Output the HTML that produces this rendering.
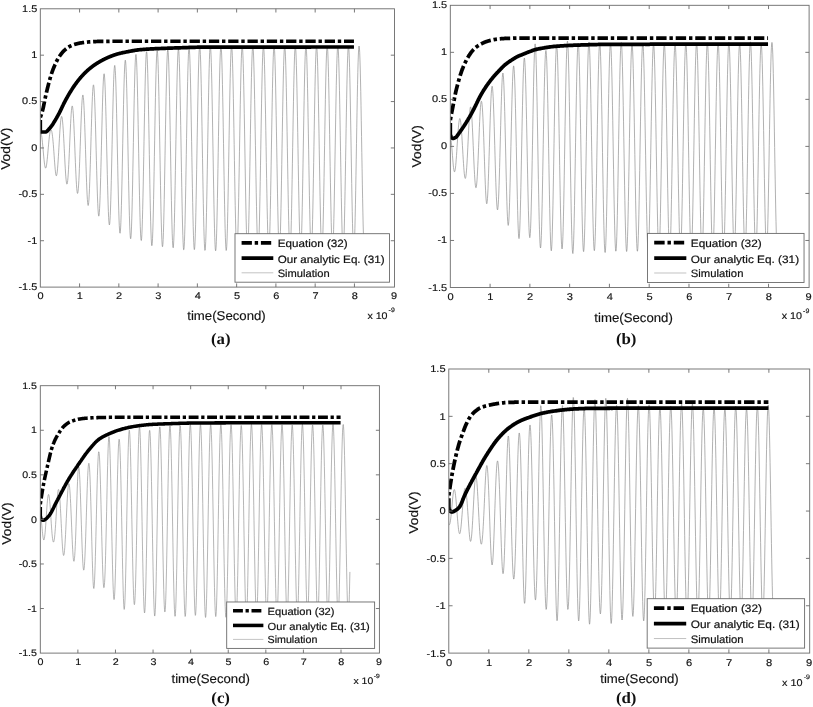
<!DOCTYPE html>
<html><head><meta charset="utf-8"><title>Vod startup figure</title>
<style>
html,body{margin:0;padding:0;background:#fff}
svg{display:block;font-family:"Liberation Sans",sans-serif;text-rendering:geometricPrecision}
</style></head><body>
<svg width="813" height="707" viewBox="0 0 813 707">
<rect width="813" height="707" fill="#fff"/>
<g>
<clipPath id="clip411"><rect x="40.30" y="8.80" width="354.20" height="278.30"/></clipPath>
<g clip-path="url(#clip411)">
<path d="M40.30,132.18 L40.57,132.00 L40.83,132.24 L41.10,132.92 L41.36,134.03 L41.63,135.55 L41.90,137.47 L42.16,139.73 L42.43,142.27 L42.69,145.05 L42.96,147.98 L43.23,150.99 L43.49,153.98 L43.76,156.88 L44.02,159.59 L44.29,162.05 L44.55,164.17 L44.82,165.89 L45.09,167.15 L45.35,167.92 L45.62,168.17 L45.88,167.90 L46.15,167.11 L46.42,165.83 L46.68,164.10 L46.95,161.97 L47.21,159.52 L47.48,156.80 L47.75,153.90 L48.01,150.89 L48.28,147.85 L48.54,144.86 L48.81,142.00 L49.08,139.31 L49.34,136.88 L49.61,134.74 L49.87,132.94 L50.14,131.51 L50.41,130.48 L50.67,129.87 L50.94,129.68 L51.20,129.86 L51.47,130.39 L51.74,131.29 L52.00,132.57 L52.27,134.24 L52.53,136.30 L52.80,138.76 L53.06,141.57 L53.33,144.72 L53.60,148.14 L53.86,151.75 L54.13,155.48 L54.39,159.21 L54.66,162.84 L54.93,166.23 L55.19,169.28 L55.46,171.85 L55.72,173.86 L55.99,175.19 L56.26,175.80 L56.52,175.66 L56.79,174.82 L57.05,173.27 L57.32,171.05 L57.59,168.22 L57.85,164.83 L58.12,160.98 L58.38,156.75 L58.65,152.25 L58.92,147.60 L59.18,142.90 L59.45,138.28 L59.71,133.85 L59.98,129.73 L60.25,126.01 L60.51,122.79 L60.78,120.16 L61.04,118.19 L61.31,116.92 L61.57,116.39 L61.84,116.65 L62.11,117.68 L62.37,119.48 L62.64,122.00 L62.90,125.21 L63.17,129.03 L63.44,133.37 L63.70,138.13 L63.97,143.20 L64.23,148.46 L64.50,153.78 L64.77,159.03 L65.03,164.07 L65.30,168.79 L65.56,173.05 L65.83,176.75 L66.10,179.79 L66.36,182.07 L66.63,183.54 L66.89,184.15 L67.16,183.87 L67.43,182.71 L67.69,180.66 L67.96,177.77 L68.22,174.10 L68.49,169.72 L68.75,164.72 L69.02,159.21 L69.29,153.34 L69.55,147.23 L69.82,141.04 L70.08,134.92 L70.35,129.03 L70.62,123.53 L70.88,118.56 L71.15,114.27 L71.41,110.76 L71.68,108.15 L71.95,106.52 L72.21,105.91 L72.48,106.35 L72.74,107.85 L73.01,110.37 L73.28,113.85 L73.54,118.21 L73.81,123.34 L74.07,129.13 L74.34,135.42 L74.61,142.07 L74.87,148.90 L75.14,155.76 L75.40,162.47 L75.67,168.87 L75.94,174.80 L76.20,180.11 L76.47,184.67 L76.73,188.37 L77.00,191.10 L77.26,192.81 L77.53,193.43 L77.80,192.96 L78.06,191.39 L78.33,188.75 L78.59,185.07 L78.86,180.43 L79.13,174.91 L79.39,168.63 L79.66,161.73 L79.92,154.37 L80.19,146.71 L80.46,138.95 L80.72,131.28 L80.99,123.90 L81.25,116.99 L81.52,110.76 L81.79,105.36 L82.05,100.97 L82.32,97.70 L82.58,95.67 L82.85,94.95 L83.12,95.56 L83.38,97.48 L83.65,100.69 L83.91,105.11 L84.18,110.64 L84.44,117.15 L84.71,124.48 L84.98,132.45 L85.24,140.87 L85.51,149.53 L85.77,158.21 L86.04,166.71 L86.31,174.80 L86.57,182.29 L86.84,188.99 L87.10,194.72 L87.37,199.34 L87.64,202.74 L87.90,204.80 L88.17,205.49 L88.43,204.76 L88.70,202.61 L88.97,199.10 L89.23,194.29 L89.50,188.28 L89.76,181.22 L90.03,173.27 L90.30,164.61 L90.56,155.46 L90.83,146.03 L91.09,136.56 L91.36,127.28 L91.63,118.42 L91.89,110.22 L92.16,102.88 L92.42,96.59 L92.69,91.52 L92.95,87.81 L93.22,85.56 L93.49,84.85 L93.75,85.70 L94.02,88.11 L94.28,92.02 L94.55,97.35 L94.82,103.99 L95.08,111.77 L95.35,120.50 L95.61,129.98 L95.88,139.99 L96.15,150.26 L96.41,160.56 L96.68,170.62 L96.94,180.19 L97.21,189.04 L97.48,196.94 L97.74,203.69 L98.01,209.11 L98.27,213.06 L98.54,215.43 L98.81,216.15 L99.07,215.20 L99.34,212.58 L99.60,208.35 L99.87,202.58 L100.14,195.41 L100.40,187.00 L100.67,177.54 L100.93,167.25 L101.20,156.38 L101.46,145.19 L101.73,133.98 L102.00,123.00 L102.26,112.55 L102.53,102.90 L102.79,94.29 L103.06,86.96 L103.33,81.09 L103.59,76.87 L103.86,74.39 L104.12,73.75 L104.39,74.96 L104.66,77.99 L104.92,82.77 L105.19,89.20 L105.45,97.11 L105.72,106.31 L105.99,116.57 L106.25,127.65 L106.52,139.26 L106.78,151.12 L107.05,162.94 L107.32,174.42 L107.58,185.29 L107.85,195.27 L108.11,204.12 L108.38,211.62 L108.64,217.58 L108.91,221.85 L109.18,224.32 L109.44,224.93 L109.71,223.65 L109.97,220.52 L110.24,215.59 L110.51,208.97 L110.77,200.80 L111.04,191.27 L111.30,180.59 L111.57,169.02 L111.84,156.84 L112.10,144.34 L112.37,131.82 L112.63,119.61 L112.90,108.00 L113.17,97.30 L113.43,87.78 L113.70,79.70 L113.96,73.27 L114.23,68.67 L114.50,66.03 L114.76,65.42 L115.03,66.87 L115.29,70.34 L115.56,75.75 L115.83,82.97 L116.09,91.83 L116.36,102.12 L116.62,113.57 L116.89,125.91 L117.15,138.84 L117.42,152.04 L117.69,165.17 L117.95,177.92 L118.22,189.96 L118.48,201.01 L118.75,210.77 L119.02,219.01 L119.28,225.51 L119.55,230.12 L119.81,232.72 L120.08,233.23 L120.35,231.63 L120.61,227.96 L120.88,222.30 L121.14,214.78 L121.41,205.59 L121.68,194.94 L121.94,183.11 L122.21,170.37 L122.47,157.04 L122.74,143.45 L123.01,129.94 L123.27,116.83 L123.54,104.45 L123.80,93.11 L124.07,83.10 L124.33,74.65 L124.60,67.99 L124.87,63.29 L125.13,60.66 L125.40,60.18 L125.66,61.86 L125.93,65.68 L126.20,71.53 L126.46,79.30 L126.73,88.78 L126.99,99.76 L127.26,111.97 L127.53,125.11 L127.79,138.87 L128.06,152.89 L128.32,166.85 L128.59,180.38 L128.86,193.16 L129.12,204.87 L129.39,215.22 L129.65,223.93 L129.92,230.79 L130.19,235.63 L130.45,238.31 L130.72,238.77 L130.98,236.99 L131.25,233.01 L131.52,226.92 L131.78,218.86 L132.05,209.02 L132.31,197.63 L132.58,184.96 L132.84,171.33 L133.11,157.06 L133.38,142.51 L133.64,128.05 L133.91,114.03 L134.17,100.80 L134.44,88.72 L134.71,78.07 L134.97,69.14 L135.24,62.15 L135.50,57.30 L135.77,54.70 L136.04,54.43 L136.30,56.48 L136.57,60.79 L136.83,67.27 L137.10,75.74 L137.37,85.98 L137.63,97.75 L137.90,110.74 L138.16,124.63 L138.43,139.08 L138.70,153.73 L138.96,168.21 L139.23,182.17 L139.49,195.27 L139.76,207.18 L140.03,217.63 L140.29,226.35 L140.56,233.14 L140.82,237.83 L141.09,240.31 L141.35,240.53 L141.62,238.50 L141.89,234.27 L142.15,227.94 L142.42,219.63 L142.68,209.55 L142.95,197.91 L143.22,185.00 L143.48,171.12 L143.75,156.59 L144.01,141.78 L144.28,127.04 L144.55,112.74 L144.81,99.23 L145.08,86.86 L145.34,75.96 L145.61,66.79 L145.88,59.61 L146.14,54.61 L146.41,51.93 L146.67,51.64 L146.94,53.74 L147.21,58.17 L147.47,64.83 L147.74,73.55 L148.00,84.14 L148.27,96.32 L148.53,109.81 L148.80,124.26 L149.07,139.33 L149.33,154.65 L149.60,169.82 L149.86,184.47 L150.13,198.24 L150.40,210.78 L150.66,221.78 L150.93,230.96 L151.19,238.09 L151.46,242.99 L151.73,245.54 L151.99,245.67 L152.26,243.38 L152.52,238.72 L152.79,231.83 L153.06,222.86 L153.32,212.05 L153.59,199.66 L153.85,186.00 L154.12,171.42 L154.39,156.26 L154.65,140.92 L154.92,125.76 L155.18,111.16 L155.45,97.48 L155.72,85.05 L155.98,74.19 L156.25,65.14 L156.51,58.14 L156.78,53.35 L157.04,50.88 L157.31,50.81 L157.58,53.11 L157.84,57.73 L158.11,64.57 L158.37,73.47 L158.64,84.21 L158.91,96.54 L159.17,110.16 L159.44,124.74 L159.70,139.93 L159.97,155.35 L160.24,170.63 L160.50,185.38 L160.77,199.24 L161.03,211.86 L161.30,222.91 L161.57,232.13 L161.83,239.26 L162.10,244.13 L162.36,246.61 L162.63,246.64 L162.90,244.22 L163.16,239.41 L163.43,232.35 L163.69,223.20 L163.96,212.20 L164.22,199.62 L164.49,185.78 L164.76,171.01 L165.02,155.69 L165.29,140.19 L165.55,124.90 L165.82,110.19 L166.09,96.43 L166.35,83.94 L166.62,73.05 L166.88,64.00 L167.15,57.02 L167.42,52.29 L167.68,49.91 L167.95,49.93 L168.21,52.36 L168.48,57.12 L168.75,64.12 L169.01,73.18 L169.28,84.09 L169.54,96.60 L169.81,110.40 L170.08,125.16 L170.34,140.51 L170.61,156.09 L170.87,171.51 L171.14,186.38 L171.41,200.33 L171.67,213.02 L171.94,224.12 L172.20,233.34 L172.47,240.46 L172.73,245.28 L173.00,247.68 L173.27,247.60 L173.53,245.05 L173.80,240.09 L174.06,232.86 L174.33,223.53 L174.60,212.34 L174.86,199.57 L175.13,185.54 L175.39,170.59 L175.66,155.10 L175.93,139.45 L176.19,124.02 L176.46,109.21 L176.72,95.36 L176.99,82.83 L177.26,71.90 L177.52,62.86 L177.79,55.91 L178.05,51.23 L178.32,48.93 L178.59,49.06 L178.85,51.59 L179.12,56.47 L179.38,63.60 L179.65,72.80 L179.92,83.86 L180.18,96.54 L180.45,110.53 L180.71,125.49 L180.98,141.07 L181.24,156.89 L181.51,172.55 L181.78,187.66 L182.04,201.84 L182.31,214.74 L182.57,226.01 L182.84,235.37 L183.11,242.56 L183.37,247.40 L183.64,249.76 L183.90,249.57 L184.17,246.85 L184.44,241.66 L184.70,234.15 L184.97,224.52 L185.23,213.00 L185.50,199.89 L185.77,185.54 L186.03,170.29 L186.30,154.53 L186.56,138.65 L186.83,123.04 L187.10,108.09 L187.36,94.16 L187.63,81.58 L187.89,70.66 L188.16,61.65 L188.42,54.76 L188.69,50.17 L188.96,47.96 L189.22,48.20 L189.49,50.88 L189.75,55.93 L190.02,63.25 L190.29,72.66 L190.55,83.93 L190.82,96.80 L191.08,110.95 L191.35,126.05 L191.62,141.72 L191.88,157.59 L192.15,173.25 L192.41,188.33 L192.68,202.44 L192.95,215.23 L193.21,226.38 L193.48,235.60 L193.74,242.66 L194.01,247.37 L194.28,249.62 L194.54,249.34 L194.81,246.55 L195.07,241.33 L195.34,233.80 L195.61,224.15 L195.87,212.62 L196.14,199.49 L196.40,185.09 L196.67,169.76 L196.93,153.90 L197.20,137.88 L197.47,122.12 L197.73,106.99 L198.00,92.86 L198.26,80.10 L198.53,69.01 L198.80,59.86 L199.06,52.88 L199.33,48.25 L199.59,46.08 L199.86,46.41 L200.13,49.25 L200.39,54.52 L200.66,62.10 L200.92,71.79 L201.19,83.37 L201.46,96.56 L201.72,111.02 L201.99,126.40 L202.25,142.32 L202.52,158.40 L202.79,174.23 L203.05,189.42 L203.32,203.60 L203.58,216.41 L203.85,227.53 L204.11,236.70 L204.38,243.67 L204.65,248.28 L204.91,250.40 L205.18,249.99 L205.44,247.06 L205.71,241.68 L205.98,233.97 L206.24,224.15 L206.51,212.45 L206.77,199.16 L207.04,184.62 L207.31,169.18 L207.57,153.23 L207.84,137.17 L208.10,121.38 L208.37,106.26 L208.64,92.18 L208.90,79.49 L209.17,68.49 L209.43,59.45 L209.70,52.59 L209.97,48.08 L210.23,46.03 L210.50,46.49 L210.76,49.44 L211.03,54.81 L211.30,62.47 L211.56,72.24 L211.83,83.89 L212.09,97.12 L212.36,111.63 L212.62,127.05 L212.89,143.00 L213.16,159.10 L213.42,174.95 L213.69,190.14 L213.95,204.32 L214.22,217.12 L214.49,228.21 L214.75,237.33 L215.02,244.25 L215.28,248.78 L215.55,250.81 L215.82,250.29 L216.08,247.23 L216.35,241.71 L216.61,233.88 L216.88,223.92 L217.15,212.10 L217.41,198.70 L217.68,184.06 L217.94,168.55 L218.21,152.56 L218.48,136.47 L218.74,120.69 L219.01,105.59 L219.27,91.56 L219.54,78.94 L219.81,68.03 L220.07,59.09 L220.34,52.34 L220.60,47.94 L220.87,46.00 L221.13,46.57 L221.40,49.63 L221.67,55.10 L221.93,62.87 L222.20,72.74 L222.46,84.47 L222.73,97.76 L223.00,112.31 L223.26,127.75 L223.53,143.69 L223.79,159.76 L224.06,175.55 L224.33,190.66 L224.59,204.74 L224.86,217.42 L225.12,228.39 L225.39,237.38 L225.66,244.15 L225.92,248.56 L226.19,250.47 L226.45,249.84 L226.72,246.70 L226.99,241.11 L227.25,233.22 L227.52,223.22 L227.78,211.37 L228.05,197.96 L228.31,183.33 L228.58,167.84 L228.85,151.86 L229.11,135.81 L229.38,120.06 L229.64,105.02 L229.91,91.04 L230.18,78.48 L230.44,67.64 L230.71,58.77 L230.97,52.11 L231.24,47.81 L231.51,45.97 L231.77,46.64 L232.04,49.80 L232.30,55.37 L232.57,63.22 L232.84,73.16 L233.10,84.96 L233.37,98.31 L233.63,112.91 L233.90,128.39 L234.17,144.37 L234.43,160.47 L234.70,176.27 L234.96,191.40 L235.23,205.47 L235.50,218.13 L235.76,229.07 L236.03,238.01 L236.29,244.73 L236.56,249.05 L236.82,250.86 L237.09,250.13 L237.36,246.85 L237.62,241.13 L237.89,233.11 L238.15,222.98 L238.42,211.01 L238.69,197.49 L238.95,182.77 L239.22,167.20 L239.48,151.18 L239.75,135.11 L240.02,119.37 L240.28,104.35 L240.55,90.43 L240.81,77.94 L241.08,67.18 L241.35,58.42 L241.61,51.87 L241.88,47.68 L242.14,45.95 L242.41,46.73 L242.68,49.99 L242.94,55.66 L243.21,63.61 L243.47,73.63 L243.74,85.50 L244.01,98.91 L244.27,113.55 L244.54,129.06 L244.80,145.06 L245.07,161.15 L245.33,176.93 L245.60,192.02 L245.87,206.04 L246.13,218.64 L246.40,229.50 L246.66,238.35 L246.93,244.96 L247.20,249.18 L247.46,250.88 L247.73,250.04 L247.99,246.66 L248.26,240.84 L248.53,232.72 L248.79,222.51 L249.06,210.46 L249.32,196.89 L249.59,182.12 L249.86,166.53 L250.12,150.50 L250.39,134.43 L250.65,118.71 L250.92,103.73 L251.19,89.87 L251.45,77.44 L251.72,66.77 L251.98,58.10 L252.25,51.64 L252.51,47.55 L252.78,45.93 L253.05,46.82 L253.31,50.18 L253.58,55.96 L253.84,63.99 L254.11,74.10 L254.38,86.04 L254.64,99.51 L254.91,114.20 L255.17,129.74 L255.44,145.75 L255.71,161.83 L255.97,177.59 L256.24,192.64 L256.50,206.61 L256.77,219.14 L257.04,229.92 L257.30,238.67 L257.57,245.19 L257.83,249.30 L258.10,250.90 L258.37,249.95 L258.63,246.46 L258.90,240.54 L259.16,232.32 L259.43,222.03 L259.70,209.92 L259.96,196.28 L260.23,181.47 L260.49,165.85 L260.76,149.81 L261.02,133.75 L261.29,118.05 L261.56,103.12 L261.82,89.30 L262.09,76.95 L262.35,66.35 L262.62,57.77 L262.89,51.42 L263.15,47.43 L263.42,45.92 L263.68,46.91 L263.95,50.38 L264.22,56.25 L264.48,64.38 L264.75,74.57 L265.01,86.58 L265.28,100.12 L265.55,114.85 L265.81,130.41 L266.08,146.43 L266.34,162.51 L266.61,178.25 L266.88,193.26 L267.14,207.17 L267.41,219.63 L267.67,230.33 L267.94,239.00 L268.20,245.42 L268.47,249.42 L268.74,250.91 L269.00,249.85 L269.27,246.26 L269.53,240.23 L269.80,231.93 L270.07,221.55 L270.33,209.36 L270.60,195.67 L270.86,180.82 L271.13,165.17 L271.40,149.12 L271.66,133.07 L271.93,117.40 L272.19,102.50 L272.46,88.74 L272.73,76.46 L272.99,65.95 L273.26,57.46 L273.52,51.20 L273.79,47.32 L274.06,45.91 L274.32,47.01 L274.59,50.58 L274.85,56.55 L275.12,64.78 L275.39,75.05 L275.65,87.13 L275.92,100.72 L276.18,115.50 L276.45,131.09 L276.71,147.12 L276.98,163.19 L277.25,178.91 L277.51,193.88 L277.78,207.74 L278.04,220.13 L278.31,230.75 L278.58,239.32 L278.84,245.64 L279.11,249.54 L279.37,250.92 L279.64,249.75 L279.91,246.05 L280.17,239.92 L280.44,231.52 L280.70,221.06 L280.97,208.81 L281.24,195.06 L281.50,180.16 L281.77,164.49 L282.03,148.44 L282.30,132.39 L282.57,116.74 L282.83,101.89 L283.10,88.19 L283.36,75.97 L283.63,65.54 L283.90,57.14 L284.16,50.98 L284.43,47.21 L284.69,45.91 L284.96,47.11 L285.22,50.79 L285.49,56.86 L285.76,65.17 L286.02,75.53 L286.29,87.68 L286.55,101.33 L286.82,116.15 L287.09,131.77 L287.35,147.81 L287.62,163.87 L287.88,179.57 L288.15,194.50 L288.42,208.30 L288.68,220.62 L288.95,231.15 L289.21,239.64 L289.48,245.86 L289.75,249.65 L290.01,250.92 L290.28,249.64 L290.54,245.84 L290.81,239.61 L291.08,231.12 L291.34,220.58 L291.61,208.25 L291.87,194.45 L292.14,179.51 L292.40,163.81 L292.67,147.75 L292.94,131.71 L293.20,116.09 L293.47,101.28 L293.73,87.64 L294.00,75.49 L294.27,65.14 L294.53,56.83 L294.80,50.77 L295.06,47.10 L295.33,45.91 L295.60,47.22 L295.86,51.00 L296.13,57.17 L296.39,65.58 L296.66,76.02 L296.93,88.24 L297.19,101.94 L297.46,116.80 L297.72,132.45 L297.99,148.49 L298.26,164.55 L298.52,180.22 L298.79,195.11 L299.05,208.85 L299.32,221.11 L299.59,231.56 L299.85,239.95 L300.12,246.07 L300.38,249.75 L300.65,250.92 L300.91,249.53 L301.18,245.62 L301.45,239.29 L301.71,230.71 L301.98,220.09 L302.24,207.69 L302.51,193.83 L302.78,178.85 L303.04,163.13 L303.31,147.06 L303.57,131.03 L303.84,115.44 L304.11,100.67 L304.37,87.09 L304.64,75.01 L304.90,64.74 L305.17,56.53 L305.44,50.57 L305.70,47.00 L305.97,45.91 L306.23,47.33 L306.50,51.22 L306.77,57.48 L307.03,65.98 L307.30,76.50 L307.56,88.79 L307.83,102.56 L308.09,117.45 L308.36,133.12 L308.63,149.18 L308.89,165.23 L309.16,180.87 L309.42,195.72 L309.69,209.41 L309.96,221.59 L310.22,231.96 L310.49,240.26 L310.75,246.27 L311.02,249.86 L311.29,250.91 L311.55,249.41 L311.82,245.40 L312.08,238.97 L312.35,230.30 L312.62,219.59 L312.88,207.13 L313.15,193.21 L313.41,178.20 L313.68,162.45 L313.95,146.37 L314.21,130.36 L314.48,114.79 L314.74,100.07 L315.01,86.54 L315.28,74.53 L315.54,64.35 L315.81,56.23 L316.07,50.37 L316.34,46.90 L316.60,45.92 L316.87,47.44 L317.14,51.44 L317.40,57.80 L317.67,66.39 L317.93,76.99 L318.20,89.35 L318.47,103.17 L318.73,118.11 L319.00,133.80 L319.26,149.87 L319.53,165.91 L319.80,181.53 L320.06,196.33 L320.33,209.96 L320.59,222.07 L320.86,232.36 L321.13,240.56 L321.39,246.48 L321.66,249.95 L321.92,250.90 L322.19,249.29 L322.46,245.17 L322.72,238.65 L322.99,229.88 L323.25,219.09 L323.52,206.56 L323.79,192.59 L324.05,177.54 L324.32,161.77 L324.58,145.69 L324.85,129.68 L325.11,114.15 L325.38,99.46 L325.65,85.99 L325.91,74.06 L326.18,63.96 L326.44,55.93 L326.71,50.17 L326.98,46.81 L327.24,45.94 L327.51,47.56 L327.77,51.66 L328.04,58.12 L328.31,66.80 L328.57,77.48 L328.84,89.91 L329.10,103.79 L329.37,118.77 L329.64,134.48 L329.90,150.56 L330.17,166.59 L330.43,182.18 L330.70,196.94 L330.97,210.51 L331.23,222.55 L331.50,232.75 L331.76,240.86 L332.03,246.68 L332.29,250.05 L332.56,250.88 L332.83,249.17 L333.09,244.94 L333.36,238.32 L333.62,229.46 L333.89,218.59 L334.16,205.99 L334.42,191.97 L334.69,176.88 L334.95,161.09 L335.22,145.00 L335.49,129.01 L335.75,113.50 L336.02,98.86 L336.28,85.45 L336.55,73.59 L336.82,63.57 L337.08,55.64 L337.35,49.97 L337.61,46.72 L337.88,45.95 L338.15,47.69 L338.41,51.89 L338.68,58.45 L338.94,67.22 L339.21,77.98 L339.48,90.48 L339.74,104.40 L340.01,119.42 L340.27,135.16 L340.54,151.24 L340.80,167.26 L341.07,182.83 L341.34,197.55 L341.60,211.06 L341.87,223.02 L342.13,233.14 L342.40,241.16 L342.67,246.87 L342.93,250.13 L343.20,250.86 L343.46,249.04 L343.73,244.71 L344.00,237.98 L344.26,229.04 L344.53,218.09 L344.79,205.42 L345.06,191.34 L345.33,176.21 L345.59,160.41 L345.86,144.31 L346.12,128.33 L346.39,112.86 L346.66,98.26 L346.92,84.91 L347.19,73.12 L347.45,63.19 L347.72,55.35 L347.98,49.79 L348.25,46.64 L348.52,45.98 L348.78,47.82 L349.05,52.12 L349.31,58.78 L349.58,67.64 L349.85,78.48 L350.11,91.04 L350.38,105.03 L350.64,120.08 L350.91,135.85 L351.18,151.93 L351.44,167.94 L351.71,183.47 L351.97,198.15 L352.24,211.60 L352.51,223.49 L352.77,233.53 L353.04,241.45 L353.30,247.06 L353.57,250.22 L353.84,250.84 L354.10,248.90 L354.37,244.47 L354.63,237.65 L354.90,228.61 L355.17,217.58 L355.43,204.85 L355.70,190.72 L355.96,175.55 L356.23,159.72 L356.49,143.63 L356.76,127.66 L357.03,112.21 L357.29,97.67 L357.56,84.37 L357.82,72.66 L358.09,62.81 L358.36,55.06 L358.62,49.60 L358.89,46.56 L359.15,46.00 L359.42,47.95 L359.69,52.36 L359.95,59.11 L360.22,68.06 L360.48,78.98 L360.75,91.61 L361.02,105.65 L361.28,120.74 L361.55,136.53 L361.81,152.62 L362.08,168.61 L362.35,184.12 L362.61,198.75 L362.88,212.14 L363.14,223.96 L363.41,233.91" fill="none" stroke="#8e8e8e" stroke-width="0.68" stroke-linejoin="round"/>
<path d="M40.30,120.12 L40.30,131.99 L40.63,131.99 L40.96,131.99 L41.09,131.99 L41.29,131.99 L41.62,131.99 L41.87,131.99 L41.95,131.99 L42.28,131.99 L42.61,131.99 L42.66,131.99 L42.93,131.99 L43.26,131.99 L43.44,131.99 L43.59,131.99 L43.92,131.99 L44.23,131.99 L44.25,131.99 L44.58,131.99 L44.91,131.99 L45.02,131.99 L45.24,131.99 L45.57,131.99 L45.80,131.94 L45.90,131.92 L46.23,131.78 L46.56,131.58 L46.59,131.56 L46.89,131.34 L47.22,131.05 L47.38,130.89 L47.55,130.72 L47.87,130.37 L48.16,130.04 L48.20,129.99 L48.53,129.60 L48.86,129.21 L48.95,129.11 L49.19,128.82 L49.52,128.44 L49.73,128.20 L49.85,128.07 L50.18,127.70 L50.51,127.31 L50.52,127.30 L50.84,126.90 L51.17,126.48 L51.31,126.29 L51.50,126.04 L51.83,125.58 L52.09,125.21 L52.16,125.11 L52.49,124.63 L52.81,124.14 L52.88,124.05 L53.14,123.64 L53.47,123.12 L53.66,122.82 L53.80,122.60 L54.13,122.06 L54.45,121.54 L54.46,121.52 L54.79,120.97 L55.12,120.41 L55.24,120.21 L55.45,119.85 L55.78,119.28 L56.02,118.85 L56.11,118.70 L56.44,118.12 L56.77,117.54 L56.81,117.47 L57.10,116.96 L57.43,116.37 L57.59,116.07 L57.75,115.78 L58.08,115.19 L58.38,114.66 L58.41,114.61 L58.74,114.01 L59.07,113.39 L59.17,113.21 L59.40,112.76 L59.73,112.11 L59.95,111.66 L60.06,111.44 L60.39,110.76 L60.72,110.08 L60.74,110.03 L61.05,109.38 L61.38,108.68 L61.53,108.37 L61.71,107.98 L62.04,107.28 L62.31,106.69 L62.37,106.58 L62.69,105.88 L63.02,105.19 L63.10,105.03 L63.35,104.50 L63.68,103.83 L63.88,103.43 L64.01,103.17 L64.34,102.53 L64.67,101.90 L64.67,101.90 L65.00,101.28 L65.33,100.67 L65.46,100.43 L65.66,100.05 L65.99,99.44 L66.24,98.98 L66.32,98.84 L66.65,98.24 L66.98,97.64 L67.03,97.55 L67.31,97.05 L67.63,96.46 L67.81,96.15 L67.96,95.88 L68.29,95.31 L68.60,94.77 L68.62,94.74 L68.95,94.17 L69.28,93.61 L69.39,93.43 L69.61,93.06 L69.94,92.51 L70.17,92.13 L70.27,91.97 L70.60,91.44 L70.93,90.91 L70.96,90.86 L71.26,90.39 L71.59,89.87 L71.74,89.62 L71.92,89.36 L72.25,88.85 L72.53,88.41 L72.57,88.34 L72.90,87.84 L73.23,87.35 L73.32,87.22 L73.56,86.85 L73.89,86.37 L74.10,86.06 L74.22,85.89 L74.55,85.41 L74.88,84.94 L74.89,84.93 L75.21,84.48 L75.54,84.02 L75.68,83.83 L75.87,83.57 L76.20,83.12 L76.46,82.76 L76.53,82.67 L76.86,82.24 L77.19,81.81 L77.25,81.72 L77.51,81.38 L77.84,80.95 L78.03,80.71 L78.17,80.53 L78.50,80.12 L78.82,79.72 L78.83,79.71 L79.16,79.30 L79.49,78.90 L79.61,78.76 L79.82,78.50 L80.15,78.10 L80.39,77.82 L80.48,77.71 L80.81,77.33 L81.14,76.95 L81.18,76.90 L81.47,76.57 L81.80,76.20 L81.96,76.02 L82.13,75.84 L82.45,75.48 L82.75,75.16 L82.78,75.12 L83.11,74.77 L83.44,74.43 L83.54,74.33 L83.77,74.08 L84.10,73.74 L84.32,73.52 L84.43,73.41 L84.76,73.08 L85.09,72.75 L85.11,72.73 L85.42,72.43 L85.75,72.11 L85.90,71.96 L86.08,71.79 L86.41,71.48 L86.68,71.22 L86.74,71.17 L87.07,70.86 L87.39,70.56 L87.47,70.50 L87.72,70.27 L88.05,69.97 L88.25,69.80 L88.38,69.69 L88.71,69.40 L89.04,69.12 L89.04,69.12 L89.37,68.85 L89.70,68.57 L89.83,68.47 L90.03,68.30 L90.36,68.04 L90.61,67.83 L90.69,67.77 L91.02,67.51 L91.35,67.26 L91.40,67.22 L91.68,67.00 L92.01,66.75 L92.18,66.62 L92.33,66.51 L92.66,66.26 L92.97,66.04 L92.99,66.02 L93.32,65.78 L93.65,65.55 L93.76,65.47 L93.98,65.31 L94.31,65.08 L94.54,64.92 L94.64,64.85 L94.97,64.63 L95.30,64.41 L95.33,64.39 L95.63,64.19 L95.96,63.97 L96.11,63.87 L96.29,63.76 L96.62,63.54 L96.90,63.36 L96.95,63.33 L97.27,63.13 L97.60,62.92 L97.69,62.87 L97.93,62.72 L98.26,62.52 L98.47,62.39 L98.59,62.32 L98.92,62.12 L99.25,61.93 L99.26,61.92 L99.58,61.74 L99.91,61.55 L100.05,61.47 L100.24,61.36 L100.57,61.17 L100.83,61.02 L100.90,60.99 L101.23,60.81 L101.56,60.62 L101.62,60.59 L101.89,60.45 L102.22,60.27 L102.40,60.17 L102.54,60.09 L102.87,59.92 L103.19,59.75 L103.20,59.74 L103.53,59.57 L103.86,59.40 L103.98,59.34 L104.19,59.23 L104.52,59.07 L104.76,58.95 L104.85,58.90 L105.18,58.74 L105.51,58.58 L105.55,58.56 L105.84,58.42 L106.17,58.27 L106.33,58.19 L106.50,58.11 L106.83,57.96 L107.12,57.83 L107.16,57.81 L107.48,57.66 L107.81,57.52 L107.91,57.48 L108.14,57.37 L108.47,57.23 L108.69,57.14 L108.80,57.09 L109.13,56.95 L109.46,56.82 L109.48,56.81 L109.79,56.68 L110.12,56.55 L110.27,56.49 L110.45,56.42 L110.78,56.29 L111.05,56.18 L111.11,56.16 L111.44,56.03 L111.77,55.91 L111.84,55.88 L112.10,55.78 L112.42,55.66 L112.62,55.59 L112.75,55.54 L113.08,55.42 L113.41,55.31 L113.41,55.31 L113.74,55.20 L114.07,55.08 L114.20,55.04 L114.40,54.97 L114.73,54.86 L114.98,54.78 L115.06,54.75 L115.39,54.65 L115.72,54.54 L115.77,54.53 L116.05,54.44 L116.38,54.33 L116.55,54.28 L116.71,54.23 L117.04,54.13 L117.34,54.04 L117.36,54.04 L117.69,53.94 L118.02,53.84 L118.13,53.81 L118.35,53.75 L118.68,53.66 L118.91,53.60 L119.01,53.57 L119.70,53.39 L120.48,53.20 L121.27,53.02 L122.06,52.85 L122.84,52.68 L123.63,52.52 L124.42,52.37 L125.20,52.21 L125.99,52.05 L126.77,51.89 L127.56,51.73 L128.35,51.57 L129.13,51.41 L129.92,51.25 L130.70,51.10 L131.49,50.95 L132.28,50.82 L133.06,50.68 L133.85,50.55 L134.63,50.42 L135.42,50.29 L136.21,50.17 L136.99,50.06 L137.78,49.96 L138.57,49.87 L139.35,49.78 L140.14,49.70 L140.92,49.62 L141.71,49.55 L142.50,49.48 L143.28,49.41 L144.07,49.35 L144.85,49.29 L145.64,49.24 L146.43,49.19 L147.21,49.14 L148.00,49.09 L148.79,49.05 L149.57,49.00 L150.36,48.96 L151.14,48.92 L151.93,48.88 L152.72,48.83 L153.50,48.80 L154.29,48.76 L155.07,48.72 L155.86,48.68 L156.65,48.65 L157.43,48.61 L158.22,48.58 L159.00,48.54 L159.79,48.51 L160.58,48.48 L161.36,48.44 L162.15,48.41 L162.94,48.38 L163.72,48.35 L164.51,48.32 L165.29,48.29 L166.08,48.26 L166.87,48.23 L167.65,48.20 L168.44,48.18 L169.22,48.15 L170.01,48.12 L170.80,48.09 L171.58,48.07 L172.37,48.04 L173.16,48.02 L173.94,47.99 L174.73,47.96 L175.51,47.94 L176.30,47.91 L177.09,47.89 L177.87,47.86 L178.66,47.83 L179.44,47.81 L180.23,47.78 L181.02,47.75 L181.80,47.73 L182.59,47.70 L183.37,47.67 L184.16,47.64 L184.95,47.61 L185.73,47.59 L186.52,47.56 L187.31,47.53 L188.09,47.50 L188.88,47.47 L189.66,47.45 L190.45,47.42 L191.24,47.40 L192.02,47.37 L192.81,47.35 L193.59,47.32 L194.38,47.30 L195.17,47.28 L195.95,47.26 L196.74,47.24 L197.52,47.22 L198.31,47.20 L199.10,47.18 L199.88,47.17 L200.67,47.16 L201.46,47.15 L202.24,47.14 L203.03,47.13 L203.81,47.12 L204.60,47.12 L205.39,47.11 L206.17,47.11 L206.96,47.11 L207.74,47.11 L208.53,47.11 L209.32,47.11 L210.10,47.11 L210.89,47.10 L211.68,47.10 L212.46,47.10 L213.25,47.10 L214.03,47.10 L214.82,47.10 L215.61,47.10 L216.39,47.10 L217.18,47.10 L217.96,47.09 L218.75,47.09 L219.54,47.09 L220.32,47.09 L221.11,47.09 L221.89,47.09 L222.68,47.09 L223.47,47.09 L224.25,47.09 L225.04,47.09 L225.83,47.08 L226.61,47.08 L227.40,47.08 L228.18,47.08 L228.97,47.08 L229.76,47.08 L230.54,47.08 L231.33,47.08 L232.11,47.08 L232.90,47.08 L233.69,47.08 L234.47,47.07 L235.26,47.07 L236.05,47.07 L236.83,47.07 L237.62,47.07 L238.40,47.07 L239.19,47.07 L239.98,47.07 L240.76,47.07 L241.55,47.07 L242.33,47.07 L243.12,47.07 L243.91,47.06 L244.69,47.06 L245.48,47.06 L246.26,47.06 L247.05,47.06 L247.84,47.06 L248.62,47.06 L249.41,47.06 L250.20,47.06 L250.98,47.06 L251.77,47.06 L252.55,47.06 L253.34,47.06 L254.13,47.06 L254.91,47.05 L255.70,47.05 L256.48,47.05 L257.27,47.05 L258.06,47.05 L258.84,47.05 L259.63,47.05 L260.41,47.05 L261.20,47.05 L261.99,47.05 L262.77,47.05 L263.56,47.05 L264.35,47.05 L265.13,47.05 L265.92,47.05 L266.70,47.05 L267.49,47.05 L268.28,47.04 L269.06,47.04 L269.85,47.04 L270.63,47.04 L271.42,47.04 L272.21,47.04 L272.99,47.04 L273.78,47.04 L274.57,47.04 L275.35,47.04 L276.14,47.04 L276.92,47.04 L277.71,47.04 L278.50,47.04 L279.28,47.04 L280.07,47.04 L280.85,47.04 L281.64,47.04 L282.43,47.04 L283.21,47.04 L284.00,47.04 L284.78,47.03 L285.57,47.03 L286.36,47.03 L287.14,47.03 L287.93,47.03 L288.72,47.03 L289.50,47.03 L290.29,47.03 L291.07,47.03 L291.86,47.03 L292.65,47.03 L293.43,47.03 L294.22,47.03 L295.00,47.03 L295.79,47.03 L296.58,47.03 L297.36,47.03 L298.15,47.03 L298.94,47.03 L299.72,47.03 L300.51,47.03 L301.29,47.03 L302.08,47.03 L302.87,47.03 L303.65,47.03 L304.44,47.03 L305.22,47.03 L306.01,47.03 L306.80,47.03 L307.58,47.03 L308.37,47.03 L309.15,47.03 L309.94,47.03 L310.73,47.03 L311.51,47.02 L312.30,47.02 L313.09,47.02 L313.87,47.02 L314.66,47.02 L315.44,47.02 L316.23,47.02 L317.02,47.02 L317.80,47.02 L318.59,47.02 L319.37,47.02 L320.16,47.02 L320.95,47.02 L321.73,47.02 L322.52,47.02 L323.30,47.02 L324.09,47.02 L324.88,47.02 L325.66,47.02 L326.45,47.02 L327.24,47.02 L328.02,47.02 L328.81,47.02 L329.59,47.02 L330.38,47.02 L331.17,47.02 L331.95,47.02 L332.74,47.02 L333.52,47.02 L334.31,47.02 L335.10,47.02 L335.88,47.02 L336.67,47.02 L337.46,47.02 L338.24,47.02 L339.03,47.02 L339.81,47.02 L340.60,47.02 L341.39,47.02 L342.17,47.02 L342.96,47.02 L343.74,47.02 L344.53,47.02 L345.32,47.02 L346.10,47.02 L346.89,47.02 L347.67,47.02 L348.46,47.02 L349.25,47.02 L350.03,47.02 L350.82,47.02 L351.61,47.02 L352.39,47.02 L353.18,47.02 L353.96,47.02" fill="none" stroke="#000" stroke-width="3.70" stroke-linejoin="round"/>
<path d="M40.30,117.34 L40.63,116.52 L40.96,115.63 L41.09,115.28 L41.29,114.69 L41.62,113.69 L41.87,112.87 L41.95,112.63 L42.28,111.51 L42.61,110.33 L42.66,110.12 L42.93,109.02 L43.26,107.59 L43.44,106.76 L43.59,106.06 L43.92,104.46 L44.23,102.93 L44.25,102.82 L44.58,101.16 L44.91,99.51 L45.02,98.98 L45.24,97.88 L45.57,96.30 L45.80,95.24 L45.90,94.81 L46.23,93.42 L46.56,92.07 L46.59,91.94 L46.89,90.72 L47.22,89.38 L47.38,88.74 L47.55,88.05 L47.87,86.74 L48.16,85.60 L48.20,85.44 L48.53,84.15 L48.86,82.89 L48.95,82.57 L49.19,81.65 L49.52,80.43 L49.73,79.66 L49.85,79.23 L50.18,78.07 L50.51,76.94 L50.52,76.90 L50.84,75.84 L51.17,74.78 L51.31,74.34 L51.50,73.75 L51.83,72.77 L52.09,72.00 L52.16,71.82 L52.49,70.92 L52.81,70.04 L52.88,69.87 L53.14,69.18 L53.47,68.33 L53.66,67.85 L53.80,67.51 L54.13,66.70 L54.45,65.94 L54.46,65.91 L54.79,65.14 L55.12,64.39 L55.24,64.13 L55.45,63.66 L55.78,62.95 L56.02,62.44 L56.11,62.26 L56.44,61.59 L56.77,60.94 L56.81,60.86 L57.10,60.31 L57.43,59.70 L57.59,59.40 L57.75,59.12 L58.08,58.56 L58.38,58.07 L58.41,58.01 L58.74,57.49 L59.07,56.98 L59.17,56.83 L59.40,56.48 L59.73,55.98 L59.95,55.66 L60.06,55.51 L60.39,55.04 L60.72,54.58 L60.74,54.56 L61.05,54.14 L61.38,53.71 L61.53,53.52 L61.71,53.29 L62.04,52.89 L62.31,52.56 L62.37,52.49 L62.69,52.11 L63.02,51.75 L63.10,51.67 L63.35,51.39 L63.68,51.05 L63.88,50.85 L64.01,50.72 L64.34,50.41 L64.67,50.11 L64.67,50.11 L65.00,49.82 L65.33,49.54 L65.46,49.43 L65.66,49.26 L65.99,48.99 L66.24,48.79 L66.32,48.73 L66.65,48.47 L66.98,48.22 L67.03,48.18 L67.31,47.98 L67.63,47.74 L67.81,47.62 L67.96,47.51 L68.29,47.29 L68.60,47.09 L68.62,47.08 L68.95,46.88 L69.28,46.68 L69.39,46.62 L69.61,46.49 L69.94,46.31 L70.17,46.19 L70.27,46.14 L70.60,45.98 L70.93,45.83 L70.96,45.82 L71.26,45.68 L71.59,45.54 L71.74,45.47 L71.92,45.40 L72.25,45.27 L72.53,45.15 L72.57,45.14 L72.90,45.01 L73.23,44.89 L73.32,44.86 L73.56,44.77 L73.89,44.66 L74.10,44.59 L74.22,44.55 L74.55,44.44 L74.88,44.34 L74.89,44.33 L75.21,44.24 L75.54,44.14 L75.68,44.10 L75.87,44.05 L76.20,43.96 L76.46,43.89 L76.53,43.87 L76.86,43.78 L77.19,43.70 L77.25,43.69 L77.51,43.62 L77.84,43.54 L78.03,43.50 L78.17,43.47 L78.50,43.39 L78.82,43.32 L78.83,43.32 L79.16,43.25 L79.49,43.18 L79.61,43.16 L79.82,43.11 L80.15,43.05 L80.39,43.00 L80.48,42.98 L80.81,42.92 L81.14,42.87 L81.18,42.86 L81.47,42.81 L81.80,42.75 L81.96,42.73 L82.13,42.70 L82.45,42.65 L82.75,42.61 L82.78,42.60 L83.11,42.56 L83.44,42.51 L83.54,42.50 L83.77,42.47 L84.10,42.43 L84.32,42.40 L84.43,42.38 L84.76,42.34 L85.09,42.30 L85.11,42.30 L85.42,42.26 L85.75,42.23 L85.90,42.21 L86.08,42.19 L86.41,42.16 L86.68,42.13 L86.74,42.12 L87.07,42.09 L87.39,42.06 L87.47,42.05 L87.72,42.03 L88.05,42.00 L88.25,41.99 L88.38,41.98 L88.71,41.95 L89.04,41.93 L89.04,41.93 L89.37,41.91 L89.70,41.88 L89.83,41.88 L90.03,41.86 L90.36,41.84 L90.61,41.82 L90.69,41.82 L91.02,41.80 L91.35,41.78 L91.40,41.78 L91.68,41.76 L92.01,41.74 L92.18,41.73 L92.33,41.72 L92.66,41.70 L92.97,41.68 L92.99,41.68 L93.32,41.66 L93.65,41.64 L93.76,41.64 L93.98,41.63 L94.31,41.61 L94.54,41.60 L94.64,41.59 L94.97,41.57 L95.30,41.56 L95.33,41.56 L95.63,41.54 L95.96,41.53 L96.11,41.52 L96.29,41.51 L96.62,41.50 L96.90,41.49 L96.95,41.48 L97.27,41.47 L97.60,41.46 L97.69,41.46 L97.93,41.45 L98.26,41.44 L98.47,41.43 L98.59,41.43 L98.92,41.42 L99.25,41.41 L99.26,41.41 L99.58,41.40 L99.91,41.39 L100.05,41.39 L100.24,41.38 L100.57,41.38 L100.83,41.37 L100.90,41.37 L101.23,41.36 L101.56,41.36 L101.62,41.36 L101.89,41.36 L102.22,41.35 L102.40,41.35 L102.54,41.35 L102.87,41.35 L103.19,41.34 L103.20,41.34 L103.53,41.34 L103.86,41.33 L103.98,41.33 L104.19,41.33 L104.52,41.33 L104.76,41.32 L104.85,41.32 L105.18,41.32 L105.51,41.32 L105.55,41.32 L105.84,41.31 L106.17,41.31 L106.33,41.31 L106.50,41.31 L106.83,41.31 L107.12,41.30 L107.16,41.30 L107.48,41.30 L107.81,41.30 L107.91,41.30 L108.14,41.30 L108.47,41.29 L108.69,41.29 L108.80,41.29 L109.13,41.29 L109.46,41.29 L109.48,41.29 L109.79,41.28 L110.12,41.28 L110.27,41.28 L110.45,41.28 L110.78,41.28 L111.05,41.28 L111.11,41.28 L111.44,41.28 L111.77,41.27 L111.84,41.27 L112.10,41.27 L112.42,41.27 L112.62,41.27 L112.75,41.27 L113.08,41.27 L113.41,41.27 L113.41,41.27 L113.74,41.27 L114.07,41.27 L114.20,41.27 L114.40,41.27 L114.73,41.27 L114.98,41.27 L115.06,41.27 L115.39,41.27 L115.72,41.27 L115.77,41.27 L116.05,41.27 L116.38,41.27 L116.55,41.27 L116.71,41.27 L117.04,41.27 L117.34,41.27 L117.36,41.27 L117.69,41.27 L118.02,41.27 L118.13,41.27 L118.35,41.27 L118.68,41.27 L118.91,41.27 L119.01,41.27 L119.70,41.27 L120.48,41.27 L121.27,41.27 L122.06,41.27 L122.84,41.27 L123.63,41.27 L124.42,41.27 L125.20,41.27 L125.99,41.27 L126.77,41.27 L127.56,41.27 L128.35,41.27 L129.13,41.27 L129.92,41.27 L130.70,41.27 L131.49,41.27 L132.28,41.27 L133.06,41.27 L133.85,41.27 L134.63,41.27 L135.42,41.27 L136.21,41.27 L136.99,41.27 L137.78,41.27 L138.57,41.27 L139.35,41.27 L140.14,41.27 L140.92,41.27 L141.71,41.27 L142.50,41.27 L143.28,41.27 L144.07,41.27 L144.85,41.27 L145.64,41.27 L146.43,41.27 L147.21,41.27 L148.00,41.27 L148.79,41.27 L149.57,41.27 L150.36,41.27 L151.14,41.27 L151.93,41.27 L152.72,41.27 L153.50,41.27 L154.29,41.27 L155.07,41.27 L155.86,41.27 L156.65,41.27 L157.43,41.27 L158.22,41.27 L159.00,41.27 L159.79,41.27 L160.58,41.27 L161.36,41.27 L162.15,41.27 L162.94,41.27 L163.72,41.27 L164.51,41.27 L165.29,41.27 L166.08,41.27 L166.87,41.27 L167.65,41.27 L168.44,41.27 L169.22,41.27 L170.01,41.27 L170.80,41.27 L171.58,41.27 L172.37,41.27 L173.16,41.27 L173.94,41.27 L174.73,41.27 L175.51,41.27 L176.30,41.27 L177.09,41.27 L177.87,41.27 L178.66,41.27 L179.44,41.27 L180.23,41.27 L181.02,41.27 L181.80,41.27 L182.59,41.27 L183.37,41.27 L184.16,41.27 L184.95,41.27 L185.73,41.27 L186.52,41.27 L187.31,41.27 L188.09,41.27 L188.88,41.27 L189.66,41.27 L190.45,41.27 L191.24,41.27 L192.02,41.27 L192.81,41.27 L193.59,41.27 L194.38,41.27 L195.17,41.27 L195.95,41.27 L196.74,41.27 L197.52,41.27 L198.31,41.27 L199.10,41.27 L199.88,41.27 L200.67,41.27 L201.46,41.27 L202.24,41.27 L203.03,41.27 L203.81,41.27 L204.60,41.27 L205.39,41.27 L206.17,41.27 L206.96,41.27 L207.74,41.27 L208.53,41.27 L209.32,41.27 L210.10,41.27 L210.89,41.27 L211.68,41.27 L212.46,41.27 L213.25,41.27 L214.03,41.27 L214.82,41.27 L215.61,41.27 L216.39,41.27 L217.18,41.27 L217.96,41.27 L218.75,41.27 L219.54,41.27 L220.32,41.27 L221.11,41.27 L221.89,41.27 L222.68,41.27 L223.47,41.27 L224.25,41.27 L225.04,41.27 L225.83,41.27 L226.61,41.27 L227.40,41.27 L228.18,41.27 L228.97,41.27 L229.76,41.27 L230.54,41.27 L231.33,41.27 L232.11,41.27 L232.90,41.27 L233.69,41.27 L234.47,41.27 L235.26,41.27 L236.05,41.27 L236.83,41.27 L237.62,41.27 L238.40,41.27 L239.19,41.27 L239.98,41.27 L240.76,41.27 L241.55,41.27 L242.33,41.27 L243.12,41.27 L243.91,41.27 L244.69,41.27 L245.48,41.27 L246.26,41.27 L247.05,41.27 L247.84,41.27 L248.62,41.27 L249.41,41.27 L250.20,41.27 L250.98,41.27 L251.77,41.27 L252.55,41.27 L253.34,41.27 L254.13,41.27 L254.91,41.27 L255.70,41.27 L256.48,41.27 L257.27,41.27 L258.06,41.27 L258.84,41.27 L259.63,41.27 L260.41,41.27 L261.20,41.27 L261.99,41.27 L262.77,41.27 L263.56,41.27 L264.35,41.27 L265.13,41.27 L265.92,41.27 L266.70,41.27 L267.49,41.27 L268.28,41.27 L269.06,41.27 L269.85,41.27 L270.63,41.27 L271.42,41.27 L272.21,41.27 L272.99,41.27 L273.78,41.27 L274.57,41.27 L275.35,41.27 L276.14,41.27 L276.92,41.27 L277.71,41.27 L278.50,41.27 L279.28,41.27 L280.07,41.27 L280.85,41.27 L281.64,41.27 L282.43,41.27 L283.21,41.27 L284.00,41.27 L284.78,41.27 L285.57,41.27 L286.36,41.27 L287.14,41.27 L287.93,41.27 L288.72,41.27 L289.50,41.27 L290.29,41.27 L291.07,41.27 L291.86,41.27 L292.65,41.27 L293.43,41.27 L294.22,41.27 L295.00,41.27 L295.79,41.27 L296.58,41.27 L297.36,41.27 L298.15,41.27 L298.94,41.27 L299.72,41.27 L300.51,41.27 L301.29,41.27 L302.08,41.27 L302.87,41.27 L303.65,41.27 L304.44,41.27 L305.22,41.27 L306.01,41.27 L306.80,41.27 L307.58,41.27 L308.37,41.27 L309.15,41.27 L309.94,41.27 L310.73,41.27 L311.51,41.27 L312.30,41.27 L313.09,41.27 L313.87,41.27 L314.66,41.27 L315.44,41.27 L316.23,41.27 L317.02,41.27 L317.80,41.27 L318.59,41.27 L319.37,41.27 L320.16,41.27 L320.95,41.27 L321.73,41.27 L322.52,41.27 L323.30,41.27 L324.09,41.27 L324.88,41.27 L325.66,41.27 L326.45,41.27 L327.24,41.27 L328.02,41.27 L328.81,41.27 L329.59,41.27 L330.38,41.27 L331.17,41.27 L331.95,41.27 L332.74,41.27 L333.52,41.27 L334.31,41.27 L335.10,41.27 L335.88,41.27 L336.67,41.27 L337.46,41.27 L338.24,41.27 L339.03,41.27 L339.81,41.27 L340.60,41.27 L341.39,41.27 L342.17,41.27 L342.96,41.27 L343.74,41.27 L344.53,41.27 L345.32,41.27 L346.10,41.27 L346.89,41.27 L347.67,41.27 L348.46,41.27 L349.25,41.27 L350.03,41.27 L350.82,41.27 L351.61,41.27 L352.39,41.27 L353.18,41.27 L353.96,41.27" fill="none" stroke="#000" stroke-width="3.70" stroke-dasharray="10.30 2.80 3.40 2.80" stroke-dashoffset="13.10" stroke-linejoin="round"/>
</g>
<rect x="40.30" y="8.80" width="354.20" height="278.30" fill="none" stroke="#6a6a6a" stroke-width="0.9"/>
<path d="M79.57 287.10v-3.70M79.57 8.80v3.70M118.83 287.10v-3.70M118.83 8.80v3.70M158.10 287.10v-3.70M158.10 8.80v3.70M197.37 287.10v-3.70M197.37 8.80v3.70M236.63 287.10v-3.70M236.63 8.80v3.70M275.90 287.10v-3.70M275.90 8.80v3.70M315.17 287.10v-3.70M315.17 8.80v3.70M354.43 287.10v-3.70M354.43 8.80v3.70M40.30 55.18h3.70M394.50 55.18h-3.70M40.30 101.57h3.70M394.50 101.57h-3.70M40.30 147.95h3.70M394.50 147.95h-3.70M40.30 194.33h3.70M394.50 194.33h-3.70M40.30 240.72h3.70M394.50 240.72h-3.70" fill="none" stroke="#6a6a6a" stroke-width="0.9"/>
<rect x="235.00" y="233.70" width="154.50" height="48.50" fill="#fff" stroke="#6a6a6a" stroke-width="0.9"/>
<path d="M241.60 242.90H273.30" stroke="#000" stroke-width="3.70" stroke-dasharray="10.30 2.80 3.40 2.80"/>
<path d="M241.60 258.20H273.30" stroke="#000" stroke-width="3.70"/>
<path d="M241.60 272.80H273.30" stroke="#b4b4b4" stroke-width="0.80"/>
<g fill="#111" stroke="#111" stroke-width="0.15">
<text transform="translate(40.60 298.80) scale(1.130 1)" font-size="9.70" text-anchor="middle">0</text>
<text transform="translate(79.87 298.80) scale(1.130 1)" font-size="9.70" text-anchor="middle">1</text>
<text transform="translate(119.13 298.80) scale(1.130 1)" font-size="9.70" text-anchor="middle">2</text>
<text transform="translate(158.40 298.80) scale(1.130 1)" font-size="9.70" text-anchor="middle">3</text>
<text transform="translate(197.67 298.80) scale(1.130 1)" font-size="9.70" text-anchor="middle">4</text>
<text transform="translate(236.93 298.80) scale(1.130 1)" font-size="9.70" text-anchor="middle">5</text>
<text transform="translate(276.20 298.80) scale(1.130 1)" font-size="9.70" text-anchor="middle">6</text>
<text transform="translate(315.47 298.80) scale(1.130 1)" font-size="9.70" text-anchor="middle">7</text>
<text transform="translate(354.73 298.80) scale(1.130 1)" font-size="9.70" text-anchor="middle">8</text>
<text transform="translate(394.00 298.80) scale(1.130 1)" font-size="9.70" text-anchor="middle">9</text>
<text transform="translate(37.20 11.70) scale(1.120 1)" font-size="9.70" text-anchor="end">1.5</text>
<text transform="translate(37.20 58.08) scale(1.120 1)" font-size="9.70" text-anchor="end">1</text>
<text transform="translate(37.20 104.47) scale(1.120 1)" font-size="9.70" text-anchor="end">0.5</text>
<text transform="translate(37.20 150.85) scale(1.120 1)" font-size="9.70" text-anchor="end">0</text>
<text transform="translate(37.20 197.23) scale(1.120 1)" font-size="9.70" text-anchor="end">-0.5</text>
<text transform="translate(37.20 243.62) scale(1.120 1)" font-size="9.70" text-anchor="end">-1</text>
<text transform="translate(37.20 290.00) scale(1.120 1)" font-size="9.70" text-anchor="end">-1.5</text>
<text transform="translate(367.40 319.20) scale(1.100 1)" font-size="9.70" text-anchor="start">x 10</text>
<text transform="translate(388.60 312.40) scale(1.100 1)" font-size="6.30" text-anchor="start">-9</text>
<text transform="translate(226.50 320.30) scale(1.040 1)" font-size="12.70" text-anchor="middle">time(Second)</text>
<text transform="translate(10.10 148.70) rotate(-90) scale(1.090 1)" font-size="12.70" text-anchor="middle">Vod(V)</text>
</g>
<g fill="#111" stroke="#111" stroke-width="0.2">
<text transform="translate(277.70 247.00) scale(1.100 1)" font-size="10.60" text-anchor="start">Equation (32)</text>
<text transform="translate(277.70 262.50) scale(1.100 1)" font-size="10.60" text-anchor="start">Our analytic Eq. (31)</text>
<text transform="translate(277.70 276.90) scale(1.050 1)" font-size="10.60" text-anchor="start">Simulation</text>
</g>
</g>
<g>
<clipPath id="clip4508"><rect x="450.30" y="5.30" width="358.80" height="282.20"/></clipPath>
<g clip-path="url(#clip4508)">
<path d="M450.30,136.09 L450.57,137.02 L450.84,138.47 L451.11,140.42 L451.38,142.83 L451.65,145.64 L451.92,148.75 L452.19,152.08 L452.46,155.50 L452.72,158.88 L452.99,162.11 L453.26,165.04 L453.53,167.57 L453.80,169.58 L454.07,170.99 L454.34,171.73 L454.61,171.77 L454.88,171.17 L455.15,169.91 L455.42,168.05 L455.69,165.61 L455.96,162.66 L456.23,159.27 L456.50,155.53 L456.77,151.53 L457.03,147.37 L457.30,143.16 L457.57,139.01 L457.84,135.01 L458.11,131.26 L458.38,127.86 L458.65,124.89 L458.92,122.42 L459.19,120.53 L459.46,119.24 L459.73,118.61 L460.00,118.64 L460.27,119.37 L460.54,120.77 L460.81,122.82 L461.08,125.48 L461.35,128.69 L461.61,132.38 L461.88,136.46 L462.15,140.84 L462.42,145.43 L462.69,150.09 L462.96,154.74 L463.23,159.24 L463.50,163.49 L463.77,167.39 L464.04,170.82 L464.31,173.70 L464.58,175.95 L464.85,177.51 L465.12,178.31 L465.39,178.36 L465.66,177.63 L465.92,176.15 L466.19,173.90 L466.46,170.93 L466.73,167.28 L467.00,163.01 L467.27,158.21 L467.54,152.99 L467.81,147.46 L468.08,141.76 L468.35,136.04 L468.62,130.44 L468.89,125.13 L469.16,120.25 L469.43,115.95 L469.70,112.36 L469.97,109.61 L470.24,107.78 L470.50,106.93 L470.77,107.10 L471.04,108.26 L471.31,110.39 L471.58,113.42 L471.85,117.30 L472.12,121.92 L472.39,127.17 L472.66,132.92 L472.93,139.03 L473.20,145.35 L473.47,151.71 L473.74,157.96 L474.01,163.95 L474.28,169.53 L474.55,174.56 L474.82,178.92 L475.08,182.50 L475.35,185.21 L475.62,186.97 L475.89,187.76 L476.16,187.53 L476.43,186.29 L476.70,184.05 L476.97,180.87 L477.24,176.81 L477.51,171.98 L477.78,166.49 L478.05,160.46 L478.32,154.03 L478.59,147.37 L478.86,140.62 L479.13,133.96 L479.39,127.55 L479.66,121.54 L479.93,116.08 L480.20,111.31 L480.47,107.35 L480.74,104.31 L481.01,102.27 L481.28,101.30 L481.55,101.38 L481.82,102.50 L482.09,104.67 L482.36,107.88 L482.63,112.10 L482.90,117.27 L483.17,123.31 L483.44,130.11 L483.71,137.53 L483.97,145.42 L484.24,153.57 L484.51,161.79 L484.78,169.85 L485.05,177.53 L485.32,184.59 L485.59,190.81 L485.86,196.00 L486.13,199.98 L486.40,202.59 L486.67,203.75 L486.94,203.42 L487.21,201.65 L487.48,198.49 L487.75,194.01 L488.02,188.31 L488.28,181.53 L488.55,173.84 L488.82,165.44 L489.09,156.53 L489.36,147.32 L489.63,138.06 L489.90,128.97 L490.17,120.28 L490.44,112.20 L490.71,104.93 L490.98,98.66 L491.25,93.54 L491.52,89.70 L491.79,87.23 L492.06,86.22 L492.33,86.68 L492.60,88.63 L492.86,92.02 L493.13,96.77 L493.40,102.78 L493.67,109.89 L493.94,117.94 L494.21,126.72 L494.48,136.04 L494.75,145.65 L495.02,155.32 L495.29,164.83 L495.56,173.93 L495.83,182.40 L496.10,190.03 L496.37,196.63 L496.64,202.04 L496.91,206.12 L497.17,208.75 L497.44,209.88 L497.71,209.47 L497.98,207.54 L498.25,204.13 L498.52,199.27 L498.79,193.06 L499.06,185.62 L499.33,177.09 L499.60,167.67 L499.87,157.56 L500.14,147.00 L500.41,136.23 L500.68,125.54 L500.95,115.18 L501.22,105.44 L501.49,96.58 L501.75,88.83 L502.02,82.44 L502.29,77.58 L502.56,74.41 L502.83,73.05 L503.10,73.51 L503.37,75.80 L503.64,79.86 L503.91,85.62 L504.18,92.94 L504.45,101.67 L504.72,111.58 L504.99,122.46 L505.26,134.02 L505.53,145.99 L505.80,158.07 L506.06,169.94 L506.33,181.32 L506.60,191.89 L506.87,201.40 L507.14,209.59 L507.41,216.24 L507.68,221.18 L507.95,224.26 L508.22,225.41 L508.49,224.59 L508.76,221.83 L509.03,217.18 L509.30,210.76 L509.57,202.74 L509.84,193.30 L510.11,182.70 L510.38,171.17 L510.64,159.02 L510.91,146.55 L511.18,134.05 L511.45,121.84 L511.72,110.22 L511.99,99.48 L512.26,89.87 L512.53,81.64 L512.80,74.98 L513.07,70.06 L513.34,67.00 L513.61,65.88 L513.88,66.67 L514.15,69.31 L514.42,73.78 L514.69,80.03 L514.96,87.95 L515.22,97.42 L515.49,108.25 L515.76,120.23 L516.03,133.09 L516.30,146.54 L516.57,160.25 L516.84,173.86 L517.11,187.03 L517.38,199.38 L517.65,210.55 L517.92,220.22 L518.19,228.08 L518.46,233.88 L518.73,237.42 L519.00,238.58 L519.27,237.37 L519.53,233.87 L519.80,228.17 L520.07,220.44 L520.34,210.89 L520.61,199.78 L520.88,187.40 L521.15,174.07 L521.42,160.13 L521.69,145.94 L521.96,131.85 L522.23,118.21 L522.50,105.34 L522.77,93.54 L523.04,83.09 L523.31,74.24 L523.58,67.17 L523.85,62.03 L524.11,58.95 L524.38,57.98 L524.65,59.15 L524.92,62.46 L525.19,67.83 L525.46,75.13 L525.73,84.19 L526.00,94.80 L526.27,106.69 L526.54,119.59 L526.81,133.19 L527.08,147.16 L527.35,161.16 L527.62,174.85 L527.89,187.89 L528.16,199.96 L528.42,210.76 L528.69,220.03 L528.96,227.52 L529.23,233.04 L529.50,236.45 L529.77,237.65 L530.04,236.67 L530.31,233.55 L530.58,228.32 L530.85,221.07 L531.12,211.91 L531.39,201.02 L531.66,188.62 L531.93,174.98 L532.20,160.40 L532.47,145.23 L532.74,129.84 L533.00,114.63 L533.27,100.00 L533.54,86.34 L533.81,74.05 L534.08,63.48 L534.35,54.95 L534.62,48.71 L534.89,44.98 L535.16,43.88 L535.43,45.37 L535.70,49.35 L535.97,55.74 L536.24,64.36 L536.51,75.01 L536.78,87.42 L537.05,101.28 L537.31,116.24 L537.58,131.94 L537.85,147.98 L538.12,163.96 L538.39,179.50 L538.66,194.19 L538.93,207.69 L539.20,219.66 L539.47,229.81 L539.74,237.88 L540.01,243.68 L540.28,247.07 L540.55,247.97 L540.82,246.32 L541.09,242.16 L541.36,235.61 L541.63,226.85 L541.89,216.13 L542.16,203.75 L542.43,190.03 L542.70,175.34 L542.97,160.04 L543.24,144.54 L543.51,129.21 L543.78,114.42 L544.05,100.52 L544.32,87.84 L544.59,76.67 L544.86,67.25 L545.13,59.79 L545.40,54.44 L545.67,51.32 L545.94,50.47 L546.20,51.89 L546.47,55.54 L546.74,61.36 L547.01,69.25 L547.28,79.07 L547.55,90.61 L547.82,103.65 L548.09,117.88 L548.36,133.00 L548.63,148.64 L548.90,164.43 L549.17,179.95 L549.44,194.83 L549.71,208.64 L549.98,221.02 L550.25,231.61 L550.52,240.10 L550.78,246.25 L551.05,249.85 L551.32,250.78 L551.59,249.08 L551.86,244.80 L552.13,238.07 L552.40,229.08 L552.67,218.05 L552.94,205.27 L553.21,191.08 L553.48,175.84 L553.75,159.92 L554.02,143.74 L554.29,127.69 L554.56,112.17 L554.83,97.55 L555.10,84.18 L555.36,72.37 L555.63,62.41 L555.90,54.53 L556.17,48.90 L556.44,45.65 L556.71,44.85 L556.98,46.53 L557.25,50.68 L557.52,57.18 L557.79,65.88 L558.06,76.57 L558.33,88.99 L558.60,102.83 L558.87,117.76 L559.14,133.40 L559.41,149.38 L559.67,165.31 L559.94,180.78 L560.21,195.43 L560.48,208.88 L560.75,220.81 L561.02,230.92 L561.29,238.96 L561.56,244.72 L561.83,248.06 L562.10,248.90 L562.37,247.22 L562.64,243.06 L562.91,236.51 L563.18,227.74 L563.45,216.94 L563.72,204.38 L563.99,190.35 L564.25,175.19 L564.52,159.28 L564.79,143.00 L565.06,126.75 L565.33,110.94 L565.60,95.95 L565.87,82.16 L566.14,69.92 L566.41,59.54 L566.68,51.28 L566.95,45.36 L567.22,41.93 L567.49,41.08 L567.76,42.84 L568.03,47.15 L568.30,53.92 L568.56,62.99 L568.83,74.14 L569.10,87.11 L569.37,101.57 L569.64,117.17 L569.91,133.54 L570.18,150.26 L570.45,166.91 L570.72,183.09 L570.99,198.40 L571.26,212.44 L571.53,224.86 L571.80,235.35 L572.07,243.65 L572.34,249.54 L572.61,252.87 L572.88,253.56 L573.14,251.56 L573.41,246.92 L573.68,239.78 L573.95,230.32 L574.22,218.80 L574.49,205.52 L574.76,190.84 L575.03,175.13 L575.30,158.79 L575.57,142.23 L575.84,125.86 L576.11,110.08 L576.38,95.27 L576.65,81.79 L576.92,69.94 L577.19,60.00 L577.45,52.19 L577.72,46.69 L577.99,43.61 L578.26,43.01 L578.53,44.94 L578.80,49.35 L579.07,56.14 L579.34,65.15 L579.61,76.17 L579.88,88.94 L580.15,103.16 L580.42,118.47 L580.69,134.52 L580.96,150.90 L581.23,167.21 L581.50,183.06 L581.77,198.03 L582.03,211.76 L582.30,223.90 L582.57,234.14 L582.84,242.21 L583.11,247.91 L583.38,251.08 L583.65,251.65 L583.92,249.60 L584.19,244.99 L584.46,237.95 L584.73,228.64 L585.00,217.31 L585.27,204.23 L585.54,189.74 L585.81,174.20 L586.08,157.99 L586.35,141.52 L586.61,125.19 L586.88,109.41 L587.15,94.55 L587.42,80.99 L587.69,69.06 L587.96,59.03 L588.23,51.17 L588.50,45.65 L588.77,42.60 L589.04,42.11 L589.31,44.18 L589.58,48.78 L589.85,55.79 L590.12,65.03 L590.39,76.28 L590.66,89.26 L590.92,103.66 L591.19,119.10 L591.46,135.22 L591.73,151.62 L592.00,167.89 L592.27,183.62 L592.54,198.44 L592.81,211.97 L593.08,223.89 L593.35,233.89 L593.62,241.74 L593.89,247.23 L594.16,250.23 L594.43,250.67 L594.70,248.53 L594.97,243.86 L595.24,236.77 L595.50,227.45 L595.77,216.14 L596.04,203.11 L596.31,188.70 L596.58,173.26 L596.85,157.17 L597.12,140.85 L597.39,124.68 L597.66,109.07 L597.93,94.40 L598.20,81.02 L598.47,69.27 L598.74,59.43 L599.01,51.73 L599.28,46.37 L599.55,43.46 L599.81,43.08 L600.08,45.22 L600.35,49.82 L600.62,56.78 L600.89,65.95 L601.16,77.11 L601.43,90.01 L601.70,104.35 L601.97,119.77 L602.24,135.91 L602.51,152.37 L602.78,168.75 L603.05,184.64 L603.32,199.65 L603.59,213.38 L603.86,225.49 L604.13,235.66 L604.39,243.63 L604.66,249.18 L604.93,252.17 L605.20,252.51 L605.47,250.19 L605.74,245.27 L606.01,237.89 L606.28,228.25 L606.55,216.60 L606.82,203.24 L607.09,188.53 L607.36,172.83 L607.63,156.55 L607.90,140.08 L608.17,123.85 L608.44,108.24 L608.70,93.62 L608.97,80.36 L609.24,68.76 L609.51,59.09 L609.78,51.57 L610.05,46.38 L610.32,43.62 L610.59,43.36 L610.86,45.61 L611.13,50.33 L611.40,57.40 L611.67,66.67 L611.94,77.92 L612.21,90.87 L612.48,105.22 L612.75,120.62 L613.02,136.69 L613.28,153.05 L613.55,169.28 L613.82,184.99 L614.09,199.78 L614.36,213.29 L614.63,225.16 L614.90,235.10 L615.17,242.85 L615.44,248.20 L615.71,251.03 L615.98,251.25 L616.25,248.86 L616.52,243.94 L616.79,236.60 L617.06,227.04 L617.33,215.49 L617.59,202.24 L617.86,187.63 L618.13,172.02 L618.40,155.80 L618.67,139.37 L618.94,123.14 L619.21,107.50 L619.48,92.84 L619.75,79.52 L620.02,67.85 L620.29,58.14 L620.56,50.59 L620.83,45.41 L621.10,42.71 L621.37,42.55 L621.64,44.94 L621.91,49.82 L622.17,57.07 L622.44,66.53 L622.71,77.96 L622.98,91.10 L623.25,105.61 L623.52,121.16 L623.79,137.36 L624.06,153.80 L624.33,170.10 L624.60,185.84 L624.87,200.63 L625.14,214.10 L625.41,225.91 L625.68,235.77 L625.95,243.42 L626.22,248.66 L626.49,251.37 L626.75,251.47 L627.02,248.94 L627.29,243.84 L627.56,236.31 L627.83,226.56 L628.10,214.84 L628.37,201.47 L628.64,186.79 L628.91,171.17 L629.18,155.02 L629.45,138.72 L629.72,122.69 L629.99,107.32 L630.26,92.98 L630.53,80.00 L630.80,68.70 L631.06,59.32 L631.33,52.10 L631.60,47.18 L631.87,44.67 L632.14,44.63 L632.41,47.05 L632.68,51.90 L632.95,59.06 L633.22,68.37 L633.49,79.62 L633.76,92.54 L634.03,106.84 L634.30,122.18 L634.57,138.17 L634.84,154.44 L635.11,170.58 L635.38,186.19 L635.64,200.88 L635.91,214.26 L636.18,226.00 L636.45,235.79 L636.72,243.37 L636.99,248.53 L637.26,251.15 L637.53,251.14 L637.80,248.51 L638.07,243.34 L638.34,235.76 L638.61,225.98 L638.88,214.24 L639.15,200.85 L639.42,186.15 L639.69,170.51 L639.95,154.32 L640.22,137.98 L640.49,121.90 L640.76,106.48 L641.03,92.08 L641.30,79.05 L641.57,67.70 L641.84,58.31 L642.11,51.09 L642.38,46.20 L642.65,43.77 L642.92,43.83 L643.19,46.41 L643.46,51.44 L643.73,58.80 L644.00,68.32 L644.27,79.77 L644.53,92.89 L644.80,107.35 L645.07,122.80 L645.34,138.87 L645.61,155.16 L645.88,171.28 L646.15,186.81 L646.42,201.38 L646.69,214.61 L646.96,226.18 L647.23,235.78 L647.50,243.17 L647.77,248.17 L648.04,250.64 L648.31,250.51 L648.58,247.79 L648.84,242.54 L649.11,234.91 L649.38,225.09 L649.65,213.34 L649.92,199.95 L650.19,185.28 L650.46,169.69 L650.73,153.56 L651.00,137.31 L651.27,121.33 L651.54,106.01 L651.81,91.72 L652.08,78.82 L652.35,67.60 L652.62,58.33 L652.89,51.23 L653.16,46.47 L653.42,44.15 L653.69,44.33 L653.96,46.97 L654.23,52.03 L654.50,59.39 L654.77,68.90 L655.04,80.34 L655.31,93.45 L655.58,107.92 L655.85,123.41 L656.12,139.55 L656.39,155.95 L656.66,172.19 L656.93,187.88 L657.20,202.62 L657.47,216.02 L657.73,227.74 L658.00,237.47 L658.27,244.95 L658.54,249.96 L658.81,252.38 L659.08,252.13 L659.35,249.22 L659.62,243.73 L659.89,235.82 L660.16,225.70 L660.43,213.64 L660.70,199.96 L660.97,185.02 L661.24,169.20 L661.51,152.90 L661.78,136.53 L662.05,120.50 L662.31,105.19 L662.58,90.97 L662.85,78.17 L663.12,67.09 L663.39,57.98 L663.66,51.05 L663.93,46.44 L664.20,44.26 L664.47,44.54 L664.74,47.28 L665.01,52.42 L665.28,59.85 L665.55,69.42 L665.82,80.90 L666.09,94.05 L666.36,108.56 L666.63,124.09 L666.89,140.26 L667.16,156.68 L667.43,172.96 L667.70,188.67 L667.97,203.42 L668.24,216.82 L668.51,228.52 L668.78,238.22 L669.05,245.64 L669.32,250.58 L669.59,252.90 L669.86,252.53 L670.13,249.49 L670.40,243.86 L670.67,235.80 L670.94,225.54 L671.20,213.34 L671.47,199.54 L671.74,184.48 L672.01,168.57 L672.28,152.20 L672.55,135.78 L672.82,119.72 L673.09,104.41 L673.36,90.20 L673.63,77.44 L673.90,66.42 L674.17,57.39 L674.44,50.54 L674.71,46.03 L674.98,43.96 L675.25,44.35 L675.52,47.24 L675.78,52.55 L676.05,60.16 L676.32,69.90 L676.59,81.54 L676.86,94.81 L677.13,109.38 L677.40,124.91 L677.67,141.02 L677.94,157.31 L678.21,173.39 L678.48,188.85 L678.75,203.30 L679.02,216.38 L679.29,227.75 L679.56,237.13 L679.83,244.25 L680.09,248.95 L680.36,251.09 L680.63,250.62 L680.90,247.55 L681.17,241.97 L681.44,234.02 L681.71,223.91 L681.98,211.89 L682.25,198.28 L682.52,183.41 L682.79,167.67 L683.06,151.44 L683.33,135.13 L683.60,119.14 L683.87,103.86 L684.14,89.66 L684.41,76.88 L684.67,65.84 L684.94,56.79 L685.21,49.95 L685.48,45.48 L685.75,43.47 L686.02,43.98 L686.29,46.98 L686.56,52.40 L686.83,60.12 L687.10,69.98 L687.37,81.73 L687.64,95.12 L687.91,109.81 L688.18,125.47 L688.45,141.70 L688.72,158.11 L688.98,174.31 L689.25,189.87 L689.52,204.42 L689.79,217.57 L690.06,228.99 L690.33,238.38 L690.60,245.49 L690.87,250.14 L691.14,252.20 L691.41,251.60 L691.68,248.37 L691.95,242.60 L692.22,234.44 L692.49,224.11 L692.76,211.87 L693.03,198.05 L693.30,183.00 L693.56,167.10 L693.83,150.75 L694.10,134.35 L694.37,118.32 L694.64,103.03 L694.91,88.86 L695.18,76.16 L695.45,65.20 L695.72,56.26 L695.99,49.54 L696.26,45.19 L696.53,43.30 L696.80,43.92 L697.07,47.02 L697.34,52.54 L697.61,60.36 L697.87,70.31 L698.14,82.16 L698.41,95.62 L698.68,110.39 L698.95,126.11 L699.22,142.41 L699.49,158.88 L699.76,175.11 L700.03,190.71 L700.30,205.27 L700.57,218.42 L700.84,229.82 L701.11,239.17 L701.38,246.23 L701.65,250.79 L701.92,252.75 L702.19,252.03 L702.45,248.67 L702.72,242.76 L702.99,234.45 L703.26,223.98 L703.53,211.60 L703.80,197.65 L704.07,182.48 L704.34,166.48 L704.61,150.04 L704.88,133.58 L705.15,117.50 L705.42,102.20 L705.69,88.03 L705.96,75.35 L706.23,64.44 L706.50,55.56 L706.77,48.92 L707.03,44.66 L707.30,42.87 L707.57,43.60 L707.84,46.83 L708.11,52.49 L708.38,60.45 L708.65,70.54 L708.92,82.51 L709.19,96.10 L709.46,110.97 L709.73,126.77 L710.00,143.12 L710.27,159.62 L710.54,175.86 L710.81,191.44 L711.08,205.95 L711.34,219.03 L711.61,230.35 L711.88,239.60 L712.15,246.54 L712.42,250.99 L712.69,252.82 L712.96,251.99 L713.23,248.50 L713.50,242.47 L713.77,234.05 L714.04,223.47 L714.31,211.00 L714.58,196.98 L714.85,181.77 L715.12,165.74 L715.39,149.31 L715.66,132.89 L715.92,116.87 L716.19,101.64 L716.46,87.58 L716.73,75.02 L717.00,64.24 L717.27,55.49 L717.54,48.98 L717.81,44.85 L718.08,43.19 L718.35,44.04 L718.62,47.40 L718.89,53.20 L719.16,61.29 L719.43,71.48 L719.70,83.53 L719.97,97.14 L720.23,111.98 L720.50,127.69 L720.77,143.88 L721.04,160.16 L721.31,176.11 L721.58,191.36 L721.85,205.51 L722.12,218.22 L722.39,229.16 L722.66,238.06 L722.93,244.69 L723.20,248.89 L723.47,250.56 L723.74,249.64 L724.01,246.17 L724.28,240.24 L724.55,231.99 L724.81,221.63 L725.08,209.42 L725.35,195.65 L725.62,180.67 L725.89,164.84 L726.16,148.57 L726.43,132.25 L726.70,116.28 L726.97,101.06 L727.24,86.96 L727.51,74.33 L727.78,63.48 L728.05,54.67 L728.32,48.13 L728.59,44.02 L728.86,42.42 L729.12,43.39 L729.39,46.91 L729.66,52.87 L729.93,61.15 L730.20,71.53 L730.47,83.75 L730.74,97.53 L731.01,112.51 L731.28,128.33 L731.55,144.59 L731.82,160.90 L732.09,176.86 L732.36,192.06 L732.63,206.14 L732.90,218.74 L733.17,229.56 L733.44,238.33 L733.70,244.83 L733.97,248.90 L734.24,250.44 L734.51,249.40 L734.78,245.81 L735.05,239.75 L735.32,231.37 L735.59,220.91 L735.86,208.61 L736.13,194.79 L736.40,179.81 L736.67,164.03 L736.94,147.84 L737.21,131.65 L737.48,115.86 L737.75,100.85 L738.01,86.99 L738.28,74.62 L738.55,64.03 L738.82,55.47 L739.09,49.15 L739.36,45.22 L739.63,43.77 L739.90,44.83 L740.17,48.37 L740.44,54.32 L740.71,62.53 L740.98,72.82 L741.25,84.93 L741.52,98.58 L741.79,113.44 L742.06,129.14 L742.33,145.32 L742.59,161.55 L742.86,177.46 L743.13,192.64 L743.40,206.70 L743.67,219.30 L743.94,230.12 L744.21,238.88 L744.48,245.35 L744.75,249.36 L745.02,250.82 L745.29,249.68 L745.56,246.00 L745.83,239.85 L746.10,231.40 L746.37,220.85 L746.64,208.45 L746.91,194.53 L747.17,179.42 L747.44,163.49 L747.71,147.13 L747.98,130.76 L748.25,114.78 L748.52,99.57 L748.79,85.52 L749.06,72.96 L749.33,62.22 L749.60,53.56 L749.87,47.18 L750.14,43.25 L750.41,41.86 L750.68,43.04 L750.95,46.75 L751.22,52.91 L751.48,61.36 L751.75,71.92 L752.02,84.34 L752.29,98.30 L752.56,113.49 L752.83,129.53 L753.10,146.02 L753.37,162.57 L753.64,178.76 L753.91,194.19 L754.18,208.47 L754.45,221.25 L754.72,232.18 L754.99,241.01 L755.26,247.49 L755.53,251.46 L755.80,252.82 L756.06,251.51 L756.33,247.55 L756.60,241.06 L756.87,232.21 L757.14,221.25 L757.41,208.48 L757.68,194.23 L757.95,178.87 L758.22,162.79 L758.49,146.41 L758.76,130.13 L759.03,114.35 L759.30,99.45 L759.57,85.77 L759.84,73.65 L760.11,63.35 L760.37,55.11 L760.64,49.11 L760.91,45.46 L761.18,44.26 L761.45,45.53 L761.72,49.27 L761.99,55.38 L762.26,63.73 L762.53,74.12 L762.80,86.32 L763.07,100.02 L763.34,114.90 L763.61,130.61 L763.88,146.74 L764.15,162.92 L764.42,178.74 L764.69,193.81 L764.95,207.74 L765.22,220.18 L765.49,230.81 L765.76,239.37 L766.03,245.62 L766.30,249.40 L766.57,250.62 L766.84,249.25 L767.11,245.34 L767.38,238.98 L767.65,230.34 L767.92,219.63 L768.19,207.11 L768.46,193.10 L768.73,177.94 L769.00,162.00 L769.26,145.69 L769.53,129.40 L769.80,113.54 L770.07,98.50 L770.34,84.64 L770.61,72.30 L770.88,61.80 L771.15,53.39 L771.42,47.27 L771.69,43.59 L771.96,42.45 L772.23,43.86 L772.50,47.79 L772.77,54.14 L773.04,62.76 L773.31,73.45 L773.58,85.95 L773.84,99.96 L774.11,115.13 L774.38,131.10 L774.65,147.47 L774.92,163.85 L775.19,179.82 L775.46,194.98 L775.73,208.97 L776.00,221.43 L776.27,232.05 L776.54,240.55 L776.81,246.73" fill="none" stroke="#8e8e8e" stroke-width="0.69" stroke-linejoin="round"/>
<path d="M450.30,122.88 L450.30,134.17 L450.63,135.62 L450.97,136.75 L451.10,136.99 L451.30,137.25 L451.63,137.62 L451.89,137.86 L451.97,137.93 L452.30,138.16 L452.64,138.32 L452.69,138.34 L452.97,138.40 L453.30,138.39 L453.49,138.37 L453.64,138.33 L453.97,138.23 L454.28,138.11 L454.30,138.10 L454.64,137.93 L454.97,137.75 L455.08,137.69 L455.30,137.57 L455.64,137.37 L455.87,137.20 L455.97,137.12 L456.31,136.82 L456.64,136.47 L456.67,136.43 L456.97,136.08 L457.31,135.66 L457.47,135.44 L457.64,135.20 L457.97,134.73 L458.26,134.31 L458.31,134.25 L458.64,133.76 L458.97,133.26 L459.06,133.14 L459.31,132.78 L459.64,132.30 L459.86,132.01 L459.97,131.85 L460.31,131.39 L460.64,130.92 L460.65,130.91 L460.98,130.45 L461.31,129.98 L461.45,129.78 L461.64,129.50 L461.98,129.01 L462.25,128.62 L462.31,128.52 L462.64,128.03 L462.98,127.53 L463.04,127.43 L463.31,127.03 L463.64,126.52 L463.84,126.23 L463.98,126.01 L464.31,125.50 L464.63,125.00 L464.65,124.98 L464.98,124.46 L465.31,123.93 L465.43,123.74 L465.65,123.40 L465.98,122.87 L466.23,122.47 L466.31,122.33 L466.65,121.79 L466.98,121.24 L467.02,121.17 L467.31,120.70 L467.65,120.15 L467.82,119.86 L467.98,119.59 L468.32,119.04 L468.62,118.53 L468.65,118.48 L468.98,117.92 L469.32,117.35 L469.41,117.19 L469.65,116.79 L469.98,116.21 L470.21,115.82 L470.32,115.63 L470.65,115.04 L470.98,114.44 L471.00,114.40 L471.32,113.83 L471.65,113.21 L471.80,112.94 L471.98,112.59 L472.32,111.97 L472.60,111.44 L472.65,111.34 L472.99,110.70 L473.32,110.07 L473.39,109.93 L473.65,109.43 L473.99,108.78 L474.19,108.38 L474.32,108.12 L474.65,107.45 L474.99,106.77 L474.99,106.77 L475.32,106.08 L475.65,105.40 L475.78,105.13 L475.99,104.70 L476.32,104.01 L476.58,103.47 L476.66,103.31 L476.99,102.61 L477.32,101.92 L477.38,101.81 L477.66,101.23 L477.99,100.54 L478.17,100.17 L478.32,99.86 L478.66,99.18 L478.97,98.56 L478.99,98.52 L479.32,97.86 L479.66,97.22 L479.76,97.01 L479.99,96.58 L480.33,95.96 L480.56,95.53 L480.66,95.36 L480.99,94.77 L481.33,94.18 L481.36,94.13 L481.66,93.61 L481.99,93.03 L482.15,92.76 L482.33,92.47 L482.66,91.91 L482.95,91.43 L482.99,91.36 L483.33,90.81 L483.66,90.27 L483.75,90.14 L483.99,89.74 L484.33,89.21 L484.54,88.88 L484.66,88.69 L485.00,88.18 L485.33,87.67 L485.34,87.65 L485.66,87.16 L486.00,86.67 L486.14,86.46 L486.33,86.17 L486.66,85.69 L486.93,85.30 L487.00,85.21 L487.33,84.73 L487.66,84.26 L487.73,84.18 L488.00,83.80 L488.33,83.34 L488.52,83.08 L488.67,82.89 L489.00,82.44 L489.32,82.01 L489.33,82.00 L489.67,81.56 L490.00,81.12 L490.12,80.97 L490.33,80.69 L490.67,80.27 L490.91,79.96 L491.00,79.84 L491.33,79.43 L491.67,79.01 L491.71,78.96 L492.00,78.60 L492.34,78.20 L492.51,77.99 L492.67,77.80 L493.00,77.40 L493.30,77.04 L493.34,77.00 L493.67,76.61 L494.00,76.22 L494.10,76.12 L494.34,75.84 L494.67,75.46 L494.89,75.21 L495.00,75.09 L495.34,74.72 L495.67,74.35 L495.69,74.33 L496.00,73.99 L496.34,73.63 L496.49,73.47 L496.67,73.27 L497.01,72.91 L497.28,72.61 L497.34,72.55 L497.67,72.20 L498.01,71.85 L498.08,71.77 L498.34,71.50 L498.67,71.15 L498.88,70.94 L499.01,70.80 L499.34,70.45 L499.67,70.10 L499.67,70.10 L500.01,69.75 L500.34,69.40 L500.47,69.26 L500.68,69.04 L501.01,68.69 L501.27,68.42 L501.34,68.34 L501.68,67.99 L502.01,67.64 L502.06,67.59 L502.34,67.30 L502.68,66.96 L502.86,66.78 L503.01,66.62 L503.34,66.30 L503.65,65.99 L503.68,65.97 L504.01,65.66 L504.35,65.35 L504.45,65.25 L504.68,65.05 L505.01,64.76 L505.25,64.56 L505.35,64.48 L505.68,64.20 L506.01,63.94 L506.04,63.91 L506.35,63.68 L506.68,63.42 L506.84,63.30 L507.01,63.17 L507.35,62.93 L507.64,62.72 L507.68,62.69 L508.01,62.45 L508.35,62.22 L508.43,62.16 L508.68,61.99 L509.02,61.76 L509.23,61.62 L509.35,61.54 L509.68,61.32 L510.02,61.10 L510.03,61.09 L510.35,60.88 L510.68,60.66 L510.82,60.58 L511.02,60.45 L511.35,60.23 L511.62,60.06 L511.68,60.02 L512.02,59.80 L512.35,59.59 L512.41,59.55 L512.69,59.38 L513.02,59.16 L513.21,59.04 L513.35,58.95 L513.69,58.74 L514.01,58.54 L514.02,58.53 L514.35,58.33 L514.69,58.12 L514.80,58.05 L515.02,57.92 L515.35,57.73 L515.60,57.58 L515.69,57.53 L516.02,57.34 L516.36,57.16 L516.40,57.14 L516.69,56.98 L517.02,56.80 L517.19,56.71 L517.36,56.63 L517.69,56.46 L517.99,56.32 L518.02,56.31 L518.36,56.15 L518.69,56.00 L518.78,55.96 L519.02,55.85 L519.36,55.71 L519.58,55.61 L519.69,55.57 L520.02,55.43 L520.36,55.29 L520.38,55.29 L520.69,55.16 L521.03,55.03 L521.17,54.97 L521.36,54.90 L521.69,54.77 L521.97,54.66 L522.03,54.64 L522.36,54.51 L522.69,54.38 L522.77,54.35 L523.03,54.25 L523.36,54.11 L523.56,54.03 L523.69,53.98 L524.03,53.85 L524.36,53.71 L524.36,53.71 L524.70,53.57 L525.03,53.44 L525.16,53.38 L525.36,53.30 L525.70,53.16 L525.95,53.06 L526.03,53.03 L526.36,52.89 L526.70,52.75 L526.75,52.73 L527.03,52.62 L527.36,52.48 L527.54,52.41 L527.70,52.35 L528.03,52.22 L528.34,52.10 L528.37,52.09 L528.70,51.96 L529.03,51.83 L529.14,51.79 L529.37,51.70 L529.70,51.58 L529.93,51.49 L530.03,51.46 L530.73,51.20 L531.53,50.91 L532.32,50.61 L533.12,50.33 L533.92,50.06 L534.71,49.80 L535.51,49.57 L536.30,49.37 L537.10,49.18 L537.90,49.01 L538.69,48.85 L539.49,48.70 L540.29,48.55 L541.08,48.41 L541.88,48.27 L542.67,48.12 L543.47,47.97 L544.27,47.83 L545.06,47.69 L545.86,47.55 L546.66,47.42 L547.45,47.29 L548.25,47.18 L549.05,47.07 L549.84,46.96 L550.64,46.86 L551.43,46.76 L552.23,46.66 L553.03,46.57 L553.82,46.49 L554.62,46.41 L555.42,46.33 L556.21,46.26 L557.01,46.20 L557.81,46.14 L558.60,46.08 L559.40,46.02 L560.19,45.97 L560.99,45.92 L561.79,45.86 L562.58,45.81 L563.38,45.76 L564.18,45.72 L564.97,45.67 L565.77,45.63 L566.56,45.58 L567.36,45.54 L568.16,45.50 L568.95,45.46 L569.75,45.42 L570.55,45.38 L571.34,45.35 L572.14,45.31 L572.94,45.28 L573.73,45.24 L574.53,45.21 L575.32,45.18 L576.12,45.15 L576.92,45.12 L577.71,45.10 L578.51,45.07 L579.31,45.04 L580.10,45.02 L580.90,44.99 L581.70,44.96 L582.49,44.94 L583.29,44.91 L584.08,44.88 L584.88,44.86 L585.68,44.83 L586.47,44.81 L587.27,44.78 L588.07,44.76 L588.86,44.73 L589.66,44.71 L590.45,44.68 L591.25,44.66 L592.05,44.64 L592.84,44.62 L593.64,44.60 L594.44,44.58 L595.23,44.55 L596.03,44.54 L596.83,44.52 L597.62,44.50 L598.42,44.48 L599.21,44.47 L600.01,44.45 L600.81,44.43 L601.60,44.42 L602.40,44.41 L603.20,44.40 L603.99,44.38 L604.79,44.37 L605.59,44.37 L606.38,44.36 L607.18,44.35 L607.97,44.35 L608.77,44.34 L609.57,44.34 L610.36,44.34 L611.16,44.33 L611.96,44.33 L612.75,44.33 L613.55,44.33 L614.34,44.33 L615.14,44.32 L615.94,44.32 L616.73,44.32 L617.53,44.32 L618.33,44.31 L619.12,44.31 L619.92,44.31 L620.72,44.31 L621.51,44.31 L622.31,44.30 L623.10,44.30 L623.90,44.30 L624.70,44.30 L625.49,44.30 L626.29,44.29 L627.09,44.29 L627.88,44.29 L628.68,44.29 L629.48,44.29 L630.27,44.29 L631.07,44.28 L631.86,44.28 L632.66,44.28 L633.46,44.28 L634.25,44.28 L635.05,44.27 L635.85,44.27 L636.64,44.27 L637.44,44.27 L638.23,44.27 L639.03,44.27 L639.83,44.26 L640.62,44.26 L641.42,44.26 L642.22,44.26 L643.01,44.26 L643.81,44.26 L644.61,44.25 L645.40,44.25 L646.20,44.25 L646.99,44.25 L647.79,44.25 L648.59,44.25 L649.38,44.25 L650.18,44.24 L650.98,44.24 L651.77,44.24 L652.57,44.24 L653.37,44.24 L654.16,44.24 L654.96,44.24 L655.75,44.23 L656.55,44.23 L657.35,44.23 L658.14,44.23 L658.94,44.23 L659.74,44.23 L660.53,44.23 L661.33,44.22 L662.12,44.22 L662.92,44.22 L663.72,44.22 L664.51,44.22 L665.31,44.22 L666.11,44.22 L666.90,44.22 L667.70,44.22 L668.50,44.21 L669.29,44.21 L670.09,44.21 L670.88,44.21 L671.68,44.21 L672.48,44.21 L673.27,44.21 L674.07,44.21 L674.87,44.21 L675.66,44.20 L676.46,44.20 L677.26,44.20 L678.05,44.20 L678.85,44.20 L679.64,44.20 L680.44,44.20 L681.24,44.20 L682.03,44.20 L682.83,44.20 L683.63,44.19 L684.42,44.19 L685.22,44.19 L686.01,44.19 L686.81,44.19 L687.61,44.19 L688.40,44.19 L689.20,44.19 L690.00,44.19 L690.79,44.19 L691.59,44.19 L692.39,44.18 L693.18,44.18 L693.98,44.18 L694.77,44.18 L695.57,44.18 L696.37,44.18 L697.16,44.18 L697.96,44.18 L698.76,44.18 L699.55,44.18 L700.35,44.18 L701.15,44.18 L701.94,44.18 L702.74,44.17 L703.53,44.17 L704.33,44.17 L705.13,44.17 L705.92,44.17 L706.72,44.17 L707.52,44.17 L708.31,44.17 L709.11,44.17 L709.90,44.17 L710.70,44.17 L711.50,44.17 L712.29,44.17 L713.09,44.17 L713.89,44.17 L714.68,44.17 L715.48,44.17 L716.28,44.16 L717.07,44.16 L717.87,44.16 L718.66,44.16 L719.46,44.16 L720.26,44.16 L721.05,44.16 L721.85,44.16 L722.65,44.16 L723.44,44.16 L724.24,44.16 L725.04,44.16 L725.83,44.16 L726.63,44.16 L727.42,44.16 L728.22,44.16 L729.02,44.16 L729.81,44.16 L730.61,44.16 L731.41,44.16 L732.20,44.16 L733.00,44.16 L733.79,44.16 L734.59,44.16 L735.39,44.16 L736.18,44.16 L736.98,44.15 L737.78,44.15 L738.57,44.15 L739.37,44.15 L740.17,44.15 L740.96,44.15 L741.76,44.15 L742.55,44.15 L743.35,44.15 L744.15,44.15 L744.94,44.15 L745.74,44.15 L746.54,44.15 L747.33,44.15 L748.13,44.15 L748.93,44.15 L749.72,44.15 L750.52,44.15 L751.31,44.15 L752.11,44.15 L752.91,44.15 L753.70,44.15 L754.50,44.15 L755.30,44.15 L756.09,44.15 L756.89,44.15 L757.68,44.15 L758.48,44.15 L759.28,44.15 L760.07,44.15 L760.87,44.15 L761.67,44.15 L762.46,44.15 L763.26,44.15 L764.06,44.15 L764.85,44.15 L765.65,44.15 L766.44,44.15 L767.24,44.15 L768.04,44.15" fill="none" stroke="#000" stroke-width="3.75" stroke-linejoin="round"/>
<path d="M450.30,120.06 L450.63,118.29 L450.97,116.52 L451.10,115.84 L451.30,114.76 L451.63,113.01 L451.89,111.67 L451.97,111.27 L452.30,109.55 L452.64,107.83 L452.69,107.55 L452.97,106.09 L453.30,104.33 L453.49,103.36 L453.64,102.56 L453.97,100.80 L454.28,99.17 L454.30,99.05 L454.64,97.34 L454.97,95.67 L455.08,95.14 L455.30,94.05 L455.64,92.50 L455.87,91.45 L455.97,91.03 L456.31,89.65 L456.64,88.30 L456.67,88.17 L456.97,86.97 L457.31,85.67 L457.47,85.05 L457.64,84.39 L457.97,83.13 L458.26,82.06 L458.31,81.90 L458.64,80.70 L458.97,79.52 L459.06,79.22 L459.31,78.37 L459.64,77.25 L459.86,76.54 L459.97,76.16 L460.31,75.09 L460.64,74.05 L460.65,74.02 L460.98,73.05 L461.31,72.07 L461.45,71.67 L461.64,71.13 L461.98,70.21 L462.25,69.50 L462.31,69.33 L462.64,68.48 L462.98,67.64 L463.04,67.48 L463.31,66.82 L463.64,66.01 L463.84,65.56 L463.98,65.23 L464.31,64.46 L464.63,63.74 L464.65,63.72 L464.98,62.98 L465.31,62.27 L465.43,62.03 L465.65,61.58 L465.98,60.90 L466.23,60.41 L466.31,60.24 L466.65,59.60 L466.98,58.98 L467.02,58.90 L467.31,58.38 L467.65,57.79 L467.82,57.50 L467.98,57.22 L468.32,56.67 L468.62,56.19 L468.65,56.14 L468.98,55.61 L469.32,55.10 L469.41,54.95 L469.65,54.59 L469.98,54.10 L470.21,53.77 L470.32,53.61 L470.65,53.14 L470.98,52.67 L471.00,52.65 L471.32,52.22 L471.65,51.78 L471.80,51.59 L471.98,51.36 L472.32,50.94 L472.60,50.61 L472.65,50.54 L472.99,50.15 L473.32,49.78 L473.39,49.70 L473.65,49.42 L473.99,49.08 L474.19,48.88 L474.32,48.76 L474.65,48.44 L474.99,48.15 L474.99,48.15 L475.32,47.86 L475.65,47.57 L475.78,47.47 L475.99,47.30 L476.32,47.04 L476.58,46.84 L476.66,46.78 L476.99,46.53 L477.32,46.29 L477.38,46.25 L477.66,46.05 L477.99,45.83 L478.17,45.70 L478.32,45.60 L478.66,45.39 L478.97,45.19 L478.99,45.18 L479.32,44.97 L479.66,44.77 L479.76,44.71 L479.99,44.58 L480.33,44.39 L480.56,44.26 L480.66,44.20 L480.99,44.02 L481.33,43.84 L481.36,43.83 L481.66,43.67 L481.99,43.50 L482.15,43.42 L482.33,43.33 L482.66,43.17 L482.95,43.03 L482.99,43.01 L483.33,42.85 L483.66,42.69 L483.75,42.66 L483.99,42.54 L484.33,42.40 L484.54,42.31 L484.66,42.26 L485.00,42.12 L485.33,41.99 L485.34,41.98 L485.66,41.86 L486.00,41.73 L486.14,41.68 L486.33,41.61 L486.66,41.50 L486.93,41.41 L487.00,41.39 L487.33,41.28 L487.66,41.18 L487.73,41.16 L488.00,41.07 L488.33,40.97 L488.52,40.92 L488.67,40.88 L489.00,40.78 L489.32,40.69 L489.33,40.69 L489.67,40.60 L490.00,40.51 L490.12,40.48 L490.33,40.42 L490.67,40.34 L490.91,40.28 L491.00,40.26 L491.33,40.18 L491.67,40.11 L491.71,40.10 L492.00,40.03 L492.34,39.96 L492.51,39.93 L492.67,39.89 L493.00,39.83 L493.30,39.77 L493.34,39.77 L493.67,39.70 L494.00,39.64 L494.10,39.62 L494.34,39.58 L494.67,39.52 L494.89,39.48 L495.00,39.46 L495.34,39.41 L495.67,39.35 L495.69,39.35 L496.00,39.30 L496.34,39.24 L496.49,39.22 L496.67,39.19 L497.01,39.15 L497.28,39.11 L497.34,39.10 L497.67,39.06 L498.01,39.01 L498.08,39.00 L498.34,38.97 L498.67,38.94 L498.88,38.92 L499.01,38.90 L499.34,38.87 L499.67,38.84 L499.67,38.84 L500.01,38.81 L500.34,38.78 L500.47,38.77 L500.68,38.75 L501.01,38.72 L501.27,38.70 L501.34,38.69 L501.68,38.67 L502.01,38.64 L502.06,38.64 L502.34,38.62 L502.68,38.59 L502.86,38.58 L503.01,38.57 L503.34,38.55 L503.65,38.53 L503.68,38.53 L504.01,38.51 L504.35,38.49 L504.45,38.48 L504.68,38.47 L505.01,38.46 L505.25,38.45 L505.35,38.44 L505.68,38.43 L506.01,38.42 L506.04,38.41 L506.35,38.40 L506.68,38.39 L506.84,38.39 L507.01,38.38 L507.35,38.37 L507.64,38.36 L507.68,38.36 L508.01,38.35 L508.35,38.34 L508.43,38.33 L508.68,38.32 L509.02,38.31 L509.23,38.31 L509.35,38.30 L509.68,38.29 L510.02,38.28 L510.03,38.28 L510.35,38.27 L510.68,38.26 L510.82,38.26 L511.02,38.25 L511.35,38.24 L511.62,38.23 L511.68,38.23 L512.02,38.22 L512.35,38.21 L512.41,38.21 L512.69,38.21 L513.02,38.20 L513.21,38.19 L513.35,38.19 L513.69,38.18 L514.01,38.17 L514.02,38.17 L514.35,38.16 L514.69,38.15 L514.80,38.15 L515.02,38.15 L515.35,38.14 L515.60,38.13 L515.69,38.13 L516.02,38.12 L516.36,38.12 L516.40,38.12 L516.69,38.11 L517.02,38.10 L517.19,38.10 L517.36,38.10 L517.69,38.09 L517.99,38.09 L518.02,38.09 L518.36,38.08 L518.69,38.08 L518.78,38.08 L519.02,38.07 L519.36,38.07 L519.58,38.06 L519.69,38.06 L520.02,38.06 L520.36,38.06 L520.38,38.06 L520.69,38.05 L521.03,38.05 L521.17,38.05 L521.36,38.05 L521.69,38.04 L521.97,38.04 L522.03,38.04 L522.36,38.04 L522.69,38.04 L522.77,38.04 L523.03,38.04 L523.36,38.04 L523.56,38.04 L523.69,38.04 L524.03,38.04 L524.36,38.04 L524.36,38.04 L524.70,38.04 L525.03,38.04 L525.16,38.04 L525.36,38.04 L525.70,38.04 L525.95,38.04 L526.03,38.04 L526.36,38.04 L526.70,38.04 L526.75,38.04 L527.03,38.04 L527.36,38.04 L527.54,38.04 L527.70,38.04 L528.03,38.04 L528.34,38.04 L528.37,38.04 L528.70,38.04 L529.03,38.04 L529.14,38.04 L529.37,38.04 L529.70,38.04 L529.93,38.04 L530.03,38.04 L530.73,38.04 L531.53,38.04 L532.32,38.04 L533.12,38.04 L533.92,38.04 L534.71,38.04 L535.51,38.04 L536.30,38.04 L537.10,38.04 L537.90,38.04 L538.69,38.04 L539.49,38.04 L540.29,38.04 L541.08,38.04 L541.88,38.04 L542.67,38.04 L543.47,38.04 L544.27,38.04 L545.06,38.04 L545.86,38.04 L546.66,38.04 L547.45,38.04 L548.25,38.04 L549.05,38.04 L549.84,38.04 L550.64,38.04 L551.43,38.04 L552.23,38.04 L553.03,38.04 L553.82,38.04 L554.62,38.04 L555.42,38.04 L556.21,38.04 L557.01,38.04 L557.81,38.04 L558.60,38.04 L559.40,38.04 L560.19,38.04 L560.99,38.04 L561.79,38.04 L562.58,38.04 L563.38,38.04 L564.18,38.04 L564.97,38.04 L565.77,38.04 L566.56,38.04 L567.36,38.04 L568.16,38.04 L568.95,38.04 L569.75,38.04 L570.55,38.04 L571.34,38.04 L572.14,38.04 L572.94,38.04 L573.73,38.04 L574.53,38.04 L575.32,38.04 L576.12,38.04 L576.92,38.04 L577.71,38.04 L578.51,38.04 L579.31,38.04 L580.10,38.04 L580.90,38.04 L581.70,38.04 L582.49,38.04 L583.29,38.04 L584.08,38.04 L584.88,38.04 L585.68,38.04 L586.47,38.04 L587.27,38.04 L588.07,38.04 L588.86,38.04 L589.66,38.04 L590.45,38.04 L591.25,38.04 L592.05,38.04 L592.84,38.04 L593.64,38.04 L594.44,38.04 L595.23,38.04 L596.03,38.04 L596.83,38.04 L597.62,38.04 L598.42,38.04 L599.21,38.04 L600.01,38.04 L600.81,38.04 L601.60,38.04 L602.40,38.04 L603.20,38.04 L603.99,38.04 L604.79,38.04 L605.59,38.04 L606.38,38.04 L607.18,38.04 L607.97,38.04 L608.77,38.04 L609.57,38.04 L610.36,38.04 L611.16,38.04 L611.96,38.04 L612.75,38.04 L613.55,38.04 L614.34,38.04 L615.14,38.04 L615.94,38.04 L616.73,38.04 L617.53,38.04 L618.33,38.04 L619.12,38.04 L619.92,38.04 L620.72,38.04 L621.51,38.04 L622.31,38.04 L623.10,38.04 L623.90,38.04 L624.70,38.04 L625.49,38.04 L626.29,38.04 L627.09,38.04 L627.88,38.04 L628.68,38.04 L629.48,38.04 L630.27,38.04 L631.07,38.04 L631.86,38.04 L632.66,38.04 L633.46,38.04 L634.25,38.04 L635.05,38.04 L635.85,38.04 L636.64,38.04 L637.44,38.04 L638.23,38.04 L639.03,38.04 L639.83,38.04 L640.62,38.04 L641.42,38.04 L642.22,38.04 L643.01,38.04 L643.81,38.04 L644.61,38.04 L645.40,38.04 L646.20,38.04 L646.99,38.04 L647.79,38.04 L648.59,38.04 L649.38,38.04 L650.18,38.04 L650.98,38.04 L651.77,38.04 L652.57,38.04 L653.37,38.04 L654.16,38.04 L654.96,38.04 L655.75,38.04 L656.55,38.04 L657.35,38.04 L658.14,38.04 L658.94,38.04 L659.74,38.04 L660.53,38.04 L661.33,38.04 L662.12,38.04 L662.92,38.04 L663.72,38.04 L664.51,38.04 L665.31,38.04 L666.11,38.04 L666.90,38.04 L667.70,38.04 L668.50,38.04 L669.29,38.04 L670.09,38.04 L670.88,38.04 L671.68,38.04 L672.48,38.04 L673.27,38.04 L674.07,38.04 L674.87,38.04 L675.66,38.04 L676.46,38.04 L677.26,38.04 L678.05,38.04 L678.85,38.04 L679.64,38.04 L680.44,38.04 L681.24,38.04 L682.03,38.04 L682.83,38.04 L683.63,38.04 L684.42,38.04 L685.22,38.04 L686.01,38.04 L686.81,38.04 L687.61,38.04 L688.40,38.04 L689.20,38.04 L690.00,38.04 L690.79,38.04 L691.59,38.04 L692.39,38.04 L693.18,38.04 L693.98,38.04 L694.77,38.04 L695.57,38.04 L696.37,38.04 L697.16,38.04 L697.96,38.04 L698.76,38.04 L699.55,38.04 L700.35,38.04 L701.15,38.04 L701.94,38.04 L702.74,38.04 L703.53,38.04 L704.33,38.04 L705.13,38.04 L705.92,38.04 L706.72,38.04 L707.52,38.04 L708.31,38.04 L709.11,38.04 L709.90,38.04 L710.70,38.04 L711.50,38.04 L712.29,38.04 L713.09,38.04 L713.89,38.04 L714.68,38.04 L715.48,38.04 L716.28,38.04 L717.07,38.04 L717.87,38.04 L718.66,38.04 L719.46,38.04 L720.26,38.04 L721.05,38.04 L721.85,38.04 L722.65,38.04 L723.44,38.04 L724.24,38.04 L725.04,38.04 L725.83,38.04 L726.63,38.04 L727.42,38.04 L728.22,38.04 L729.02,38.04 L729.81,38.04 L730.61,38.04 L731.41,38.04 L732.20,38.04 L733.00,38.04 L733.79,38.04 L734.59,38.04 L735.39,38.04 L736.18,38.04 L736.98,38.04 L737.78,38.04 L738.57,38.04 L739.37,38.04 L740.17,38.04 L740.96,38.04 L741.76,38.04 L742.55,38.04 L743.35,38.04 L744.15,38.04 L744.94,38.04 L745.74,38.04 L746.54,38.04 L747.33,38.04 L748.13,38.04 L748.93,38.04 L749.72,38.04 L750.52,38.04 L751.31,38.04 L752.11,38.04 L752.91,38.04 L753.70,38.04 L754.50,38.04 L755.30,38.04 L756.09,38.04 L756.89,38.04 L757.68,38.04 L758.48,38.04 L759.28,38.04 L760.07,38.04 L760.87,38.04 L761.67,38.04 L762.46,38.04 L763.26,38.04 L764.06,38.04 L764.85,38.04 L765.65,38.04 L766.44,38.04 L767.24,38.04 L768.04,38.04" fill="none" stroke="#000" stroke-width="3.75" stroke-dasharray="10.43 2.84 3.44 2.84" stroke-dashoffset="13.27" stroke-linejoin="round"/>
</g>
<rect x="450.30" y="5.30" width="358.80" height="282.20" fill="none" stroke="#6a6a6a" stroke-width="0.9"/>
<path d="M490.08 287.50v-3.75M490.08 5.30v3.75M529.86 287.50v-3.75M529.86 5.30v3.75M569.63 287.50v-3.75M569.63 5.30v3.75M609.41 287.50v-3.75M609.41 5.30v3.75M649.19 287.50v-3.75M649.19 5.30v3.75M688.97 287.50v-3.75M688.97 5.30v3.75M728.74 287.50v-3.75M728.74 5.30v3.75M768.52 287.50v-3.75M768.52 5.30v3.75M450.30 52.33h3.75M809.10 52.33h-3.75M450.30 99.37h3.75M809.10 99.37h-3.75M450.30 146.40h3.75M809.10 146.40h-3.75M450.30 193.43h3.75M809.10 193.43h-3.75M450.30 240.47h3.75M809.10 240.47h-3.75" fill="none" stroke="#6a6a6a" stroke-width="0.9"/>
<rect x="647.53" y="233.41" width="156.51" height="49.13" fill="#fff" stroke="#6a6a6a" stroke-width="0.9"/>
<path d="M654.21 242.73H686.33" stroke="#000" stroke-width="3.75" stroke-dasharray="10.43 2.84 3.44 2.84"/>
<path d="M654.21 258.22H686.33" stroke="#000" stroke-width="3.75"/>
<path d="M654.21 273.01H686.33" stroke="#b4b4b4" stroke-width="0.81"/>
<g fill="#111" stroke="#111" stroke-width="0.15">
<text transform="translate(450.60 299.70) scale(1.130 1)" font-size="9.80" text-anchor="middle">0</text>
<text transform="translate(490.38 299.70) scale(1.130 1)" font-size="9.80" text-anchor="middle">1</text>
<text transform="translate(530.16 299.70) scale(1.130 1)" font-size="9.80" text-anchor="middle">2</text>
<text transform="translate(569.93 299.70) scale(1.130 1)" font-size="9.80" text-anchor="middle">3</text>
<text transform="translate(609.71 299.70) scale(1.130 1)" font-size="9.80" text-anchor="middle">4</text>
<text transform="translate(649.49 299.70) scale(1.130 1)" font-size="9.80" text-anchor="middle">5</text>
<text transform="translate(689.27 299.70) scale(1.130 1)" font-size="9.80" text-anchor="middle">6</text>
<text transform="translate(729.04 299.70) scale(1.130 1)" font-size="9.80" text-anchor="middle">7</text>
<text transform="translate(768.82 299.70) scale(1.130 1)" font-size="9.80" text-anchor="middle">8</text>
<text transform="translate(808.60 299.70) scale(1.130 1)" font-size="9.80" text-anchor="middle">9</text>
<text transform="translate(447.15 8.30) scale(1.120 1)" font-size="9.80" text-anchor="end">1.5</text>
<text transform="translate(447.15 55.33) scale(1.120 1)" font-size="9.80" text-anchor="end">1</text>
<text transform="translate(447.15 102.37) scale(1.120 1)" font-size="9.80" text-anchor="end">0.5</text>
<text transform="translate(447.15 149.40) scale(1.120 1)" font-size="9.80" text-anchor="end">0</text>
<text transform="translate(447.15 196.43) scale(1.120 1)" font-size="9.80" text-anchor="end">-0.5</text>
<text transform="translate(447.15 243.47) scale(1.120 1)" font-size="9.80" text-anchor="end">-1</text>
<text transform="translate(447.15 290.50) scale(1.120 1)" font-size="9.80" text-anchor="end">-1.5</text>
<text transform="translate(781.65 319.42) scale(1.100 1)" font-size="9.80" text-anchor="start">x 10</text>
<text transform="translate(803.12 312.53) scale(1.100 1)" font-size="6.37" text-anchor="start">-9</text>
<text transform="translate(633.60 322.10) scale(1.040 1)" font-size="12.70" text-anchor="middle">time(Second)</text>
<text transform="translate(421.20 146.30) rotate(-90) scale(1.090 1)" font-size="12.70" text-anchor="middle">Vod(V)</text>
</g>
<g fill="#111" stroke="#111" stroke-width="0.2">
<text transform="translate(690.78 246.88) scale(1.100 1)" font-size="10.74" text-anchor="start">Equation (32)</text>
<text transform="translate(690.78 262.58) scale(1.100 1)" font-size="10.74" text-anchor="start">Our analytic Eq. (31)</text>
<text transform="translate(690.78 277.17) scale(1.050 1)" font-size="10.74" text-anchor="start">Simulation</text>
</g>
</g>
<g>
<clipPath id="clip788"><rect x="40.30" y="385.70" width="339.10" height="267.40"/></clipPath>
<g clip-path="url(#clip788)">
<path d="M40.30,514.60 L40.56,515.43 L40.81,516.74 L41.07,518.51 L41.32,520.66 L41.58,523.12 L41.83,525.78 L42.09,528.52 L42.34,531.23 L42.60,533.76 L42.85,535.99 L43.11,537.82 L43.36,539.13 L43.62,539.87 L43.87,540.01 L44.13,539.58 L44.38,538.57 L44.64,536.99 L44.89,534.87 L45.15,532.25 L45.40,529.20 L45.66,525.79 L45.91,522.13 L46.17,518.30 L46.42,514.42 L46.68,510.61 L46.93,506.98 L47.19,503.64 L47.44,500.69 L47.70,498.23 L47.95,496.34 L48.21,495.08 L48.46,494.49 L48.72,494.59 L48.97,495.38 L49.23,496.83 L49.48,498.89 L49.74,501.49 L49.99,504.55 L50.25,507.98 L50.50,511.67 L50.76,515.52 L51.01,519.42 L51.27,523.26 L51.52,526.94 L51.78,530.37 L52.03,533.48 L52.29,536.18 L52.54,538.43 L52.80,540.17 L53.05,541.37 L53.31,542.01 L53.56,542.09 L53.82,541.64 L54.07,540.66 L54.33,539.15 L54.58,537.13 L54.84,534.61 L55.09,531.64 L55.35,528.26 L55.60,524.54 L55.86,520.54 L56.11,516.36 L56.37,512.11 L56.62,507.90 L56.88,503.85 L57.13,500.08 L57.39,496.72 L57.64,493.88 L57.90,491.68 L58.15,490.20 L58.41,489.52 L58.66,489.59 L58.92,490.35 L59.17,491.80 L59.43,493.93 L59.68,496.72 L59.94,500.11 L60.19,504.05 L60.45,508.45 L60.70,513.23 L60.96,518.26 L61.21,523.44 L61.47,528.62 L61.72,533.69 L61.98,538.50 L62.23,542.93 L62.49,546.84 L62.74,550.13 L63.00,552.70 L63.25,554.46 L63.51,555.38 L63.76,555.40 L64.02,554.59 L64.27,552.95 L64.53,550.53 L64.78,547.38 L65.04,543.59 L65.29,539.25 L65.55,534.45 L65.80,529.30 L66.06,523.94 L66.31,518.48 L66.57,513.05 L66.82,507.78 L67.08,502.78 L67.33,498.18 L67.59,494.08 L67.84,490.56 L68.10,487.72 L68.35,485.61 L68.61,484.28 L68.86,483.75 L69.12,484.08 L69.37,485.30 L69.63,487.39 L69.88,490.31 L70.14,494.01 L70.39,498.42 L70.65,503.44 L70.90,508.97 L71.16,514.87 L71.41,521.01 L71.67,527.24 L71.92,533.39 L72.18,539.29 L72.43,544.80 L72.69,549.73 L72.94,553.96 L73.20,557.33 L73.45,559.74 L73.71,561.09 L73.96,561.34 L74.22,560.53 L74.47,558.64 L74.73,555.67 L74.98,551.65 L75.24,546.64 L75.49,540.73 L75.75,534.04 L76.00,526.73 L76.26,518.98 L76.51,511.00 L76.77,503.03 L77.02,495.30 L77.28,488.07 L77.53,481.58 L77.79,476.05 L78.04,471.68 L78.30,468.64 L78.55,467.04 L78.81,466.95 L79.06,468.24 L79.32,470.84 L79.57,474.68 L79.83,479.66 L80.08,485.63 L80.34,492.44 L80.59,499.91 L80.85,507.83 L81.10,516.01 L81.36,524.23 L81.61,532.29 L81.87,539.98 L82.12,547.12 L82.38,553.52 L82.63,559.05 L82.89,563.57 L83.14,566.97 L83.40,569.19 L83.65,570.16 L83.91,569.88 L84.16,568.36 L84.42,565.63 L84.67,561.75 L84.93,556.80 L85.18,550.88 L85.44,544.14 L85.69,536.72 L85.95,528.78 L86.20,520.53 L86.46,512.15 L86.71,503.84 L86.97,495.83 L87.22,488.30 L87.48,481.46 L87.73,475.49 L87.99,470.55 L88.24,466.80 L88.50,464.33 L88.75,463.24 L89.01,463.52 L89.26,465.13 L89.52,468.09 L89.77,472.38 L90.03,477.95 L90.28,484.71 L90.54,492.56 L90.79,501.33 L91.05,510.83 L91.30,520.83 L91.56,531.08 L91.81,541.29 L92.07,551.18 L92.32,560.44 L92.58,568.79 L92.83,575.95 L93.09,581.68 L93.34,585.77 L93.60,588.07 L93.85,588.50 L94.11,587.12 L94.36,584.01 L94.62,579.25 L94.87,572.98 L95.13,565.35 L95.39,556.57 L95.64,546.88 L95.90,536.51 L96.15,525.75 L96.41,514.85 L96.66,504.11 L96.92,493.78 L97.17,484.13 L97.43,475.40 L97.68,467.79 L97.94,461.50 L98.19,456.67 L98.45,453.42 L98.70,451.83 L98.96,451.92 L99.21,453.68 L99.47,457.07 L99.72,462.01 L99.98,468.36 L100.23,475.99 L100.49,484.69 L100.74,494.25 L101.00,504.45 L101.25,515.02 L101.51,525.72 L101.76,536.26 L102.02,546.40 L102.27,555.89 L102.53,564.48 L102.78,571.96 L103.04,578.16 L103.29,582.91 L103.55,586.09 L103.80,587.62 L104.06,587.51 L104.31,585.88 L104.57,582.73 L104.82,578.09 L105.08,571.99 L105.33,564.49 L105.59,555.72 L105.84,545.82 L106.10,534.98 L106.35,523.44 L106.61,511.45 L106.86,499.34 L107.12,487.41 L107.37,476.02 L107.63,465.50 L107.88,456.19 L108.14,448.40 L108.39,442.41 L108.65,438.42 L108.90,436.61 L109.16,437.01 L109.41,439.50 L109.67,444.00 L109.92,450.37 L110.18,458.47 L110.43,468.05 L110.69,478.88 L110.94,490.68 L111.20,503.13 L111.45,515.92 L111.71,528.74 L111.96,541.27 L112.22,553.20 L112.47,564.24 L112.73,574.13 L112.98,582.64 L113.24,589.58 L113.49,594.78 L113.75,598.13 L114.00,599.57 L114.26,599.04 L114.51,596.54 L114.77,592.12 L115.02,585.91 L115.28,578.04 L115.53,568.72 L115.79,558.18 L116.04,546.67 L116.30,534.49 L116.55,521.94 L116.81,509.32 L117.06,496.95 L117.32,485.14 L117.57,474.18 L117.83,464.34 L118.08,455.86 L118.34,448.96 L118.59,443.81 L118.85,440.53 L119.10,439.21 L119.36,439.82 L119.61,442.28 L119.87,446.57 L120.12,452.61 L120.38,460.31 L120.63,469.55 L120.89,480.13 L121.14,491.85 L121.40,504.45 L121.65,517.64 L121.91,531.11 L122.16,544.51 L122.42,557.49 L122.67,569.71 L122.93,580.80 L123.18,590.44 L123.44,598.35 L123.69,604.27 L123.95,608.00 L124.20,609.41 L124.46,608.51 L124.71,605.39 L124.97,600.14 L125.22,592.88 L125.48,583.80 L125.73,573.12 L125.99,561.12 L126.24,548.09 L126.50,534.36 L126.75,520.27 L127.01,506.18 L127.26,492.43 L127.52,479.37 L127.77,467.31 L128.03,456.57 L128.28,447.40 L128.54,440.03 L128.79,434.64 L129.05,431.36 L129.30,430.27 L129.56,431.40 L129.81,434.76 L130.07,440.23 L130.32,447.66 L130.58,456.86 L130.83,467.56 L131.09,479.50 L131.34,492.36 L131.60,505.81 L131.85,519.51 L132.11,533.12 L132.36,546.31 L132.62,558.75 L132.87,570.17 L133.13,580.28 L133.38,588.85 L133.64,595.70 L133.89,600.68 L134.15,603.67 L134.40,604.61 L134.66,603.52 L134.91,600.43 L135.17,595.39 L135.42,588.49 L135.68,579.86 L135.93,569.69 L136.19,558.18 L136.44,545.58 L136.70,532.19 L136.95,518.32 L137.21,504.30 L137.46,490.49 L137.72,477.25 L137.97,464.92 L138.23,453.85 L138.48,444.34 L138.74,436.67 L138.99,431.07 L139.25,427.71 L139.50,426.71 L139.76,428.04 L140.01,431.64 L140.27,437.43 L140.52,445.26 L140.78,454.95 L141.03,466.25 L141.29,478.89 L141.54,492.55 L141.80,506.89 L142.05,521.56 L142.31,536.19 L142.56,550.42 L142.82,563.89 L143.07,576.26 L143.33,587.23 L143.58,596.51 L143.84,603.89 L144.09,609.16 L144.35,612.21 L144.60,612.95 L144.86,611.33 L145.11,607.37 L145.37,601.20 L145.62,592.98 L145.88,582.96 L146.13,571.39 L146.39,558.60 L146.64,544.91 L146.90,530.69 L147.15,516.28 L147.41,502.07 L147.66,488.38 L147.92,475.54 L148.17,463.87 L148.43,453.62 L148.68,445.04 L148.94,438.29 L149.19,433.54 L149.45,430.87 L149.71,430.33 L149.96,431.91 L150.22,435.57 L150.47,441.24 L150.73,448.84 L150.98,458.21 L151.24,469.16 L151.49,481.47 L151.75,494.85 L152.00,509.01 L152.26,523.60 L152.51,538.27 L152.77,552.64 L153.02,566.33 L153.28,578.99 L153.53,590.25 L153.79,599.80 L154.04,607.35 L154.30,612.68 L154.55,615.62 L154.81,616.07 L155.06,614.06 L155.32,609.65 L155.57,602.97 L155.83,594.22 L156.08,583.62 L156.34,571.47 L156.59,558.08 L156.85,543.81 L157.10,529.03 L157.36,514.10 L157.61,499.40 L157.87,485.28 L158.12,472.09 L158.38,460.14 L158.63,449.70 L158.89,441.01 L159.14,434.26 L159.40,429.60 L159.65,427.12 L159.91,426.88 L160.16,428.92 L160.42,433.20 L160.67,439.63 L160.93,448.03 L161.18,458.20 L161.44,469.89 L161.69,482.80 L161.95,496.62 L162.20,511.01 L162.46,525.61 L162.71,540.05 L162.97,553.98 L163.22,567.05 L163.48,578.94 L163.73,589.36 L163.99,598.04 L164.24,604.77 L164.50,609.38 L164.75,611.76 L165.01,611.86 L165.26,609.66 L165.52,605.23 L165.77,598.68 L166.03,590.16 L166.28,579.89 L166.54,568.11 L166.79,555.12 L167.05,541.24 L167.30,526.80 L167.56,512.16 L167.81,497.68 L168.07,483.73 L168.32,470.64 L168.58,458.74 L168.83,448.34 L169.09,439.67 L169.34,432.98 L169.60,428.41 L169.85,426.10 L170.11,426.09 L170.36,428.37 L170.62,432.88 L170.87,439.53 L171.13,448.17 L171.38,458.60 L171.64,470.58 L171.89,483.84 L172.15,498.04 L172.40,512.85 L172.66,527.90 L172.91,542.82 L173.17,557.22 L173.42,570.75 L173.68,583.05 L173.93,593.80 L174.19,602.72 L174.44,609.56 L174.70,614.15 L174.95,616.36 L175.21,616.11 L175.46,613.43 L175.72,608.38 L175.97,601.11 L176.23,591.81 L176.48,580.73 L176.74,568.16 L176.99,554.43 L177.25,539.90 L177.50,524.92 L177.76,509.88 L178.01,495.15 L178.27,481.09 L178.52,468.03 L178.78,456.29 L179.03,446.15 L179.29,437.83 L179.54,431.53 L179.80,427.39 L180.05,425.49 L180.31,425.88 L180.56,428.54 L180.82,433.42 L181.07,440.42 L181.33,449.38 L181.58,460.09 L181.84,472.30 L182.09,485.73 L182.35,500.06 L182.60,514.93 L182.86,529.99 L183.11,544.86 L183.37,559.17 L183.62,572.54 L183.88,584.65 L184.13,595.16 L184.39,603.80 L184.64,610.34 L184.90,614.60 L185.15,616.47 L185.41,615.89 L185.66,612.89 L185.92,607.56 L186.17,600.04 L186.43,590.51 L186.68,579.23 L186.94,566.49 L187.19,552.61 L187.45,537.94 L187.70,522.85 L187.96,507.71 L188.21,492.91 L188.47,478.81 L188.72,465.74 L188.98,454.02 L189.23,443.94 L189.49,435.74 L189.74,429.61 L190.00,425.69 L190.25,424.07 L190.51,424.80 L190.76,427.86 L191.02,433.19 L191.27,440.65 L191.53,450.06 L191.78,461.20 L192.04,473.79 L192.29,487.51 L192.55,502.05 L192.80,517.02 L193.06,532.07 L193.31,546.82 L193.57,560.91 L193.82,573.97 L194.08,585.69 L194.33,595.77 L194.59,603.96 L194.84,610.05 L195.10,613.89 L195.35,615.38 L195.61,614.47 L195.86,611.20 L196.12,605.64 L196.37,597.93 L196.63,588.28 L196.88,576.93 L197.14,564.17 L197.39,550.31 L197.65,535.71 L197.90,520.73 L198.16,505.74 L198.41,491.11 L198.67,477.21 L198.92,464.37 L199.18,452.91 L199.43,443.11 L199.69,435.20 L199.94,429.37 L200.20,425.77 L200.45,424.48 L200.71,425.50 L200.96,428.80 L201.22,434.31 L201.47,441.90 L201.73,451.41 L201.98,462.61 L202.24,475.25 L202.49,489.04 L202.75,503.63 L203.00,518.69 L203.26,533.83 L203.51,548.69 L203.77,562.89 L204.02,576.08 L204.28,587.90 L204.54,598.06 L204.79,606.29 L205.05,612.36 L205.30,616.11 L205.56,617.44 L205.81,616.31 L206.07,612.75 L206.32,606.87 L206.58,598.81 L206.83,588.80 L207.09,577.10 L207.34,564.01 L207.60,549.88 L207.85,535.06 L208.11,519.92 L208.36,504.85 L208.62,490.20 L208.87,476.34 L209.13,463.59 L209.38,452.26 L209.64,442.61 L209.89,434.85 L210.15,429.17 L210.40,425.69 L210.66,424.47 L210.91,425.56 L211.17,428.94 L211.42,434.52 L211.68,442.19 L211.93,451.77 L212.19,463.03 L212.44,475.70 L212.70,489.49 L212.95,504.07 L213.21,519.07 L213.46,534.13 L213.72,548.88 L213.97,562.95 L214.23,575.98 L214.48,587.65 L214.74,597.65 L214.99,605.72 L215.25,611.66 L215.50,615.30 L215.76,616.56 L216.01,615.38 L216.27,611.81 L216.52,605.94 L216.78,597.93 L217.03,587.99 L217.29,576.37 L217.54,563.38 L217.80,549.33 L218.05,534.60 L218.31,519.54 L218.56,504.53 L218.82,489.94 L219.07,476.12 L219.33,463.40 L219.58,452.10 L219.84,442.46 L220.09,434.73 L220.35,429.08 L220.60,425.63 L220.86,424.47 L221.11,425.61 L221.37,429.03 L221.62,434.65 L221.88,442.35 L222.13,451.95 L222.39,463.23 L222.64,475.94 L222.90,489.77 L223.15,504.39 L223.41,519.45 L223.66,534.58 L223.92,549.40 L224.17,563.54 L224.43,576.64 L224.68,588.37 L224.94,598.43 L225.19,606.53 L225.45,612.48 L225.70,616.11 L225.96,617.31 L226.21,616.06 L226.47,612.39 L226.72,606.39 L226.98,598.24 L227.23,588.15 L227.49,576.39 L227.74,563.26 L228.00,549.11 L228.25,534.28 L228.51,519.16 L228.76,504.12 L229.02,489.53 L229.27,475.73 L229.53,463.07 L229.78,451.83 L230.04,442.28 L230.29,434.64 L230.55,429.07 L230.80,425.71 L231.06,424.61 L231.31,425.81 L231.57,429.29 L231.82,434.97 L232.08,442.73 L232.33,452.38 L232.59,463.70 L232.84,476.42 L233.10,490.24 L233.35,504.83 L233.61,519.83 L233.86,534.87 L234.12,549.59 L234.37,563.61 L234.63,576.58 L234.88,588.17 L235.14,598.08 L235.39,606.06 L235.65,611.88 L235.90,615.41 L236.16,616.54 L236.41,615.24 L236.67,611.53 L236.92,605.52 L237.18,597.38 L237.43,587.32 L237.69,575.61 L237.94,562.56 L238.20,548.50 L238.45,533.78 L238.71,518.79 L238.96,503.88 L239.22,489.43 L239.47,475.79 L239.73,463.27 L239.98,452.18 L240.24,442.77 L240.49,435.25 L240.75,429.79 L241.00,426.52 L241.26,425.49 L241.51,426.72 L241.77,430.20 L242.02,435.83 L242.28,443.51 L242.53,453.08 L242.79,464.30 L243.04,476.94 L243.30,490.69 L243.55,505.23 L243.81,520.20 L244.06,535.26 L244.32,550.01 L244.57,564.09 L244.83,577.13 L245.08,588.80 L245.34,598.79 L245.59,606.82 L245.85,612.68 L246.10,616.20 L246.36,617.29 L246.61,615.92 L246.87,612.13 L247.12,606.03 L247.38,597.79 L247.63,587.62 L247.89,575.78 L248.14,562.60 L248.40,548.40 L248.65,533.54 L248.91,518.40 L249.16,503.35 L249.42,488.76 L249.67,474.99 L249.93,462.36 L250.18,451.16 L250.44,441.67 L250.69,434.10 L250.95,428.62 L251.20,425.36 L251.46,424.37 L251.71,425.70 L251.97,429.33 L252.22,435.16 L252.48,443.07 L252.73,452.86 L252.99,464.31 L253.24,477.12 L253.50,491.00 L253.75,505.61 L254.01,520.58 L254.26,535.55 L254.52,550.15 L254.77,564.02 L255.03,576.81 L255.28,588.20 L255.54,597.90 L255.79,605.66 L256.05,611.30 L256.30,614.65 L256.56,615.65 L256.81,614.25 L257.07,610.49 L257.32,604.48 L257.58,596.36 L257.83,586.35 L258.09,574.70 L258.34,561.71 L258.60,547.69 L258.85,533.01 L259.11,518.03 L259.37,503.12 L259.62,488.64 L259.88,474.95 L260.13,462.38 L260.39,451.23 L260.64,441.77 L260.90,434.23 L261.15,428.78 L261.41,425.56 L261.66,424.62 L261.92,426.00 L262.17,429.65 L262.43,435.49 L262.68,443.39 L262.94,453.17 L263.19,464.61 L263.45,477.42 L263.70,491.31 L263.96,505.94 L264.21,520.96 L264.47,536.00 L264.72,550.68 L264.98,564.64 L265.23,577.52 L265.49,588.99 L265.74,598.77 L266.00,606.59 L266.25,612.25 L266.51,615.60 L266.76,616.55 L267.02,615.07 L267.27,611.20 L267.53,605.05 L267.78,596.78 L268.04,586.60 L268.29,574.79 L268.55,561.65 L268.80,547.50 L269.06,532.71 L269.31,517.65 L269.57,502.69 L269.82,488.19 L270.08,474.51 L270.33,461.98 L270.59,450.89 L270.84,441.51 L271.10,434.05 L271.35,428.68 L271.61,425.53 L271.86,424.66 L272.12,426.10 L272.37,429.82 L272.63,435.74 L272.88,443.72 L273.14,453.57 L273.39,465.05 L273.65,477.89 L273.90,491.78 L274.16,506.38 L274.41,521.33 L274.67,536.27 L274.92,550.83 L275.18,564.65 L275.43,577.37 L275.69,588.68 L275.94,598.29 L276.20,605.96 L276.45,611.49 L276.71,614.73 L276.96,615.60 L277.22,614.08 L277.47,610.21 L277.73,604.08 L277.98,595.86 L278.24,585.76 L278.49,574.04 L278.75,560.99 L279.00,546.94 L279.26,532.25 L279.51,517.28 L279.77,502.40 L280.02,487.98 L280.28,474.37 L280.53,461.89 L280.79,450.85 L281.04,441.52 L281.30,434.10 L281.55,428.78 L281.81,425.67 L282.06,424.86 L282.32,426.35 L282.57,430.10 L282.83,436.03 L283.08,444.01 L283.34,453.86 L283.59,465.34 L283.85,478.18 L284.10,492.09 L284.36,506.72 L284.61,521.72 L284.87,536.71 L285.12,551.34 L285.38,565.23 L285.63,578.02 L285.89,589.40 L286.14,599.07 L286.40,606.78 L286.65,612.32 L286.91,615.55 L287.16,616.37 L287.42,614.77 L287.67,610.78 L287.93,604.52 L288.18,596.15 L288.44,585.90 L288.69,574.03 L288.95,560.85 L289.20,546.69 L289.46,531.92 L289.71,516.90 L289.97,502.01 L290.22,487.60 L290.48,474.04 L290.73,461.63 L290.99,450.68 L291.24,441.44 L291.50,434.13 L291.75,428.91 L292.01,425.89 L292.26,425.14 L292.52,426.68 L292.77,430.49 L293.03,436.47 L293.28,444.49 L293.54,454.36 L293.79,465.85 L294.05,478.69 L294.30,492.57 L294.56,507.15 L294.81,522.08 L295.07,536.99 L295.32,551.51 L295.58,565.28 L295.83,577.95 L296.09,589.20 L296.34,598.74 L296.60,606.32 L296.85,611.76 L297.11,614.89 L297.36,615.65 L297.62,614.02 L297.87,610.03 L298.13,603.81 L298.38,595.50 L298.64,585.32 L298.89,573.52 L299.15,560.40 L299.40,546.29 L299.66,531.54 L299.91,516.52 L300.17,501.59 L300.42,487.13 L300.68,473.49 L300.93,460.99 L301.19,449.95 L301.44,440.63 L301.70,433.25 L301.95,427.99 L302.21,424.97 L302.46,424.26 L302.72,425.89 L302.97,429.80 L303.23,435.92 L303.48,444.09 L303.74,454.12 L303.99,465.77 L304.25,478.76 L304.50,492.77 L304.76,507.46 L305.01,522.47 L305.27,537.44 L305.52,551.98 L305.78,565.75 L306.03,578.39 L306.29,589.59 L306.54,599.07 L306.80,606.59 L307.05,611.94 L307.31,615.01 L307.56,615.70 L307.82,614.00 L308.07,609.94 L308.33,603.64 L308.58,595.25 L308.84,585.00 L309.09,573.14 L309.35,559.99 L309.60,545.87 L309.86,531.13 L310.11,516.15 L310.37,501.30 L310.62,486.93 L310.88,473.39 L311.13,461.02 L311.39,450.12 L311.64,440.93 L311.90,433.67 L312.15,428.52 L312.41,425.60 L312.66,424.96 L312.92,426.61 L313.17,430.52 L313.43,436.59 L313.68,444.70 L313.94,454.66 L314.20,466.24 L314.45,479.17 L314.71,493.15 L314.96,507.83 L315.22,522.86 L315.47,537.87 L315.73,552.49 L315.98,566.35 L316.24,579.10 L316.49,590.41 L316.75,599.99 L317.00,607.58 L317.26,612.98 L317.51,616.05 L317.77,616.69 L318.02,614.90 L318.28,610.72 L318.53,604.26 L318.79,595.71 L319.04,585.28 L319.30,573.25 L319.55,559.93 L319.81,545.67 L320.06,530.82 L320.32,515.76 L320.57,500.86 L320.83,486.47 L321.08,472.96 L321.34,460.64 L321.59,449.80 L321.85,440.70 L322.10,433.53 L322.36,428.47 L322.61,425.62 L322.87,425.04 L323.12,426.76 L323.38,430.73 L323.63,436.88 L323.89,445.05 L324.14,455.07 L324.40,466.69 L324.65,479.63 L324.91,493.60 L325.16,508.25 L325.42,523.22 L325.67,538.14 L325.93,552.66 L326.18,566.39 L326.44,579.00 L326.69,590.17 L326.95,599.60 L327.20,607.05 L327.46,612.34 L327.71,615.31 L327.97,615.89 L328.22,614.06 L328.48,609.89 L328.73,603.48 L328.99,594.99 L329.24,584.64 L329.50,572.69 L329.75,559.45 L330.01,545.25 L330.26,530.43 L330.52,515.38 L330.77,500.46 L331.03,486.04 L331.28,472.47 L331.54,460.07 L331.79,449.16 L332.05,439.98 L332.30,432.76 L332.56,427.67 L332.81,424.83 L333.07,424.30 L333.32,426.10 L333.58,430.19 L333.83,436.46 L334.09,444.78 L334.34,454.95 L334.60,466.71 L334.85,479.78 L335.11,493.86 L335.36,508.58 L335.62,523.60 L335.87,538.55 L336.13,553.04 L336.38,566.73 L336.64,579.27 L336.89,590.34 L337.15,599.68 L337.40,607.03 L337.66,612.22 L337.91,615.10 L338.17,615.62 L338.42,613.74 L338.68,609.52 L338.93,603.07 L339.19,594.55 L339.44,584.19 L339.70,572.24 L339.95,559.00 L340.21,544.82 L340.46,530.03 L340.72,515.01 L340.97,500.14 L341.23,485.76 L341.48,472.24 L341.74,459.91 L341.99,449.05 L342.25,439.94 L342.50,432.79 L342.76,427.76 L343.01,424.98 L343.27,424.51 L343.52,426.36 L343.78,430.49 L344.03,436.79 L344.29,445.13 L344.54,455.30 L344.80,467.07 L345.05,480.15 L345.31,494.23 L345.56,508.96 L345.82,523.98 L346.07,538.93 L346.33,553.43 L346.58,567.12 L346.84,579.66 L347.09,590.73 L347.35,600.06 L347.60,607.39 L347.86,612.54 L348.11,615.39 L348.37,615.84 L348.62,613.89 L348.88,609.57 L349.13,603.02 L349.39,594.40 L349.64,583.94 L349.90,571.91" fill="none" stroke="#8e8e8e" stroke-width="0.65" stroke-linejoin="round"/>
<path d="M40.30,506.92 L40.30,515.83 L40.62,517.14 L40.93,518.30 L41.05,518.67 L41.25,519.14 L41.56,519.51 L41.81,519.70 L41.88,519.75 L42.19,519.96 L42.51,520.11 L42.56,520.14 L42.82,520.22 L43.14,520.28 L43.31,520.29 L43.45,520.28 L43.77,520.21 L44.06,520.09 L44.08,520.08 L44.40,519.91 L44.71,519.71 L44.82,519.64 L45.03,519.51 L45.34,519.31 L45.57,519.16 L45.66,519.09 L45.98,518.86 L46.29,518.60 L46.32,518.57 L46.61,518.32 L46.92,518.03 L47.07,517.88 L47.24,517.72 L47.55,517.39 L47.83,517.10 L47.87,517.05 L48.18,516.70 L48.50,516.33 L48.58,516.24 L48.81,515.96 L49.13,515.57 L49.33,515.31 L49.44,515.17 L49.76,514.75 L50.07,514.29 L50.08,514.27 L50.39,513.80 L50.70,513.29 L50.84,513.07 L51.02,512.75 L51.34,512.19 L51.59,511.72 L51.65,511.61 L51.97,511.01 L52.28,510.40 L52.34,510.28 L52.60,509.77 L52.91,509.13 L53.09,508.76 L53.23,508.49 L53.54,507.83 L53.85,507.20 L53.86,507.18 L54.17,506.52 L54.49,505.86 L54.60,505.63 L54.80,505.21 L55.12,504.56 L55.35,504.09 L55.43,503.92 L55.75,503.29 L56.06,502.67 L56.10,502.59 L56.38,502.07 L56.70,501.48 L56.86,501.17 L57.01,500.89 L57.33,500.29 L57.61,499.76 L57.64,499.70 L57.96,499.10 L58.27,498.50 L58.36,498.33 L58.59,497.90 L58.90,497.30 L59.12,496.90 L59.22,496.70 L59.53,496.10 L59.85,495.50 L59.87,495.46 L60.16,494.89 L60.48,494.29 L60.62,494.02 L60.79,493.69 L61.11,493.09 L61.37,492.58 L61.42,492.48 L61.74,491.88 L62.06,491.28 L62.13,491.15 L62.37,490.68 L62.69,490.09 L62.88,489.72 L63.00,489.49 L63.32,488.90 L63.63,488.31 L63.63,488.30 L63.95,487.71 L64.26,487.13 L64.38,486.90 L64.58,486.54 L64.89,485.96 L65.14,485.51 L65.21,485.38 L65.52,484.81 L65.84,484.23 L65.89,484.14 L66.15,483.67 L66.47,483.10 L66.64,482.79 L66.78,482.54 L67.10,481.98 L67.39,481.47 L67.42,481.43 L67.73,480.89 L68.05,480.34 L68.15,480.17 L68.36,479.81 L68.68,479.28 L68.90,478.90 L68.99,478.75 L69.31,478.23 L69.62,477.71 L69.65,477.66 L69.94,477.20 L70.25,476.69 L70.40,476.45 L70.57,476.19 L70.88,475.68 L71.16,475.25 L71.20,475.19 L71.51,474.69 L71.83,474.20 L71.91,474.07 L72.14,473.71 L72.46,473.23 L72.66,472.92 L72.78,472.74 L73.09,472.26 L73.41,471.78 L73.41,471.77 L73.72,471.31 L74.04,470.84 L74.17,470.64 L74.35,470.37 L74.67,469.90 L74.92,469.52 L74.98,469.43 L75.30,468.96 L75.61,468.50 L75.67,468.41 L75.93,468.04 L76.24,467.57 L76.43,467.31 L76.56,467.11 L76.87,466.65 L77.18,466.21 L77.19,466.20 L77.50,465.74 L77.82,465.28 L77.93,465.12 L78.14,464.82 L78.45,464.37 L78.68,464.03 L78.77,463.91 L79.08,463.45 L79.40,462.99 L79.44,462.94 L79.71,462.53 L80.03,462.07 L80.19,461.84 L80.34,461.61 L80.66,461.15 L80.94,460.74 L80.97,460.69 L81.29,460.24 L81.60,459.78 L81.69,459.65 L81.92,459.32 L82.23,458.86 L82.45,458.56 L82.55,458.41 L82.86,457.95 L83.18,457.50 L83.20,457.48 L83.50,457.05 L83.81,456.60 L83.95,456.41 L84.13,456.16 L84.44,455.72 L84.70,455.35 L84.76,455.28 L85.07,454.84 L85.39,454.41 L85.46,454.31 L85.70,453.98 L86.02,453.55 L86.21,453.30 L86.33,453.13 L86.65,452.72 L86.96,452.30 L86.96,452.30 L87.28,451.89 L87.59,451.49 L87.71,451.34 L87.91,451.09 L88.22,450.70 L88.47,450.40 L88.54,450.32 L88.86,449.93 L89.17,449.56 L89.22,449.50 L89.49,449.18 L89.80,448.80 L89.97,448.60 L90.12,448.42 L90.43,448.04 L90.72,447.69 L90.75,447.67 L91.06,447.29 L91.38,446.92 L91.48,446.80 L91.69,446.54 L92.01,446.17 L92.23,445.91 L92.32,445.80 L92.64,445.44 L92.95,445.07 L92.98,445.04 L93.27,444.72 L93.58,444.36 L93.74,444.19 L93.90,444.01 L94.22,443.66 L94.49,443.37 L94.53,443.32 L94.85,442.99 L95.16,442.66 L95.24,442.57 L95.48,442.33 L95.79,442.01 L95.99,441.82 L96.11,441.70 L96.42,441.40 L96.74,441.10 L96.75,441.10 L97.05,440.82 L97.37,440.54 L97.50,440.42 L97.68,440.27 L98.00,440.00 L98.25,439.80 L98.31,439.75 L98.63,439.51 L98.94,439.27 L99.00,439.23 L99.26,439.05 L99.58,438.83 L99.76,438.71 L99.89,438.62 L100.21,438.41 L100.51,438.21 L100.52,438.21 L100.84,438.01 L101.15,437.81 L101.26,437.74 L101.47,437.62 L101.78,437.43 L102.01,437.30 L102.10,437.25 L102.41,437.07 L102.73,436.89 L102.77,436.87 L103.04,436.72 L103.36,436.54 L103.52,436.46 L103.67,436.38 L103.99,436.21 L104.27,436.07 L104.30,436.05 L104.62,435.89 L104.94,435.73 L105.02,435.69 L105.25,435.58 L105.57,435.43 L105.78,435.32 L105.88,435.27 L106.20,435.12 L106.51,434.98 L106.53,434.97 L106.83,434.83 L107.14,434.69 L107.28,434.62 L107.46,434.54 L107.77,434.40 L108.04,434.28 L108.09,434.26 L108.40,434.12 L108.72,433.98 L108.79,433.95 L109.03,433.84 L109.35,433.70 L109.54,433.62 L109.66,433.56 L109.98,433.42 L110.29,433.29 L110.30,433.29 L110.61,433.15 L110.93,433.02 L111.05,432.97 L111.24,432.89 L111.56,432.76 L111.80,432.66 L111.87,432.63 L112.19,432.50 L112.50,432.37 L112.55,432.35 L112.82,432.25 L113.13,432.12 L113.30,432.06 L113.45,432.00 L113.76,431.88 L114.06,431.77 L114.08,431.76 L114.39,431.64 L114.71,431.52 L114.81,431.48 L115.02,431.40 L115.34,431.29 L115.56,431.21 L115.66,431.17 L116.31,430.94 L117.07,430.68 L117.82,430.42 L118.57,430.18 L119.32,429.94 L120.08,429.71 L120.83,429.48 L121.58,429.26 L122.33,429.04 L123.09,428.83 L123.84,428.62 L124.59,428.42 L125.35,428.22 L126.10,428.03 L126.85,427.85 L127.60,427.67 L128.36,427.51 L129.11,427.35 L129.86,427.20 L130.61,427.05 L131.37,426.90 L132.12,426.76 L132.87,426.63 L133.62,426.50 L134.38,426.37 L135.13,426.25 L135.88,426.13 L136.63,426.02 L137.39,425.90 L138.14,425.80 L138.89,425.70 L139.64,425.60 L140.40,425.50 L141.15,425.41 L141.90,425.31 L142.66,425.22 L143.41,425.14 L144.16,425.05 L144.91,424.97 L145.67,424.89 L146.42,424.82 L147.17,424.75 L147.92,424.68 L148.68,424.62 L149.43,424.57 L150.18,424.52 L150.93,424.48 L151.69,424.43 L152.44,424.39 L153.19,424.35 L153.94,424.31 L154.70,424.27 L155.45,424.23 L156.20,424.20 L156.95,424.16 L157.71,424.13 L158.46,424.09 L159.21,424.06 L159.97,424.03 L160.72,424.00 L161.47,423.97 L162.22,423.94 L162.98,423.92 L163.73,423.89 L164.48,423.86 L165.23,423.84 L165.99,423.81 L166.74,423.79 L167.49,423.76 L168.24,423.74 L169.00,423.71 L169.75,423.69 L170.50,423.66 L171.25,423.64 L172.01,423.61 L172.76,423.59 L173.51,423.56 L174.26,423.54 L175.02,423.51 L175.77,423.49 L176.52,423.46 L177.28,423.44 L178.03,423.41 L178.78,423.39 L179.53,423.37 L180.29,423.34 L181.04,423.32 L181.79,423.29 L182.54,423.27 L183.30,423.25 L184.05,423.23 L184.80,423.20 L185.55,423.18 L186.31,423.16 L187.06,423.14 L187.81,423.12 L188.56,423.11 L189.32,423.09 L190.07,423.07 L190.82,423.06 L191.57,423.04 L192.33,423.03 L193.08,423.02 L193.83,423.00 L194.59,422.99 L195.34,422.98 L196.09,422.98 L196.84,422.97 L197.60,422.96 L198.35,422.96 L199.10,422.96 L199.85,422.95 L200.61,422.95 L201.36,422.95 L202.11,422.94 L202.86,422.94 L203.62,422.94 L204.37,422.93 L205.12,422.93 L205.87,422.93 L206.63,422.92 L207.38,422.92 L208.13,422.92 L208.88,422.92 L209.64,422.91 L210.39,422.91 L211.14,422.91 L211.90,422.90 L212.65,422.90 L213.40,422.90 L214.15,422.90 L214.91,422.89 L215.66,422.89 L216.41,422.89 L217.16,422.88 L217.92,422.88 L218.67,422.88 L219.42,422.88 L220.17,422.87 L220.93,422.87 L221.68,422.87 L222.43,422.87 L223.18,422.86 L223.94,422.86 L224.69,422.86 L225.44,422.86 L226.19,422.85 L226.95,422.85 L227.70,422.85 L228.45,422.85 L229.21,422.84 L229.96,422.84 L230.71,422.84 L231.46,422.84 L232.22,422.84 L232.97,422.83 L233.72,422.83 L234.47,422.83 L235.23,422.83 L235.98,422.82 L236.73,422.82 L237.48,422.82 L238.24,422.82 L238.99,422.82 L239.74,422.81 L240.49,422.81 L241.25,422.81 L242.00,422.81 L242.75,422.81 L243.51,422.80 L244.26,422.80 L245.01,422.80 L245.76,422.80 L246.52,422.80 L247.27,422.79 L248.02,422.79 L248.77,422.79 L249.53,422.79 L250.28,422.79 L251.03,422.79 L251.78,422.78 L252.54,422.78 L253.29,422.78 L254.04,422.78 L254.79,422.78 L255.55,422.78 L256.30,422.77 L257.05,422.77 L257.80,422.77 L258.56,422.77 L259.31,422.77 L260.06,422.77 L260.82,422.76 L261.57,422.76 L262.32,422.76 L263.07,422.76 L263.83,422.76 L264.58,422.76 L265.33,422.76 L266.08,422.75 L266.84,422.75 L267.59,422.75 L268.34,422.75 L269.09,422.75 L269.85,422.75 L270.60,422.75 L271.35,422.74 L272.10,422.74 L272.86,422.74 L273.61,422.74 L274.36,422.74 L275.11,422.74 L275.87,422.74 L276.62,422.74 L277.37,422.74 L278.13,422.73 L278.88,422.73 L279.63,422.73 L280.38,422.73 L281.14,422.73 L281.89,422.73 L282.64,422.73 L283.39,422.73 L284.15,422.73 L284.90,422.72 L285.65,422.72 L286.40,422.72 L287.16,422.72 L287.91,422.72 L288.66,422.72 L289.41,422.72 L290.17,422.72 L290.92,422.72 L291.67,422.72 L292.42,422.72 L293.18,422.71 L293.93,422.71 L294.68,422.71 L295.44,422.71 L296.19,422.71 L296.94,422.71 L297.69,422.71 L298.45,422.71 L299.20,422.71 L299.95,422.71 L300.70,422.71 L301.46,422.71 L302.21,422.71 L302.96,422.71 L303.71,422.70 L304.47,422.70 L305.22,422.70 L305.97,422.70 L306.72,422.70 L307.48,422.70 L308.23,422.70 L308.98,422.70 L309.73,422.70 L310.49,422.70 L311.24,422.70 L311.99,422.70 L312.75,422.70 L313.50,422.70 L314.25,422.70 L315.00,422.70 L315.76,422.70 L316.51,422.70 L317.26,422.70 L318.01,422.70 L318.77,422.70 L319.52,422.70 L320.27,422.69 L321.02,422.69 L321.78,422.69 L322.53,422.69 L323.28,422.69 L324.03,422.69 L324.79,422.69 L325.54,422.69 L326.29,422.69 L327.04,422.69 L327.80,422.69 L328.55,422.69 L329.30,422.69 L330.06,422.69 L330.81,422.69 L331.56,422.69 L332.31,422.69 L333.07,422.69 L333.82,422.69 L334.57,422.69 L335.32,422.69 L336.08,422.69 L336.83,422.69 L337.58,422.69 L338.33,422.69 L339.09,422.69 L339.84,422.69 L340.59,422.69" fill="none" stroke="#000" stroke-width="3.54" stroke-linejoin="round"/>
<path d="M40.30,504.25 L40.62,502.09 L40.93,499.98 L41.05,499.17 L41.25,497.91 L41.56,495.88 L41.81,494.34 L41.88,493.89 L42.19,491.96 L42.51,490.08 L42.56,489.78 L42.82,488.26 L43.14,486.49 L43.31,485.55 L43.45,484.79 L43.77,483.13 L44.06,481.63 L44.08,481.53 L44.40,479.96 L44.71,478.44 L44.82,477.95 L45.03,476.94 L45.34,475.48 L45.57,474.46 L45.66,474.04 L45.98,472.63 L46.29,471.23 L46.32,471.10 L46.61,469.85 L46.92,468.47 L47.07,467.81 L47.24,467.09 L47.55,465.70 L47.83,464.49 L47.87,464.30 L48.18,462.90 L48.50,461.50 L48.58,461.15 L48.81,460.11 L49.13,458.73 L49.33,457.86 L49.44,457.37 L49.76,456.03 L50.07,454.72 L50.08,454.68 L50.39,453.44 L50.70,452.20 L50.84,451.69 L51.02,451.00 L51.34,449.85 L51.59,448.95 L51.65,448.74 L51.97,447.70 L52.28,446.71 L52.34,446.53 L52.60,445.80 L52.91,444.94 L53.09,444.46 L53.23,444.12 L53.54,443.33 L53.85,442.59 L53.86,442.56 L54.17,441.82 L54.49,441.10 L54.60,440.86 L54.80,440.41 L55.12,439.74 L55.35,439.25 L55.43,439.09 L55.75,438.45 L56.06,437.84 L56.10,437.76 L56.38,437.24 L56.70,436.66 L56.86,436.37 L57.01,436.10 L57.33,435.55 L57.61,435.06 L57.64,435.01 L57.96,434.48 L58.27,433.96 L58.36,433.81 L58.59,433.45 L58.90,432.95 L59.12,432.62 L59.22,432.46 L59.53,431.97 L59.85,431.49 L59.87,431.46 L60.16,431.02 L60.48,430.56 L60.62,430.35 L60.79,430.10 L61.11,429.66 L61.37,429.30 L61.42,429.23 L61.74,428.81 L62.06,428.40 L62.13,428.31 L62.37,428.00 L62.69,427.62 L62.88,427.40 L63.00,427.26 L63.32,426.90 L63.63,426.57 L63.63,426.57 L63.95,426.25 L64.26,425.95 L64.38,425.84 L64.58,425.66 L64.89,425.38 L65.14,425.17 L65.21,425.11 L65.52,424.84 L65.84,424.58 L65.89,424.54 L66.15,424.33 L66.47,424.08 L66.64,423.95 L66.78,423.84 L67.10,423.61 L67.39,423.40 L67.42,423.39 L67.73,423.17 L68.05,422.97 L68.15,422.90 L68.36,422.77 L68.68,422.58 L68.90,422.45 L68.99,422.40 L69.31,422.24 L69.62,422.08 L69.65,422.07 L69.94,421.93 L70.25,421.80 L70.40,421.74 L70.57,421.67 L70.88,421.55 L71.16,421.44 L71.20,421.42 L71.51,421.30 L71.83,421.18 L71.91,421.15 L72.14,421.07 L72.46,420.95 L72.66,420.88 L72.78,420.84 L73.09,420.73 L73.41,420.62 L73.41,420.62 L73.72,420.52 L74.04,420.41 L74.17,420.37 L74.35,420.31 L74.67,420.22 L74.92,420.14 L74.98,420.12 L75.30,420.03 L75.61,419.94 L75.67,419.92 L75.93,419.85 L76.24,419.76 L76.43,419.71 L76.56,419.68 L76.87,419.60 L77.18,419.52 L77.19,419.52 L77.50,419.44 L77.82,419.37 L77.93,419.34 L78.14,419.30 L78.45,419.23 L78.68,419.18 L78.77,419.17 L79.08,419.10 L79.40,419.04 L79.44,419.04 L79.71,418.98 L80.03,418.93 L80.19,418.90 L80.34,418.88 L80.66,418.83 L80.94,418.79 L80.97,418.78 L81.29,418.74 L81.60,418.70 L81.69,418.69 L81.92,418.66 L82.23,418.62 L82.45,418.60 L82.55,418.58 L82.86,418.55 L83.18,418.51 L83.20,418.51 L83.50,418.48 L83.81,418.44 L83.95,418.43 L84.13,418.41 L84.44,418.38 L84.70,418.35 L84.76,418.35 L85.07,418.32 L85.39,418.29 L85.46,418.28 L85.70,418.26 L86.02,418.23 L86.21,418.21 L86.33,418.20 L86.65,418.18 L86.96,418.15 L86.96,418.15 L87.28,418.12 L87.59,418.10 L87.71,418.09 L87.91,418.08 L88.22,418.05 L88.47,418.04 L88.54,418.03 L88.86,418.01 L89.17,417.99 L89.22,417.98 L89.49,417.97 L89.80,417.95 L89.97,417.94 L90.12,417.93 L90.43,417.91 L90.72,417.90 L90.75,417.89 L91.06,417.88 L91.38,417.86 L91.48,417.86 L91.69,417.85 L92.01,417.83 L92.23,417.82 L92.32,417.82 L92.64,417.80 L92.95,417.79 L92.98,417.79 L93.27,417.78 L93.58,417.77 L93.74,417.76 L93.90,417.76 L94.22,417.74 L94.49,417.73 L94.53,417.73 L94.85,417.72 L95.16,417.71 L95.24,417.71 L95.48,417.70 L95.79,417.69 L95.99,417.68 L96.11,417.67 L96.42,417.66 L96.74,417.65 L96.75,417.65 L97.05,417.64 L97.37,417.63 L97.50,417.63 L97.68,417.62 L98.00,417.61 L98.25,417.60 L98.31,417.60 L98.63,417.59 L98.94,417.58 L99.00,417.58 L99.26,417.57 L99.58,417.56 L99.76,417.55 L99.89,417.55 L100.21,417.54 L100.51,417.53 L100.52,417.53 L100.84,417.52 L101.15,417.51 L101.26,417.51 L101.47,417.50 L101.78,417.49 L102.01,417.49 L102.10,417.49 L102.41,417.48 L102.73,417.47 L102.77,417.47 L103.04,417.46 L103.36,417.45 L103.52,417.45 L103.67,417.45 L103.99,417.44 L104.27,417.43 L104.30,417.43 L104.62,417.42 L104.94,417.42 L105.02,417.42 L105.25,417.41 L105.57,417.41 L105.78,417.40 L105.88,417.40 L106.20,417.39 L106.51,417.39 L106.53,417.39 L106.83,417.38 L107.14,417.38 L107.28,417.38 L107.46,417.37 L107.77,417.37 L108.04,417.37 L108.09,417.37 L108.40,417.36 L108.72,417.36 L108.79,417.36 L109.03,417.36 L109.35,417.35 L109.54,417.35 L109.66,417.35 L109.98,417.35 L110.29,417.35 L110.30,417.35 L110.61,417.35 L110.93,417.34 L111.05,417.34 L111.24,417.34 L111.56,417.34 L111.80,417.34 L111.87,417.34 L112.19,417.34 L112.50,417.34 L112.55,417.34 L112.82,417.34 L113.13,417.34 L113.30,417.34 L113.45,417.34 L113.76,417.34 L114.06,417.34 L114.08,417.34 L114.39,417.34 L114.71,417.34 L114.81,417.34 L115.02,417.34 L115.34,417.34 L115.56,417.34 L115.66,417.34 L116.31,417.34 L117.07,417.34 L117.82,417.34 L118.57,417.34 L119.32,417.34 L120.08,417.34 L120.83,417.34 L121.58,417.34 L122.33,417.34 L123.09,417.34 L123.84,417.34 L124.59,417.34 L125.35,417.34 L126.10,417.34 L126.85,417.34 L127.60,417.34 L128.36,417.34 L129.11,417.34 L129.86,417.34 L130.61,417.34 L131.37,417.34 L132.12,417.34 L132.87,417.34 L133.62,417.34 L134.38,417.34 L135.13,417.34 L135.88,417.34 L136.63,417.34 L137.39,417.34 L138.14,417.34 L138.89,417.34 L139.64,417.34 L140.40,417.34 L141.15,417.34 L141.90,417.34 L142.66,417.34 L143.41,417.34 L144.16,417.34 L144.91,417.34 L145.67,417.34 L146.42,417.34 L147.17,417.34 L147.92,417.34 L148.68,417.34 L149.43,417.34 L150.18,417.34 L150.93,417.34 L151.69,417.34 L152.44,417.34 L153.19,417.34 L153.94,417.34 L154.70,417.34 L155.45,417.34 L156.20,417.34 L156.95,417.34 L157.71,417.34 L158.46,417.34 L159.21,417.34 L159.97,417.34 L160.72,417.34 L161.47,417.34 L162.22,417.34 L162.98,417.34 L163.73,417.34 L164.48,417.34 L165.23,417.34 L165.99,417.34 L166.74,417.34 L167.49,417.34 L168.24,417.34 L169.00,417.34 L169.75,417.34 L170.50,417.34 L171.25,417.34 L172.01,417.34 L172.76,417.34 L173.51,417.34 L174.26,417.34 L175.02,417.34 L175.77,417.34 L176.52,417.34 L177.28,417.34 L178.03,417.34 L178.78,417.34 L179.53,417.34 L180.29,417.34 L181.04,417.34 L181.79,417.34 L182.54,417.34 L183.30,417.34 L184.05,417.34 L184.80,417.34 L185.55,417.34 L186.31,417.34 L187.06,417.34 L187.81,417.34 L188.56,417.34 L189.32,417.34 L190.07,417.34 L190.82,417.34 L191.57,417.34 L192.33,417.34 L193.08,417.34 L193.83,417.34 L194.59,417.34 L195.34,417.34 L196.09,417.34 L196.84,417.34 L197.60,417.34 L198.35,417.34 L199.10,417.34 L199.85,417.34 L200.61,417.34 L201.36,417.34 L202.11,417.34 L202.86,417.34 L203.62,417.34 L204.37,417.34 L205.12,417.34 L205.87,417.34 L206.63,417.34 L207.38,417.34 L208.13,417.34 L208.88,417.34 L209.64,417.34 L210.39,417.34 L211.14,417.34 L211.90,417.34 L212.65,417.34 L213.40,417.34 L214.15,417.34 L214.91,417.34 L215.66,417.34 L216.41,417.34 L217.16,417.34 L217.92,417.34 L218.67,417.34 L219.42,417.34 L220.17,417.34 L220.93,417.34 L221.68,417.34 L222.43,417.34 L223.18,417.34 L223.94,417.34 L224.69,417.34 L225.44,417.34 L226.19,417.34 L226.95,417.34 L227.70,417.34 L228.45,417.34 L229.21,417.34 L229.96,417.34 L230.71,417.34 L231.46,417.34 L232.22,417.34 L232.97,417.34 L233.72,417.34 L234.47,417.34 L235.23,417.34 L235.98,417.34 L236.73,417.34 L237.48,417.34 L238.24,417.34 L238.99,417.34 L239.74,417.34 L240.49,417.34 L241.25,417.34 L242.00,417.34 L242.75,417.34 L243.51,417.34 L244.26,417.34 L245.01,417.34 L245.76,417.34 L246.52,417.34 L247.27,417.34 L248.02,417.34 L248.77,417.34 L249.53,417.34 L250.28,417.34 L251.03,417.34 L251.78,417.34 L252.54,417.34 L253.29,417.34 L254.04,417.34 L254.79,417.34 L255.55,417.34 L256.30,417.34 L257.05,417.34 L257.80,417.34 L258.56,417.34 L259.31,417.34 L260.06,417.34 L260.82,417.34 L261.57,417.34 L262.32,417.34 L263.07,417.34 L263.83,417.34 L264.58,417.34 L265.33,417.34 L266.08,417.34 L266.84,417.34 L267.59,417.34 L268.34,417.34 L269.09,417.34 L269.85,417.34 L270.60,417.34 L271.35,417.34 L272.10,417.34 L272.86,417.34 L273.61,417.34 L274.36,417.34 L275.11,417.34 L275.87,417.34 L276.62,417.34 L277.37,417.34 L278.13,417.34 L278.88,417.34 L279.63,417.34 L280.38,417.34 L281.14,417.34 L281.89,417.34 L282.64,417.34 L283.39,417.34 L284.15,417.34 L284.90,417.34 L285.65,417.34 L286.40,417.34 L287.16,417.34 L287.91,417.34 L288.66,417.34 L289.41,417.34 L290.17,417.34 L290.92,417.34 L291.67,417.34 L292.42,417.34 L293.18,417.34 L293.93,417.34 L294.68,417.34 L295.44,417.34 L296.19,417.34 L296.94,417.34 L297.69,417.34 L298.45,417.34 L299.20,417.34 L299.95,417.34 L300.70,417.34 L301.46,417.34 L302.21,417.34 L302.96,417.34 L303.71,417.34 L304.47,417.34 L305.22,417.34 L305.97,417.34 L306.72,417.34 L307.48,417.34 L308.23,417.34 L308.98,417.34 L309.73,417.34 L310.49,417.34 L311.24,417.34 L311.99,417.34 L312.75,417.34 L313.50,417.34 L314.25,417.34 L315.00,417.34 L315.76,417.34 L316.51,417.34 L317.26,417.34 L318.01,417.34 L318.77,417.34 L319.52,417.34 L320.27,417.34 L321.02,417.34 L321.78,417.34 L322.53,417.34 L323.28,417.34 L324.03,417.34 L324.79,417.34 L325.54,417.34 L326.29,417.34 L327.04,417.34 L327.80,417.34 L328.55,417.34 L329.30,417.34 L330.06,417.34 L330.81,417.34 L331.56,417.34 L332.31,417.34 L333.07,417.34 L333.82,417.34 L334.57,417.34 L335.32,417.34 L336.08,417.34 L336.83,417.34 L337.58,417.34 L338.33,417.34 L339.09,417.34 L339.84,417.34 L340.59,417.34" fill="none" stroke="#000" stroke-width="3.54" stroke-dasharray="9.86 2.68 3.26 2.68" stroke-dashoffset="12.54" stroke-linejoin="round"/>
</g>
<rect x="40.30" y="385.70" width="339.10" height="267.40" fill="none" stroke="#6a6a6a" stroke-width="0.9"/>
<path d="M77.89 653.10v-3.54M77.89 385.70v3.54M115.48 653.10v-3.54M115.48 385.70v3.54M153.07 653.10v-3.54M153.07 385.70v3.54M190.66 653.10v-3.54M190.66 385.70v3.54M228.24 653.10v-3.54M228.24 385.70v3.54M265.83 653.10v-3.54M265.83 385.70v3.54M303.42 653.10v-3.54M303.42 385.70v3.54M341.01 653.10v-3.54M341.01 385.70v3.54M40.30 430.27h3.54M379.40 430.27h-3.54M40.30 474.83h3.54M379.40 474.83h-3.54M40.30 519.40h3.54M379.40 519.40h-3.54M40.30 563.97h3.54M379.40 563.97h-3.54M40.30 608.53h3.54M379.40 608.53h-3.54" fill="none" stroke="#6a6a6a" stroke-width="0.9"/>
<rect x="226.70" y="601.98" width="147.91" height="46.43" fill="#fff" stroke="#6a6a6a" stroke-width="0.9"/>
<path d="M233.02 610.78H263.37" stroke="#000" stroke-width="3.54" stroke-dasharray="9.86 2.68 3.26 2.68"/>
<path d="M233.02 625.43H263.37" stroke="#000" stroke-width="3.54"/>
<path d="M233.02 639.41H263.37" stroke="#b4b4b4" stroke-width="0.77"/>
<g fill="#111" stroke="#111" stroke-width="0.15">
<text transform="translate(40.60 665.00) scale(1.130 1)" font-size="9.50" text-anchor="middle">0</text>
<text transform="translate(78.19 665.00) scale(1.130 1)" font-size="9.50" text-anchor="middle">1</text>
<text transform="translate(115.78 665.00) scale(1.130 1)" font-size="9.50" text-anchor="middle">2</text>
<text transform="translate(153.37 665.00) scale(1.130 1)" font-size="9.50" text-anchor="middle">3</text>
<text transform="translate(190.96 665.00) scale(1.130 1)" font-size="9.50" text-anchor="middle">4</text>
<text transform="translate(228.54 665.00) scale(1.130 1)" font-size="9.50" text-anchor="middle">5</text>
<text transform="translate(266.13 665.00) scale(1.130 1)" font-size="9.50" text-anchor="middle">6</text>
<text transform="translate(303.72 665.00) scale(1.130 1)" font-size="9.50" text-anchor="middle">7</text>
<text transform="translate(341.31 665.00) scale(1.130 1)" font-size="9.50" text-anchor="middle">8</text>
<text transform="translate(378.90 665.00) scale(1.130 1)" font-size="9.50" text-anchor="middle">9</text>
<text transform="translate(37.00 388.80) scale(1.120 1)" font-size="9.50" text-anchor="end">1.5</text>
<text transform="translate(37.00 433.37) scale(1.120 1)" font-size="9.50" text-anchor="end">1</text>
<text transform="translate(37.00 477.93) scale(1.120 1)" font-size="9.50" text-anchor="end">0.5</text>
<text transform="translate(37.00 522.50) scale(1.120 1)" font-size="9.50" text-anchor="end">0</text>
<text transform="translate(37.00 567.07) scale(1.120 1)" font-size="9.50" text-anchor="end">-0.5</text>
<text transform="translate(37.00 611.63) scale(1.120 1)" font-size="9.50" text-anchor="end">-1</text>
<text transform="translate(37.00 656.20) scale(1.120 1)" font-size="9.50" text-anchor="end">-1.5</text>
<text transform="translate(353.46 684.33) scale(1.100 1)" font-size="9.50" text-anchor="start">x 10</text>
<text transform="translate(373.75 677.82) scale(1.100 1)" font-size="6.17" text-anchor="start">-9</text>
<text transform="translate(210.70 683.00) scale(1.040 1)" font-size="12.70" text-anchor="middle">time(Second)</text>
<text transform="translate(10.50 523.50) rotate(-90) scale(1.090 1)" font-size="12.70" text-anchor="middle">Vod(V)</text>
</g>
<g fill="#111" stroke="#111" stroke-width="0.2">
<text transform="translate(267.58 614.71) scale(1.073 1)" font-size="10.40" text-anchor="start">Equation (32)</text>
<text transform="translate(267.58 629.55) scale(1.073 1)" font-size="10.40" text-anchor="start">Our analytic Eq. (31)</text>
<text transform="translate(267.58 643.33) scale(1.025 1)" font-size="10.40" text-anchor="start">Simulation</text>
</g>
</g>
<g>
<clipPath id="clip4857"><rect x="448.80" y="369.00" width="360.90" height="284.10"/></clipPath>
<g clip-path="url(#clip4857)">
<path d="M448.80,524.31 L449.07,524.72 L449.34,524.76 L449.61,524.40 L449.88,523.62 L450.16,522.42 L450.43,520.81 L450.70,518.81 L450.97,516.47 L451.24,513.84 L451.51,511.00 L451.78,508.02 L452.05,504.99 L452.32,502.00 L452.60,499.15 L452.87,496.52 L453.14,494.21 L453.41,492.30 L453.68,490.85 L453.95,489.92 L454.22,489.55 L454.49,489.73 L454.76,490.44 L455.04,491.68 L455.31,493.41 L455.58,495.60 L455.85,498.19 L456.12,501.13 L456.39,504.33 L456.66,507.73 L456.93,511.23 L457.20,514.74 L457.48,518.18 L457.75,521.46 L458.02,524.50 L458.29,527.20 L458.56,529.52 L458.83,531.37 L459.10,532.72 L459.37,533.53 L459.65,533.78 L459.92,533.46 L460.19,532.59 L460.46,531.18 L460.73,529.28 L461.00,526.93 L461.27,524.19 L461.54,521.12 L461.81,517.80 L462.09,514.32 L462.36,510.75 L462.63,507.19 L462.90,503.73 L463.17,500.45 L463.44,497.43 L463.71,494.75 L463.98,492.47 L464.25,490.65 L464.53,489.33 L464.80,488.55 L465.07,488.32 L465.34,488.61 L465.61,489.38 L465.88,490.64 L466.15,492.38 L466.42,494.60 L466.69,497.26 L466.97,500.34 L467.24,503.78 L467.51,507.54 L467.78,511.52 L468.05,515.66 L468.32,519.83 L468.59,523.94 L468.86,527.87 L469.13,531.49 L469.41,534.71 L469.68,537.39 L469.95,539.45 L470.22,540.80 L470.49,541.39 L470.76,541.21 L471.03,540.27 L471.30,538.59 L471.57,536.19 L471.85,533.10 L472.12,529.40 L472.39,525.16 L472.66,520.48 L472.93,515.47 L473.20,510.26 L473.47,504.98 L473.74,499.78 L474.01,494.78 L474.29,490.14 L474.56,485.98 L474.83,482.43 L475.10,479.58 L475.37,477.52 L475.64,476.33 L475.91,476.02 L476.18,476.62 L476.45,478.09 L476.73,480.38 L477.00,483.44 L477.27,487.18 L477.54,491.49 L477.81,496.26 L478.08,501.37 L478.35,506.67 L478.62,512.03 L478.90,517.33 L479.17,522.43 L479.44,527.21 L479.71,531.56 L479.98,535.38 L480.25,538.59 L480.52,541.12 L480.79,542.92 L481.06,543.94 L481.34,544.18 L481.61,543.70 L481.88,542.52 L482.15,540.63 L482.42,538.05 L482.69,534.78 L482.96,530.84 L483.23,526.30 L483.50,521.20 L483.78,515.65 L484.05,509.75 L484.32,503.62 L484.59,497.43 L484.86,491.33 L485.13,485.49 L485.40,480.10 L485.67,475.34 L485.94,471.36 L486.22,468.31 L486.49,466.33 L486.76,465.51 L487.03,465.82 L487.30,467.26 L487.57,469.83 L487.84,473.49 L488.11,478.19 L488.38,483.83 L488.66,490.30 L488.93,497.44 L489.20,505.09 L489.47,513.06 L489.74,521.13 L490.01,529.10 L490.28,536.73 L490.55,543.83 L490.82,550.17 L491.10,555.57 L491.37,559.87 L491.64,562.93 L491.91,564.65 L492.18,564.98 L492.45,563.92 L492.72,561.51 L492.99,557.82 L493.26,552.97 L493.54,547.09 L493.81,540.36 L494.08,532.95 L494.35,525.08 L494.62,516.93 L494.89,508.73 L495.16,500.68 L495.43,492.96 L495.70,485.77 L495.98,479.26 L496.25,473.58 L496.52,468.84 L496.79,465.15 L497.06,462.57 L497.33,461.15 L497.60,460.91 L497.87,461.81 L498.15,463.82 L498.42,466.94 L498.69,471.13 L498.96,476.32 L499.23,482.44 L499.50,489.39 L499.77,497.03 L500.04,505.23 L500.31,513.79 L500.59,522.53 L500.86,531.24 L501.13,539.69 L501.40,547.65 L501.67,554.91 L501.94,561.24 L502.21,566.44 L502.48,570.33 L502.75,572.78 L503.03,573.68 L503.30,573.05 L503.57,570.90 L503.84,567.22 L504.11,562.06 L504.38,555.50 L504.65,547.65 L504.92,538.68 L505.19,528.78 L505.47,518.18 L505.74,507.16 L506.01,495.99 L506.28,484.97 L506.55,474.41 L506.82,464.61 L507.09,455.88 L507.36,448.46 L507.63,442.60 L507.91,438.49 L508.18,436.26 L508.45,435.99 L508.72,437.68 L508.99,441.26 L509.26,446.62 L509.53,453.58 L509.80,461.94 L510.07,471.44 L510.35,481.82 L510.62,492.80 L510.89,504.07 L511.16,515.36 L511.43,526.37 L511.70,536.86 L511.97,546.57 L512.24,555.29 L512.51,562.85 L512.79,569.09 L513.06,573.91 L513.33,577.21 L513.60,578.95 L513.87,579.11 L514.14,577.67 L514.41,574.66 L514.68,570.12 L514.95,564.14 L515.23,556.82 L515.50,548.33 L515.77,538.81 L516.04,528.49 L516.31,517.59 L516.58,506.34 L516.85,495.02 L517.12,483.90 L517.40,473.26 L517.67,463.37 L517.94,454.50 L518.21,446.89 L518.48,440.76 L518.75,436.30 L519.02,433.66 L519.29,432.94 L519.56,434.08 L519.84,437.09 L520.11,441.97 L520.38,448.64 L520.65,457.00 L520.92,466.90 L521.19,478.13 L521.46,490.46 L521.73,503.60 L522.00,517.22 L522.28,530.97 L522.55,544.49 L522.82,557.40 L523.09,569.33 L523.36,579.93 L523.63,588.88 L523.90,595.88 L524.17,600.72 L524.44,603.22 L524.72,603.31 L524.99,601.02 L525.26,596.44 L525.53,589.71 L525.80,581.03 L526.07,570.64 L526.34,558.85 L526.61,545.97 L526.88,532.34 L527.16,518.33 L527.43,504.28 L527.70,490.55 L527.97,477.46 L528.24,465.32 L528.51,454.41 L528.78,444.96 L529.05,437.17 L529.32,431.20 L529.60,427.16 L529.87,425.13 L530.14,425.14 L530.41,427.24 L530.68,431.40 L530.95,437.52 L531.22,445.45 L531.49,455.01 L531.76,465.96 L532.04,478.05 L532.31,490.98 L532.58,504.45 L532.85,518.12 L533.12,531.67 L533.39,544.77 L533.66,557.08 L533.93,568.32 L534.20,578.20 L534.48,586.46 L534.75,592.91 L535.02,597.37 L535.29,599.72 L535.56,599.91 L535.83,598.07 L536.10,594.20 L536.37,588.32 L536.65,580.51 L536.92,570.87 L537.19,559.55 L537.46,546.78 L537.73,532.81 L538.00,517.94 L538.27,502.53 L538.54,486.97 L538.81,471.67 L539.09,457.06 L539.36,443.56 L539.63,431.58 L539.90,421.51 L540.17,413.68 L540.44,408.35 L540.71,405.73 L540.98,405.89 L541.25,408.75 L541.53,414.20 L541.80,422.09 L542.07,432.17 L542.34,444.18 L542.61,457.77 L542.88,472.60 L543.15,488.25 L543.42,504.32 L543.69,520.42 L543.97,536.12 L544.24,551.06 L544.51,564.88 L544.78,577.25 L545.05,587.90 L545.32,596.60 L545.59,603.16 L545.86,607.46 L546.13,609.42 L546.41,609.00 L546.68,606.17 L546.95,601.00 L547.22,593.64 L547.49,584.27 L547.76,573.12 L548.03,560.48 L548.30,546.67 L548.57,532.02 L548.85,516.90 L549.12,501.67 L549.39,486.71 L549.66,472.39 L549.93,459.04 L550.20,447.00 L550.47,436.55 L550.74,427.94 L551.01,421.39 L551.29,417.04 L551.56,414.99 L551.83,415.27 L552.10,417.74 L552.37,422.38 L552.64,429.13 L552.91,437.90 L553.18,448.55 L553.45,460.88 L553.73,474.67 L554.00,489.62 L554.27,505.40 L554.54,521.64 L554.81,537.93 L555.08,553.85 L555.35,568.96 L555.62,582.84 L555.90,595.06 L556.17,605.26 L556.44,613.10 L556.71,618.32 L556.98,620.74 L557.25,620.29 L557.52,617.10 L557.79,611.26 L558.06,602.93 L558.34,592.32 L558.61,579.72 L558.88,565.45 L559.15,549.88 L559.42,533.41 L559.69,516.45 L559.96,499.44 L560.23,482.79 L560.50,466.93 L560.78,452.24 L561.05,439.08 L561.32,427.77 L561.59,418.57 L561.86,411.70 L562.13,407.31 L562.40,405.50 L562.67,406.30 L562.94,409.72 L563.22,415.66 L563.49,423.94 L563.76,434.32 L564.03,446.52 L564.30,460.21 L564.57,475.03 L564.84,490.60 L565.11,506.53 L565.38,522.42 L565.66,537.89 L565.93,552.58 L566.20,566.14 L566.47,578.26 L566.74,588.67 L567.01,597.15 L567.28,603.52 L567.55,607.65 L567.82,609.45 L568.10,608.94 L568.37,606.21 L568.64,601.27 L568.91,594.19 L569.18,585.05 L569.45,573.99 L569.72,561.21 L569.99,546.95 L570.26,531.50 L570.54,515.21 L570.81,498.46 L571.08,481.68 L571.35,465.30 L571.62,449.77 L571.89,435.56 L572.16,423.08 L572.43,412.73 L572.70,404.85 L572.98,399.71 L573.25,397.49 L573.52,398.25 L573.79,401.82 L574.06,408.12 L574.33,416.97 L574.60,428.15 L574.87,441.36 L575.15,456.27 L575.42,472.50 L575.69,489.62 L575.96,507.22 L576.23,524.84 L576.50,542.05 L576.77,558.41 L577.04,573.53 L577.31,587.04 L577.59,598.62 L577.86,607.98 L578.13,614.90 L578.40,619.24 L578.67,620.90 L578.94,619.83 L579.21,616.03 L579.48,609.64 L579.75,600.83 L580.03,589.84 L580.30,576.99 L580.57,562.60 L580.84,547.06 L581.11,530.76 L581.38,514.11 L581.65,497.52 L581.92,481.40 L582.19,466.12 L582.47,452.05 L582.74,439.50 L583.01,428.77 L583.28,420.07 L583.55,413.61 L583.82,409.51 L584.09,407.86 L584.36,408.66 L584.63,411.87 L584.91,417.42 L585.18,425.25 L585.45,435.20 L585.72,447.09 L585.99,460.68 L586.26,475.67 L586.53,491.73 L586.80,508.50 L587.07,525.56 L587.35,542.49 L587.62,558.86 L587.89,574.21 L588.16,588.14 L588.43,600.24 L588.70,610.16 L588.97,617.60 L589.24,622.33 L589.51,624.19 L589.79,623.16 L590.06,619.35 L590.33,612.86 L590.60,603.84 L590.87,592.54 L591.14,579.22 L591.41,564.23 L591.68,547.94 L591.95,530.76 L592.23,513.12 L592.50,495.45 L592.77,478.20 L593.04,461.80 L593.31,446.65 L593.58,433.12 L593.85,421.54 L594.12,412.21 L594.40,405.34 L594.67,401.10 L594.94,399.59 L595.21,400.87 L595.48,404.95 L595.75,411.70 L596.02,420.92 L596.29,432.33 L596.56,445.60 L596.84,460.38 L597.11,476.26 L597.38,492.82 L597.65,509.65 L597.92,526.32 L598.19,542.43 L598.46,557.60 L598.73,571.49 L599.00,583.78 L599.28,594.22 L599.55,602.59 L599.82,608.72 L600.09,612.51 L600.36,613.89 L600.63,612.85 L600.90,609.42 L601.17,603.65 L601.44,595.63 L601.72,585.51 L601.99,573.48 L602.26,559.80 L602.53,544.74 L602.80,528.65 L603.07,511.90 L603.34,494.90 L603.61,478.07 L603.88,461.86 L604.16,446.69 L604.43,432.99 L604.70,421.14 L604.97,411.49 L605.24,404.35 L605.51,399.92 L605.78,398.36 L606.05,399.66 L606.32,403.71 L606.60,410.42 L606.87,419.61 L607.14,431.06 L607.41,444.49 L607.68,459.56 L607.95,475.90 L608.22,493.11 L608.49,510.75 L608.76,528.40 L609.04,545.62 L609.31,561.97 L609.58,577.06 L609.85,590.52 L610.12,602.00 L610.39,611.24 L610.66,617.99 L610.93,622.10 L611.20,623.46 L611.48,622.00 L611.75,617.71 L612.02,610.74 L612.29,601.29 L612.56,589.62 L612.83,576.07 L613.10,560.99 L613.37,544.80 L613.65,527.91 L613.92,510.76 L614.19,493.78 L614.46,477.38 L614.73,461.94 L615.00,447.83 L615.27,435.36 L615.54,424.81 L615.81,416.40 L616.09,410.30 L616.36,406.63 L616.63,405.46 L616.90,406.84 L617.17,410.76 L617.44,417.14 L617.71,425.83 L617.98,436.63 L618.25,449.28 L618.53,463.48 L618.80,478.91 L619.07,495.17 L619.34,511.89 L619.61,528.65 L619.88,545.04 L620.15,560.66 L620.42,575.12 L620.69,588.05 L620.97,599.12 L621.24,608.05 L621.51,614.61 L621.78,618.61 L622.05,619.96 L622.32,618.62 L622.59,614.63 L622.86,608.08 L623.13,599.10 L623.41,587.92 L623.68,574.78 L623.95,560.01 L624.22,543.95 L624.49,527.01 L624.76,509.59 L625.03,492.14 L625.30,475.08 L625.57,458.86 L625.85,443.87 L626.12,430.52 L626.39,419.14 L626.66,410.02 L626.93,403.42 L627.20,399.50 L627.47,398.37 L627.74,400.10 L628.01,404.67 L628.29,411.92 L628.56,421.64 L628.83,433.56 L629.10,447.33 L629.37,462.59 L629.64,478.91 L629.91,495.88 L630.18,513.05 L630.46,530.00 L630.73,546.33 L631.00,561.63 L631.27,575.56 L631.54,587.82 L631.81,598.13 L632.08,606.28 L632.35,612.11 L632.62,615.51 L632.90,616.43 L633.17,614.78 L633.44,610.57 L633.71,603.90 L633.98,594.94 L634.25,583.90 L634.52,571.06 L634.79,556.75 L635.06,541.30 L635.34,525.10 L635.61,508.56 L635.88,492.08 L636.15,476.07 L636.42,460.92 L636.69,447.01 L636.96,434.68 L637.23,424.24 L637.50,415.95 L637.78,410.00 L638.05,406.55 L638.32,405.68 L638.59,407.37 L638.86,411.57 L639.13,418.20 L639.40,427.10 L639.67,438.09 L639.94,450.92 L640.22,465.29 L640.49,480.87 L640.76,497.29 L641.03,514.16 L641.30,531.05 L641.57,547.54 L641.84,563.23 L642.11,577.69 L642.38,590.56 L642.66,601.50 L642.93,610.20 L643.20,616.43 L643.47,620.01 L643.74,620.85 L644.01,618.92 L644.28,614.30 L644.55,607.10 L644.82,597.53 L645.10,585.82 L645.37,572.29 L645.64,557.28 L645.91,541.18 L646.18,524.40 L646.45,507.36 L646.72,490.48 L646.99,474.19 L647.26,458.87 L647.54,444.91 L647.81,432.64 L648.08,422.34 L648.35,414.26 L648.62,408.57 L648.89,405.42 L649.16,404.85 L649.43,406.90 L649.71,411.52 L649.98,418.58 L650.25,427.90 L650.52,439.25 L650.79,452.35 L651.06,466.86 L651.33,482.43 L651.60,498.67 L651.87,515.18 L652.15,531.55 L652.42,547.39 L652.69,562.30 L652.96,575.93 L653.23,587.93 L653.50,598.03 L653.77,605.97 L654.04,611.57 L654.31,614.69 L654.59,615.26 L654.86,613.25 L655.13,608.73 L655.40,601.79 L655.67,592.62 L655.94,581.44 L656.21,568.53 L656.48,554.20 L656.75,538.82 L657.03,522.76 L657.30,506.41 L657.57,490.19 L657.84,474.49 L658.11,459.69 L658.38,446.17 L658.65,434.25 L658.92,424.23 L659.19,416.35 L659.47,410.81 L659.74,407.75 L660.01,407.23 L660.28,409.25 L660.55,413.74 L660.82,420.60 L661.09,429.70 L661.36,440.81 L661.63,453.69 L661.91,468.04 L662.18,483.51 L662.45,499.73 L662.72,516.32 L662.99,532.85 L663.26,548.92 L663.53,564.12 L663.80,578.06 L664.07,590.38 L664.35,600.77 L664.62,608.93 L664.89,614.66 L665.16,617.79 L665.43,618.25 L665.70,616.01 L665.97,611.17 L666.24,603.83 L666.51,594.19 L666.79,582.51 L667.06,569.08 L667.33,554.25 L667.60,538.40 L667.87,521.91 L668.14,505.20 L668.41,488.69 L668.68,472.78 L668.96,457.86 L669.23,444.29 L669.50,432.38 L669.77,422.44 L670.04,414.68 L670.31,409.29 L670.58,406.39 L670.85,406.05 L671.12,408.29 L671.40,413.07 L671.67,420.27 L671.94,429.71 L672.21,441.16 L672.48,454.34 L672.75,468.93 L673.02,484.56 L673.29,500.85 L673.56,517.40 L673.84,533.80 L674.11,549.65 L674.38,564.55 L674.65,578.15 L674.92,590.09 L675.19,600.09 L675.46,607.89 L675.73,613.31 L676.00,616.20 L676.28,616.50 L676.55,614.21 L676.82,609.38 L677.09,602.12 L677.36,592.61 L677.63,581.07 L677.90,567.79 L678.17,553.07 L678.44,537.28 L678.72,520.81 L678.99,504.06 L679.26,487.45 L679.53,471.39 L679.80,456.27 L680.07,442.49 L680.34,430.39 L680.61,420.27 L680.88,412.40 L681.16,406.97 L681.43,404.13 L681.70,403.95 L681.97,406.43 L682.24,411.50 L682.51,419.04 L682.78,428.85 L683.05,440.69 L683.32,454.26 L683.60,469.23 L683.87,485.20 L684.14,501.80 L684.41,518.61 L684.68,535.22 L684.95,551.20 L685.22,566.19 L685.49,579.79 L685.76,591.69 L686.04,601.59 L686.31,609.26 L686.58,614.51 L686.85,617.21 L687.12,617.29 L687.39,614.77 L687.66,609.69 L687.93,602.18 L688.21,592.42 L688.48,580.64 L688.75,567.14 L689.02,552.24 L689.29,536.31 L689.56,519.73 L689.83,502.92 L690.10,486.29 L690.37,470.26 L690.65,455.22 L690.92,441.54 L691.19,429.57 L691.46,419.61 L691.73,411.91 L692.00,406.67 L692.27,404.01 L692.54,404.02 L692.81,406.67 L693.09,411.92 L693.36,419.62 L693.63,429.58 L693.90,441.56 L694.17,455.24 L694.44,470.28 L694.71,486.31 L694.98,502.93 L695.25,519.72 L695.53,536.27 L695.80,552.16 L696.07,567.00 L696.34,580.44 L696.61,592.13 L696.88,601.80 L697.15,609.20 L697.42,614.17 L697.69,616.59 L697.97,616.40 L698.24,613.59 L698.51,608.24 L698.78,600.50 L699.05,590.56 L699.32,578.68 L699.59,565.18 L699.86,550.38 L700.13,534.66 L700.41,518.42 L700.68,502.06 L700.95,485.97 L701.22,470.56 L701.49,456.18 L701.76,443.20 L702.03,431.91 L702.30,422.58 L702.57,415.44 L702.85,410.64 L703.12,408.30 L703.39,408.46 L703.66,411.09 L703.93,416.13 L704.20,423.49 L704.47,433.01 L704.74,444.48 L705.01,457.65 L705.29,472.21 L705.56,487.84 L705.83,504.15 L706.10,520.74 L706.37,537.22 L706.64,553.16 L706.91,568.16 L707.18,581.82 L707.46,593.78 L707.73,603.71 L708.00,611.35 L708.27,616.48 L708.54,618.94 L708.81,618.66 L709.08,615.67 L709.35,610.04 L709.62,601.94 L709.90,591.59 L710.17,579.27 L710.44,565.32 L710.71,550.09 L710.98,534.00 L711.25,517.43 L711.52,500.82 L711.79,484.57 L712.06,469.08 L712.34,454.70 L712.61,441.79 L712.88,430.63 L713.15,421.47 L713.42,414.52 L713.69,409.92 L713.96,407.76 L714.23,408.10 L714.50,410.93 L714.78,416.21 L715.05,423.81 L715.32,433.56 L715.59,445.25 L715.86,458.59 L716.13,473.28 L716.40,488.97 L716.67,505.27 L716.94,521.79 L717.22,538.12 L717.49,553.85 L717.76,568.58 L718.03,581.94 L718.30,593.57 L718.57,603.18 L718.84,610.50 L719.11,615.34 L719.38,617.57 L719.66,617.12 L719.93,614.00 L720.20,608.29 L720.47,600.15 L720.74,589.81 L721.01,577.55 L721.28,563.69 L721.55,548.60 L721.82,532.65 L722.10,516.27 L722.37,499.85 L722.64,483.80 L722.91,468.51 L723.18,454.35 L723.45,441.65 L723.72,430.69 L723.99,421.74 L724.26,414.98 L724.54,410.57 L724.81,408.59 L725.08,409.09 L725.35,412.08 L725.62,417.49 L725.89,425.19 L726.16,435.01 L726.43,446.73 L726.71,460.07 L726.98,474.70 L727.25,490.28 L727.52,506.43 L727.79,522.75 L728.06,538.84 L728.33,554.29 L728.60,568.72 L728.87,581.77 L729.15,593.08 L729.42,602.38 L729.69,609.42 L729.96,614.00 L730.23,616.02 L730.50,615.41 L730.77,612.22 L731.04,606.53 L731.31,598.48 L731.59,588.27 L731.86,576.15 L732.13,562.43 L732.40,547.44 L732.67,531.56 L732.94,515.18 L733.21,498.70 L733.48,482.53 L733.75,467.08 L734.03,452.72 L734.30,439.80 L734.57,428.64 L734.84,419.52 L735.11,412.66 L735.38,408.23 L735.65,406.34 L735.92,407.02 L736.19,410.24 L736.47,415.92 L736.74,423.95 L737.01,434.12 L737.28,446.21 L737.55,459.93 L737.82,474.96 L738.09,490.92 L738.36,507.44 L738.63,524.10 L738.91,540.50 L739.18,556.23 L739.45,570.88 L739.72,584.09 L739.99,595.51 L740.26,604.85 L740.53,611.87 L740.80,616.38 L741.07,618.26 L741.35,617.44 L741.62,613.94 L741.89,607.84 L742.16,599.33 L742.43,588.64 L742.70,576.06 L742.97,561.94 L743.24,546.63 L743.51,530.54 L743.79,514.08 L744.06,497.65 L744.33,481.67 L744.60,466.51 L744.87,452.54 L745.14,440.08 L745.41,429.41 L745.68,420.77 L745.96,414.35 L746.23,410.28 L746.50,408.64 L746.77,409.45 L747.04,412.70 L747.31,418.31 L747.58,426.19 L747.85,436.17 L748.12,448.04 L748.40,461.53 L748.67,476.35 L748.94,492.16 L749.21,508.56 L749.48,525.17 L749.75,541.58 L750.02,557.36 L750.29,572.10 L750.56,585.41 L750.84,596.94 L751.11,606.36 L751.38,613.41 L751.65,617.88 L751.92,619.63 L752.19,618.63 L752.46,614.92 L752.73,608.60 L753.00,599.87 L753.28,588.94 L753.55,576.11 L753.82,561.72 L754.09,546.14 L754.36,529.76 L754.63,513.01 L754.90,496.30 L755.17,480.03 L755.44,464.61 L755.72,450.41 L755.99,437.75 L756.26,426.93 L756.53,418.19 L756.80,411.74 L757.07,407.71 L757.34,406.19 L757.61,407.22 L757.88,410.81 L758.16,416.86 L758.43,425.23 L758.70,435.72 L758.97,448.09 L759.24,462.02 L759.51,477.17 L759.78,493.19 L760.05,509.67 L760.32,526.21 L760.60,542.39 L760.87,557.83 L761.14,572.12 L761.41,584.92 L761.68,595.91 L761.95,604.80 L762.22,611.37 L762.49,615.46 L762.76,616.95 L763.04,615.83 L763.31,612.11 L763.58,605.89 L763.85,597.33 L764.12,586.64 L764.39,574.08 L764.66,559.96 L764.93,544.63 L765.21,528.47 L765.48,511.88 L765.75,495.27 L766.02,479.05 L766.29,463.62 L766.56,449.35 L766.83,436.62 L767.10,425.72 L767.37,416.93 L767.65,410.46 L767.92,406.48 L768.19,405.09 L768.46,406.31 L768.73,410.13 L769.00,416.44 L769.27,425.09 L769.54,435.86 L769.81,448.49 L770.09,462.66 L770.36,478.02 L770.63,494.19 L770.90,510.77 L771.17,527.35 L771.44,543.51 L771.71,558.86 L771.98,573.02 L772.25,585.64 L772.53,596.41 L772.80,605.06 L773.07,611.38 L773.34,615.22 L773.61,616.48" fill="none" stroke="#8e8e8e" stroke-width="0.69" stroke-linejoin="round"/>
<path d="M448.80,498.27 L448.80,507.26 L449.14,508.65 L449.47,509.88 L449.60,510.28 L449.81,510.77 L450.14,511.17 L450.40,511.37 L450.48,511.43 L450.81,511.64 L451.15,511.81 L451.20,511.83 L451.48,511.93 L451.82,511.99 L452.00,512.00 L452.16,511.99 L452.49,511.94 L452.80,511.84 L452.83,511.84 L453.16,511.70 L453.50,511.54 L453.61,511.48 L453.83,511.36 L454.17,511.18 L454.41,511.05 L454.50,511.00 L454.84,510.83 L455.18,510.64 L455.21,510.62 L455.51,510.44 L455.85,510.23 L456.01,510.12 L456.18,510.00 L456.52,509.76 L456.81,509.55 L456.85,509.51 L457.19,509.24 L457.52,508.96 L457.61,508.89 L457.86,508.66 L458.20,508.35 L458.41,508.13 L458.53,508.01 L458.87,507.66 L459.20,507.29 L459.21,507.28 L459.54,506.87 L459.87,506.37 L460.01,506.15 L460.21,505.81 L460.54,505.18 L460.81,504.63 L460.88,504.49 L461.22,503.76 L461.55,502.99 L461.62,502.83 L461.89,502.18 L462.22,501.35 L462.42,500.86 L462.56,500.50 L462.89,499.64 L463.22,498.81 L463.23,498.78 L463.56,497.93 L463.90,497.09 L464.02,496.80 L464.24,496.27 L464.57,495.47 L464.82,494.91 L464.91,494.72 L465.24,494.00 L465.58,493.31 L465.62,493.23 L465.91,492.63 L466.25,491.95 L466.42,491.60 L466.58,491.28 L466.92,490.60 L467.22,490.00 L467.26,489.94 L467.59,489.28 L467.93,488.62 L468.02,488.43 L468.26,487.96 L468.60,487.31 L468.82,486.87 L468.93,486.66 L469.27,486.02 L469.61,485.38 L469.63,485.34 L469.94,484.74 L470.28,484.10 L470.43,483.82 L470.61,483.47 L470.95,482.84 L471.23,482.31 L471.28,482.21 L471.62,481.58 L471.95,480.95 L472.03,480.81 L472.29,480.33 L472.63,479.71 L472.83,479.33 L472.96,479.09 L473.30,478.47 L473.63,477.85 L473.63,477.85 L473.97,477.23 L474.30,476.62 L474.43,476.38 L474.64,476.00 L474.97,475.39 L475.23,474.91 L475.31,474.77 L475.65,474.16 L475.98,473.54 L476.03,473.44 L476.32,472.93 L476.65,472.31 L476.83,471.97 L476.99,471.69 L477.32,471.08 L477.64,470.50 L477.66,470.46 L477.99,469.84 L478.33,469.23 L478.44,469.03 L478.67,468.61 L479.00,468.00 L479.24,467.57 L479.34,467.39 L479.67,466.78 L480.01,466.17 L480.04,466.11 L480.34,465.56 L480.68,464.95 L480.84,464.66 L481.01,464.35 L481.35,463.75 L481.64,463.23 L481.69,463.15 L482.02,462.56 L482.36,461.96 L482.44,461.81 L482.69,461.38 L483.03,460.79 L483.24,460.42 L483.36,460.21 L483.70,459.63 L484.03,459.06 L484.04,459.05 L484.37,458.49 L484.71,457.93 L484.84,457.70 L485.04,457.37 L485.38,456.82 L485.65,456.38 L485.71,456.27 L486.05,455.73 L486.38,455.20 L486.45,455.09 L486.72,454.67 L487.05,454.14 L487.25,453.84 L487.39,453.61 L487.73,453.09 L488.05,452.58 L488.06,452.57 L488.40,452.04 L488.73,451.52 L488.85,451.34 L489.07,451.01 L489.40,450.49 L489.65,450.11 L489.74,449.98 L490.07,449.47 L490.41,448.96 L490.45,448.90 L490.75,448.45 L491.08,447.95 L491.25,447.70 L491.42,447.45 L491.75,446.96 L492.05,446.52 L492.09,446.47 L492.42,445.98 L492.76,445.50 L492.85,445.36 L493.09,445.02 L493.43,444.54 L493.66,444.22 L493.77,444.07 L494.10,443.60 L494.44,443.14 L494.46,443.12 L494.77,442.69 L495.11,442.24 L495.26,442.04 L495.44,441.79 L495.78,441.35 L496.06,440.99 L496.11,440.92 L496.45,440.49 L496.79,440.07 L496.86,439.98 L497.12,439.65 L497.46,439.25 L497.66,439.00 L497.79,438.84 L498.13,438.45 L498.46,438.06 L498.46,438.06 L498.80,437.68 L499.13,437.30 L499.26,437.16 L499.47,436.92 L499.81,436.55 L500.06,436.27 L500.14,436.18 L500.48,435.81 L500.81,435.45 L500.86,435.40 L501.15,435.09 L501.48,434.74 L501.67,434.55 L501.82,434.39 L502.15,434.04 L502.47,433.72 L502.49,433.69 L502.83,433.35 L503.16,433.02 L503.27,432.91 L503.50,432.68 L503.83,432.36 L504.07,432.13 L504.17,432.03 L504.50,431.71 L504.84,431.40 L504.87,431.37 L505.17,431.09 L505.51,430.78 L505.67,430.63 L505.85,430.48 L506.18,430.18 L506.47,429.93 L506.52,429.89 L506.85,429.60 L507.19,429.31 L507.27,429.24 L507.52,429.03 L507.86,428.76 L508.07,428.59 L508.19,428.49 L508.53,428.23 L508.87,427.97 L508.87,427.96 L509.20,427.71 L509.54,427.46 L509.68,427.36 L509.87,427.21 L510.21,426.96 L510.48,426.77 L510.54,426.72 L510.88,426.48 L511.22,426.24 L511.28,426.19 L511.55,426.00 L511.89,425.77 L512.08,425.63 L512.22,425.54 L512.56,425.31 L512.88,425.09 L512.89,425.08 L513.23,424.86 L513.56,424.64 L513.68,424.56 L513.90,424.42 L514.24,424.21 L514.48,424.05 L514.57,423.99 L514.91,423.79 L515.24,423.58 L515.28,423.55 L515.58,423.38 L515.91,423.18 L516.08,423.08 L516.25,422.98 L516.58,422.78 L516.88,422.61 L516.92,422.59 L517.26,422.40 L517.59,422.22 L517.69,422.17 L517.93,422.04 L518.26,421.86 L518.49,421.74 L518.60,421.68 L518.93,421.51 L519.27,421.34 L519.29,421.33 L519.60,421.17 L519.94,421.01 L520.09,420.94 L520.28,420.85 L520.61,420.69 L520.89,420.56 L520.95,420.54 L521.28,420.39 L521.62,420.24 L521.69,420.21 L521.95,420.09 L522.29,419.95 L522.49,419.86 L522.62,419.81 L522.96,419.67 L523.29,419.53 L523.30,419.53 L523.63,419.40 L523.97,419.26 L524.09,419.21 L524.30,419.13 L524.64,419.00 L524.89,418.90 L524.97,418.87 L525.31,418.75 L525.64,418.62 L525.70,418.60 L525.98,418.50 L526.32,418.38 L526.50,418.31 L526.65,418.25 L526.99,418.13 L527.30,418.02 L527.32,418.01 L527.66,417.90 L527.99,417.78 L528.10,417.74 L528.33,417.66 L528.66,417.54 L528.90,417.46 L529.00,417.43 L529.70,417.18 L530.50,416.90 L531.30,416.62 L532.10,416.34 L532.90,416.06 L533.71,415.78 L534.51,415.50 L535.31,415.22 L536.11,414.95 L536.91,414.69 L537.71,414.44 L538.51,414.19 L539.31,413.96 L540.11,413.74 L540.91,413.54 L541.72,413.34 L542.52,413.16 L543.32,412.98 L544.12,412.81 L544.92,412.64 L545.72,412.48 L546.52,412.32 L547.32,412.17 L548.12,412.02 L548.92,411.88 L549.73,411.74 L550.53,411.61 L551.33,411.48 L552.13,411.35 L552.93,411.23 L553.73,411.11 L554.53,410.99 L555.33,410.87 L556.13,410.76 L556.93,410.65 L557.74,410.54 L558.54,410.44 L559.34,410.34 L560.14,410.24 L560.94,410.15 L561.74,410.06 L562.54,409.97 L563.34,409.88 L564.14,409.80 L564.94,409.72 L565.75,409.63 L566.55,409.55 L567.35,409.47 L568.15,409.39 L568.95,409.32 L569.75,409.25 L570.55,409.18 L571.35,409.12 L572.15,409.06 L572.95,409.01 L573.76,408.97 L574.56,408.93 L575.36,408.89 L576.16,408.86 L576.96,408.82 L577.76,408.78 L578.56,408.75 L579.36,408.71 L580.16,408.68 L580.96,408.65 L581.77,408.61 L582.57,408.58 L583.37,408.55 L584.17,408.53 L584.97,408.50 L585.77,408.47 L586.57,408.45 L587.37,408.43 L588.17,408.41 L588.97,408.39 L589.78,408.37 L590.58,408.35 L591.38,408.34 L592.18,408.33 L592.98,408.32 L593.78,408.31 L594.58,408.30 L595.38,408.30 L596.18,408.30 L596.98,408.29 L597.79,408.29 L598.59,408.29 L599.39,408.28 L600.19,408.28 L600.99,408.28 L601.79,408.27 L602.59,408.27 L603.39,408.27 L604.19,408.27 L604.99,408.26 L605.80,408.26 L606.60,408.26 L607.40,408.25 L608.20,408.25 L609.00,408.25 L609.80,408.25 L610.60,408.24 L611.40,408.24 L612.20,408.24 L613.00,408.23 L613.80,408.23 L614.61,408.23 L615.41,408.23 L616.21,408.22 L617.01,408.22 L617.81,408.22 L618.61,408.22 L619.41,408.21 L620.21,408.21 L621.01,408.21 L621.81,408.21 L622.62,408.20 L623.42,408.20 L624.22,408.20 L625.02,408.20 L625.82,408.19 L626.62,408.19 L627.42,408.19 L628.22,408.19 L629.02,408.18 L629.82,408.18 L630.63,408.18 L631.43,408.18 L632.23,408.17 L633.03,408.17 L633.83,408.17 L634.63,408.17 L635.43,408.17 L636.23,408.16 L637.03,408.16 L637.83,408.16 L638.64,408.16 L639.44,408.16 L640.24,408.15 L641.04,408.15 L641.84,408.15 L642.64,408.15 L643.44,408.15 L644.24,408.14 L645.04,408.14 L645.84,408.14 L646.65,408.14 L647.45,408.14 L648.25,408.13 L649.05,408.13 L649.85,408.13 L650.65,408.13 L651.45,408.13 L652.25,408.12 L653.05,408.12 L653.85,408.12 L654.66,408.12 L655.46,408.12 L656.26,408.12 L657.06,408.11 L657.86,408.11 L658.66,408.11 L659.46,408.11 L660.26,408.11 L661.06,408.11 L661.86,408.10 L662.67,408.10 L663.47,408.10 L664.27,408.10 L665.07,408.10 L665.87,408.10 L666.67,408.10 L667.47,408.09 L668.27,408.09 L669.07,408.09 L669.87,408.09 L670.68,408.09 L671.48,408.09 L672.28,408.09 L673.08,408.08 L673.88,408.08 L674.68,408.08 L675.48,408.08 L676.28,408.08 L677.08,408.08 L677.88,408.08 L678.69,408.08 L679.49,408.07 L680.29,408.07 L681.09,408.07 L681.89,408.07 L682.69,408.07 L683.49,408.07 L684.29,408.07 L685.09,408.07 L685.89,408.07 L686.70,408.06 L687.50,408.06 L688.30,408.06 L689.10,408.06 L689.90,408.06 L690.70,408.06 L691.50,408.06 L692.30,408.06 L693.10,408.06 L693.90,408.06 L694.71,408.05 L695.51,408.05 L696.31,408.05 L697.11,408.05 L697.91,408.05 L698.71,408.05 L699.51,408.05 L700.31,408.05 L701.11,408.05 L701.91,408.05 L702.72,408.05 L703.52,408.04 L704.32,408.04 L705.12,408.04 L705.92,408.04 L706.72,408.04 L707.52,408.04 L708.32,408.04 L709.12,408.04 L709.92,408.04 L710.73,408.04 L711.53,408.04 L712.33,408.04 L713.13,408.04 L713.93,408.04 L714.73,408.04 L715.53,408.03 L716.33,408.03 L717.13,408.03 L717.93,408.03 L718.74,408.03 L719.54,408.03 L720.34,408.03 L721.14,408.03 L721.94,408.03 L722.74,408.03 L723.54,408.03 L724.34,408.03 L725.14,408.03 L725.94,408.03 L726.75,408.03 L727.55,408.03 L728.35,408.03 L729.15,408.03 L729.95,408.03 L730.75,408.03 L731.55,408.02 L732.35,408.02 L733.15,408.02 L733.95,408.02 L734.76,408.02 L735.56,408.02 L736.36,408.02 L737.16,408.02 L737.96,408.02 L738.76,408.02 L739.56,408.02 L740.36,408.02 L741.16,408.02 L741.96,408.02 L742.77,408.02 L743.57,408.02 L744.37,408.02 L745.17,408.02 L745.97,408.02 L746.77,408.02 L747.57,408.02 L748.37,408.02 L749.17,408.02 L749.97,408.02 L750.78,408.02 L751.58,408.02 L752.38,408.02 L753.18,408.02 L753.98,408.02 L754.78,408.02 L755.58,408.02 L756.38,408.02 L757.18,408.02 L757.98,408.02 L758.79,408.02 L759.59,408.02 L760.39,408.02 L761.19,408.02 L761.99,408.02 L762.79,408.02 L763.59,408.02 L764.39,408.02 L765.19,408.02 L765.99,408.02 L766.80,408.02 L767.60,408.02 L768.40,408.02" fill="none" stroke="#000" stroke-width="3.77" stroke-linejoin="round"/>
<path d="M448.80,495.42 L449.14,493.07 L449.47,490.76 L449.60,489.87 L449.81,488.47 L450.14,486.23 L450.40,484.52 L450.48,484.03 L450.81,481.88 L451.15,479.78 L451.20,479.45 L451.48,477.74 L451.82,475.77 L452.00,474.71 L452.16,473.85 L452.49,472.01 L452.80,470.35 L452.83,470.24 L453.16,468.53 L453.50,466.84 L453.61,466.31 L453.83,465.19 L454.17,463.58 L454.41,462.45 L454.50,461.99 L454.84,460.44 L455.18,458.92 L455.21,458.77 L455.51,457.43 L455.85,455.98 L456.01,455.28 L456.18,454.55 L456.52,453.16 L456.81,451.98 L456.85,451.81 L457.19,450.48 L457.52,449.19 L457.61,448.86 L457.86,447.93 L458.20,446.70 L458.41,445.93 L458.53,445.50 L458.87,444.34 L459.20,443.22 L459.21,443.19 L459.54,442.15 L459.87,441.11 L460.01,440.68 L460.21,440.10 L460.54,439.12 L460.81,438.34 L460.88,438.16 L461.22,437.22 L461.55,436.29 L461.62,436.11 L461.89,435.37 L462.22,434.45 L462.42,433.92 L462.56,433.53 L462.89,432.60 L463.22,431.71 L463.23,431.68 L463.56,430.77 L463.90,429.86 L464.02,429.54 L464.24,428.96 L464.57,428.09 L464.82,427.46 L464.91,427.24 L465.24,426.41 L465.58,425.61 L465.62,425.52 L465.91,424.85 L466.25,424.13 L466.42,423.77 L466.58,423.42 L466.92,422.73 L467.22,422.11 L467.26,422.05 L467.59,421.38 L467.93,420.73 L468.02,420.54 L468.26,420.10 L468.60,419.48 L468.82,419.08 L468.93,418.89 L469.27,418.32 L469.61,417.78 L469.63,417.74 L469.94,417.26 L470.28,416.76 L470.43,416.55 L470.61,416.30 L470.95,415.86 L471.23,415.50 L471.28,415.43 L471.62,415.01 L471.95,414.60 L472.03,414.52 L472.29,414.21 L472.63,413.83 L472.83,413.61 L472.96,413.47 L473.30,413.11 L473.63,412.77 L473.63,412.77 L473.97,412.43 L474.30,412.11 L474.43,411.99 L474.64,411.80 L474.97,411.51 L475.23,411.28 L475.31,411.22 L475.65,410.94 L475.98,410.67 L476.03,410.63 L476.32,410.41 L476.65,410.15 L476.83,410.01 L476.99,409.89 L477.32,409.65 L477.64,409.42 L477.66,409.40 L477.99,409.17 L478.33,408.94 L478.44,408.87 L478.67,408.73 L479.00,408.52 L479.24,408.38 L479.34,408.32 L479.67,408.13 L480.01,407.95 L480.04,407.94 L480.34,407.78 L480.68,407.63 L480.84,407.56 L481.01,407.49 L481.35,407.35 L481.64,407.24 L481.69,407.22 L482.02,407.10 L482.36,406.99 L482.44,406.96 L482.69,406.87 L483.03,406.77 L483.24,406.70 L483.36,406.67 L483.70,406.57 L484.03,406.47 L484.04,406.47 L484.37,406.38 L484.71,406.29 L484.84,406.25 L485.04,406.20 L485.38,406.11 L485.65,406.04 L485.71,406.02 L486.05,405.93 L486.38,405.85 L486.45,405.83 L486.72,405.76 L487.05,405.68 L487.25,405.63 L487.39,405.59 L487.73,405.51 L488.05,405.43 L488.06,405.43 L488.40,405.35 L488.73,405.27 L488.85,405.24 L489.07,405.19 L489.40,405.11 L489.65,405.05 L489.74,405.03 L490.07,404.96 L490.41,404.88 L490.45,404.87 L490.75,404.81 L491.08,404.74 L491.25,404.70 L491.42,404.66 L491.75,404.59 L492.05,404.53 L492.09,404.52 L492.42,404.45 L492.76,404.39 L492.85,404.37 L493.09,404.32 L493.43,404.26 L493.66,404.21 L493.77,404.19 L494.10,404.13 L494.44,404.07 L494.46,404.06 L494.77,404.01 L495.11,403.95 L495.26,403.92 L495.44,403.89 L495.78,403.83 L496.06,403.78 L496.11,403.78 L496.45,403.72 L496.79,403.66 L496.86,403.65 L497.12,403.60 L497.46,403.54 L497.66,403.51 L497.79,403.49 L498.13,403.43 L498.46,403.38 L498.46,403.38 L498.80,403.32 L499.13,403.27 L499.26,403.25 L499.47,403.22 L499.81,403.17 L500.06,403.13 L500.14,403.12 L500.48,403.07 L500.81,403.03 L500.86,403.02 L501.15,402.99 L501.48,402.95 L501.67,402.93 L501.82,402.91 L502.15,402.88 L502.47,402.85 L502.49,402.85 L502.83,402.82 L503.16,402.80 L503.27,402.79 L503.50,402.78 L503.83,402.76 L504.07,402.74 L504.17,402.74 L504.50,402.72 L504.84,402.70 L504.87,402.70 L505.17,402.68 L505.51,402.66 L505.67,402.65 L505.85,402.64 L506.18,402.62 L506.47,402.60 L506.52,402.60 L506.85,402.58 L507.19,402.56 L507.27,402.56 L507.52,402.54 L507.86,402.53 L508.07,402.52 L508.19,402.51 L508.53,402.49 L508.87,402.47 L508.87,402.47 L509.20,402.46 L509.54,402.44 L509.68,402.44 L509.87,402.43 L510.21,402.41 L510.48,402.40 L510.54,402.40 L510.88,402.38 L511.22,402.37 L511.28,402.36 L511.55,402.35 L511.89,402.34 L512.08,402.33 L512.22,402.33 L512.56,402.31 L512.88,402.30 L512.89,402.30 L513.23,402.29 L513.56,402.28 L513.68,402.27 L513.90,402.27 L514.24,402.25 L514.48,402.25 L514.57,402.24 L514.91,402.23 L515.24,402.23 L515.28,402.22 L515.58,402.22 L515.91,402.21 L516.08,402.20 L516.25,402.20 L516.58,402.19 L516.88,402.19 L516.92,402.19 L517.26,402.18 L517.59,402.17 L517.69,402.17 L517.93,402.17 L518.26,402.16 L518.49,402.16 L518.60,402.16 L518.93,402.16 L519.27,402.15 L519.29,402.15 L519.60,402.15 L519.94,402.15 L520.09,402.15 L520.28,402.15 L520.61,402.15 L520.89,402.15 L520.95,402.15 L521.28,402.14 L521.62,402.14 L521.69,402.14 L521.95,402.14 L522.29,402.14 L522.49,402.14 L522.62,402.14 L522.96,402.14 L523.29,402.14 L523.30,402.14 L523.63,402.14 L523.97,402.14 L524.09,402.14 L524.30,402.14 L524.64,402.14 L524.89,402.14 L524.97,402.14 L525.31,402.14 L525.64,402.14 L525.70,402.14 L525.98,402.14 L526.32,402.14 L526.50,402.14 L526.65,402.14 L526.99,402.14 L527.30,402.14 L527.32,402.14 L527.66,402.14 L527.99,402.14 L528.10,402.14 L528.33,402.14 L528.66,402.14 L528.90,402.14 L529.00,402.14 L529.70,402.14 L530.50,402.14 L531.30,402.14 L532.10,402.14 L532.90,402.14 L533.71,402.14 L534.51,402.14 L535.31,402.14 L536.11,402.14 L536.91,402.14 L537.71,402.14 L538.51,402.14 L539.31,402.14 L540.11,402.14 L540.91,402.14 L541.72,402.14 L542.52,402.14 L543.32,402.14 L544.12,402.14 L544.92,402.14 L545.72,402.14 L546.52,402.14 L547.32,402.14 L548.12,402.14 L548.92,402.14 L549.73,402.14 L550.53,402.14 L551.33,402.14 L552.13,402.14 L552.93,402.14 L553.73,402.14 L554.53,402.14 L555.33,402.14 L556.13,402.14 L556.93,402.14 L557.74,402.14 L558.54,402.14 L559.34,402.14 L560.14,402.14 L560.94,402.14 L561.74,402.14 L562.54,402.14 L563.34,402.14 L564.14,402.14 L564.94,402.14 L565.75,402.14 L566.55,402.14 L567.35,402.14 L568.15,402.14 L568.95,402.14 L569.75,402.14 L570.55,402.14 L571.35,402.14 L572.15,402.14 L572.95,402.14 L573.76,402.14 L574.56,402.14 L575.36,402.14 L576.16,402.14 L576.96,402.14 L577.76,402.14 L578.56,402.14 L579.36,402.14 L580.16,402.14 L580.96,402.14 L581.77,402.14 L582.57,402.14 L583.37,402.14 L584.17,402.14 L584.97,402.14 L585.77,402.14 L586.57,402.14 L587.37,402.14 L588.17,402.14 L588.97,402.14 L589.78,402.14 L590.58,402.14 L591.38,402.14 L592.18,402.14 L592.98,402.14 L593.78,402.14 L594.58,402.14 L595.38,402.14 L596.18,402.14 L596.98,402.14 L597.79,402.14 L598.59,402.14 L599.39,402.14 L600.19,402.14 L600.99,402.14 L601.79,402.14 L602.59,402.14 L603.39,402.14 L604.19,402.14 L604.99,402.14 L605.80,402.14 L606.60,402.14 L607.40,402.14 L608.20,402.14 L609.00,402.14 L609.80,402.14 L610.60,402.14 L611.40,402.14 L612.20,402.14 L613.00,402.14 L613.80,402.14 L614.61,402.14 L615.41,402.14 L616.21,402.14 L617.01,402.14 L617.81,402.14 L618.61,402.14 L619.41,402.14 L620.21,402.14 L621.01,402.14 L621.81,402.14 L622.62,402.14 L623.42,402.14 L624.22,402.14 L625.02,402.14 L625.82,402.14 L626.62,402.14 L627.42,402.14 L628.22,402.14 L629.02,402.14 L629.82,402.14 L630.63,402.14 L631.43,402.14 L632.23,402.14 L633.03,402.14 L633.83,402.14 L634.63,402.14 L635.43,402.14 L636.23,402.14 L637.03,402.14 L637.83,402.14 L638.64,402.14 L639.44,402.14 L640.24,402.14 L641.04,402.14 L641.84,402.14 L642.64,402.14 L643.44,402.14 L644.24,402.14 L645.04,402.14 L645.84,402.14 L646.65,402.14 L647.45,402.14 L648.25,402.14 L649.05,402.14 L649.85,402.14 L650.65,402.14 L651.45,402.14 L652.25,402.14 L653.05,402.14 L653.85,402.14 L654.66,402.14 L655.46,402.14 L656.26,402.14 L657.06,402.14 L657.86,402.14 L658.66,402.14 L659.46,402.14 L660.26,402.14 L661.06,402.14 L661.86,402.14 L662.67,402.14 L663.47,402.14 L664.27,402.14 L665.07,402.14 L665.87,402.14 L666.67,402.14 L667.47,402.14 L668.27,402.14 L669.07,402.14 L669.87,402.14 L670.68,402.14 L671.48,402.14 L672.28,402.14 L673.08,402.14 L673.88,402.14 L674.68,402.14 L675.48,402.14 L676.28,402.14 L677.08,402.14 L677.88,402.14 L678.69,402.14 L679.49,402.14 L680.29,402.14 L681.09,402.14 L681.89,402.14 L682.69,402.14 L683.49,402.14 L684.29,402.14 L685.09,402.14 L685.89,402.14 L686.70,402.14 L687.50,402.14 L688.30,402.14 L689.10,402.14 L689.90,402.14 L690.70,402.14 L691.50,402.14 L692.30,402.14 L693.10,402.14 L693.90,402.14 L694.71,402.14 L695.51,402.14 L696.31,402.14 L697.11,402.14 L697.91,402.14 L698.71,402.14 L699.51,402.14 L700.31,402.14 L701.11,402.14 L701.91,402.14 L702.72,402.14 L703.52,402.14 L704.32,402.14 L705.12,402.14 L705.92,402.14 L706.72,402.14 L707.52,402.14 L708.32,402.14 L709.12,402.14 L709.92,402.14 L710.73,402.14 L711.53,402.14 L712.33,402.14 L713.13,402.14 L713.93,402.14 L714.73,402.14 L715.53,402.14 L716.33,402.14 L717.13,402.14 L717.93,402.14 L718.74,402.14 L719.54,402.14 L720.34,402.14 L721.14,402.14 L721.94,402.14 L722.74,402.14 L723.54,402.14 L724.34,402.14 L725.14,402.14 L725.94,402.14 L726.75,402.14 L727.55,402.14 L728.35,402.14 L729.15,402.14 L729.95,402.14 L730.75,402.14 L731.55,402.14 L732.35,402.14 L733.15,402.14 L733.95,402.14 L734.76,402.14 L735.56,402.14 L736.36,402.14 L737.16,402.14 L737.96,402.14 L738.76,402.14 L739.56,402.14 L740.36,402.14 L741.16,402.14 L741.96,402.14 L742.77,402.14 L743.57,402.14 L744.37,402.14 L745.17,402.14 L745.97,402.14 L746.77,402.14 L747.57,402.14 L748.37,402.14 L749.17,402.14 L749.97,402.14 L750.78,402.14 L751.58,402.14 L752.38,402.14 L753.18,402.14 L753.98,402.14 L754.78,402.14 L755.58,402.14 L756.38,402.14 L757.18,402.14 L757.98,402.14 L758.79,402.14 L759.59,402.14 L760.39,402.14 L761.19,402.14 L761.99,402.14 L762.79,402.14 L763.59,402.14 L764.39,402.14 L765.19,402.14 L765.99,402.14 L766.80,402.14 L767.60,402.14 L768.40,402.14" fill="none" stroke="#000" stroke-width="3.77" stroke-dasharray="10.49 2.85 3.46 2.85" stroke-dashoffset="13.35" stroke-linejoin="round"/>
</g>
<rect x="448.80" y="369.00" width="360.90" height="284.10" fill="none" stroke="#6a6a6a" stroke-width="0.9"/>
<path d="M488.81 653.10v-3.77M488.81 369.00v3.77M528.82 653.10v-3.77M528.82 369.00v3.77M568.83 653.10v-3.77M568.83 369.00v3.77M608.84 653.10v-3.77M608.84 369.00v3.77M648.86 653.10v-3.77M648.86 369.00v3.77M688.87 653.10v-3.77M688.87 369.00v3.77M728.88 653.10v-3.77M728.88 369.00v3.77M768.89 653.10v-3.77M768.89 369.00v3.77M448.80 416.35h3.77M809.70 416.35h-3.77M448.80 463.70h3.77M809.70 463.70h-3.77M448.80 511.05h3.77M809.70 511.05h-3.77M448.80 558.40h3.77M809.70 558.40h-3.77M448.80 605.75h3.77M809.70 605.75h-3.77" fill="none" stroke="#6a6a6a" stroke-width="0.9"/>
<rect x="647.18" y="598.69" width="157.42" height="49.42" fill="#fff" stroke="#6a6a6a" stroke-width="0.9"/>
<path d="M653.91 608.06H686.21" stroke="#000" stroke-width="3.77" stroke-dasharray="10.49 2.85 3.46 2.85"/>
<path d="M653.91 623.65H686.21" stroke="#000" stroke-width="3.77"/>
<path d="M653.91 638.53H686.21" stroke="#b4b4b4" stroke-width="0.82"/>
<g fill="#111" stroke="#111" stroke-width="0.15">
<text transform="translate(449.10 665.50) scale(1.130 1)" font-size="9.90" text-anchor="middle">0</text>
<text transform="translate(489.11 665.50) scale(1.130 1)" font-size="9.90" text-anchor="middle">1</text>
<text transform="translate(529.12 665.50) scale(1.130 1)" font-size="9.90" text-anchor="middle">2</text>
<text transform="translate(569.13 665.50) scale(1.130 1)" font-size="9.90" text-anchor="middle">3</text>
<text transform="translate(609.14 665.50) scale(1.130 1)" font-size="9.90" text-anchor="middle">4</text>
<text transform="translate(649.16 665.50) scale(1.130 1)" font-size="9.90" text-anchor="middle">5</text>
<text transform="translate(689.17 665.50) scale(1.130 1)" font-size="9.90" text-anchor="middle">6</text>
<text transform="translate(729.18 665.50) scale(1.130 1)" font-size="9.90" text-anchor="middle">7</text>
<text transform="translate(769.19 665.50) scale(1.130 1)" font-size="9.90" text-anchor="middle">8</text>
<text transform="translate(809.20 665.50) scale(1.130 1)" font-size="9.90" text-anchor="middle">9</text>
<text transform="translate(445.60 372.40) scale(1.120 1)" font-size="9.90" text-anchor="end">1.5</text>
<text transform="translate(445.60 419.75) scale(1.120 1)" font-size="9.90" text-anchor="end">1</text>
<text transform="translate(445.60 467.10) scale(1.120 1)" font-size="9.90" text-anchor="end">0.5</text>
<text transform="translate(445.60 514.45) scale(1.120 1)" font-size="9.90" text-anchor="end">0</text>
<text transform="translate(445.60 561.80) scale(1.120 1)" font-size="9.90" text-anchor="end">-0.5</text>
<text transform="translate(445.60 609.15) scale(1.120 1)" font-size="9.90" text-anchor="end">-1</text>
<text transform="translate(445.60 656.50) scale(1.120 1)" font-size="9.90" text-anchor="end">-1.5</text>
<text transform="translate(782.09 685.81) scale(1.100 1)" font-size="9.90" text-anchor="start">x 10</text>
<text transform="translate(803.69 678.88) scale(1.100 1)" font-size="6.44" text-anchor="start">-9</text>
<text transform="translate(639.50 683.00) scale(1.040 1)" font-size="12.70" text-anchor="middle">time(Second)</text>
<text transform="translate(417.50 512.60) rotate(-90) scale(1.090 1)" font-size="12.70" text-anchor="middle">Vod(V)</text>
</g>
<g fill="#111" stroke="#111" stroke-width="0.2">
<text transform="translate(690.69 612.24) scale(1.100 1)" font-size="10.80" text-anchor="start">Equation (32)</text>
<text transform="translate(690.69 628.03) scale(1.100 1)" font-size="10.80" text-anchor="start">Our analytic Eq. (31)</text>
<text transform="translate(690.69 642.71) scale(1.050 1)" font-size="10.80" text-anchor="start">Simulation</text>
</g>
</g>
<text font-family="'Liberation Serif', serif" font-weight="bold" font-size="16" text-anchor="middle" fill="#111" transform="translate(220.8 344.0) scale(1.05 1)">(a)</text>
<text font-family="'Liberation Serif', serif" font-weight="bold" font-size="16" text-anchor="middle" fill="#111" transform="translate(626.2 344.0) scale(1.05 1)">(b)</text>
<text font-family="'Liberation Serif', serif" font-weight="bold" font-size="16" text-anchor="middle" fill="#111" transform="translate(220.6 703.3) scale(1.05 1)">(c)</text>
<text font-family="'Liberation Serif', serif" font-weight="bold" font-size="16" text-anchor="middle" fill="#111" transform="translate(626.2 703.3) scale(1.05 1)">(d)</text>
</svg>
</body></html>
